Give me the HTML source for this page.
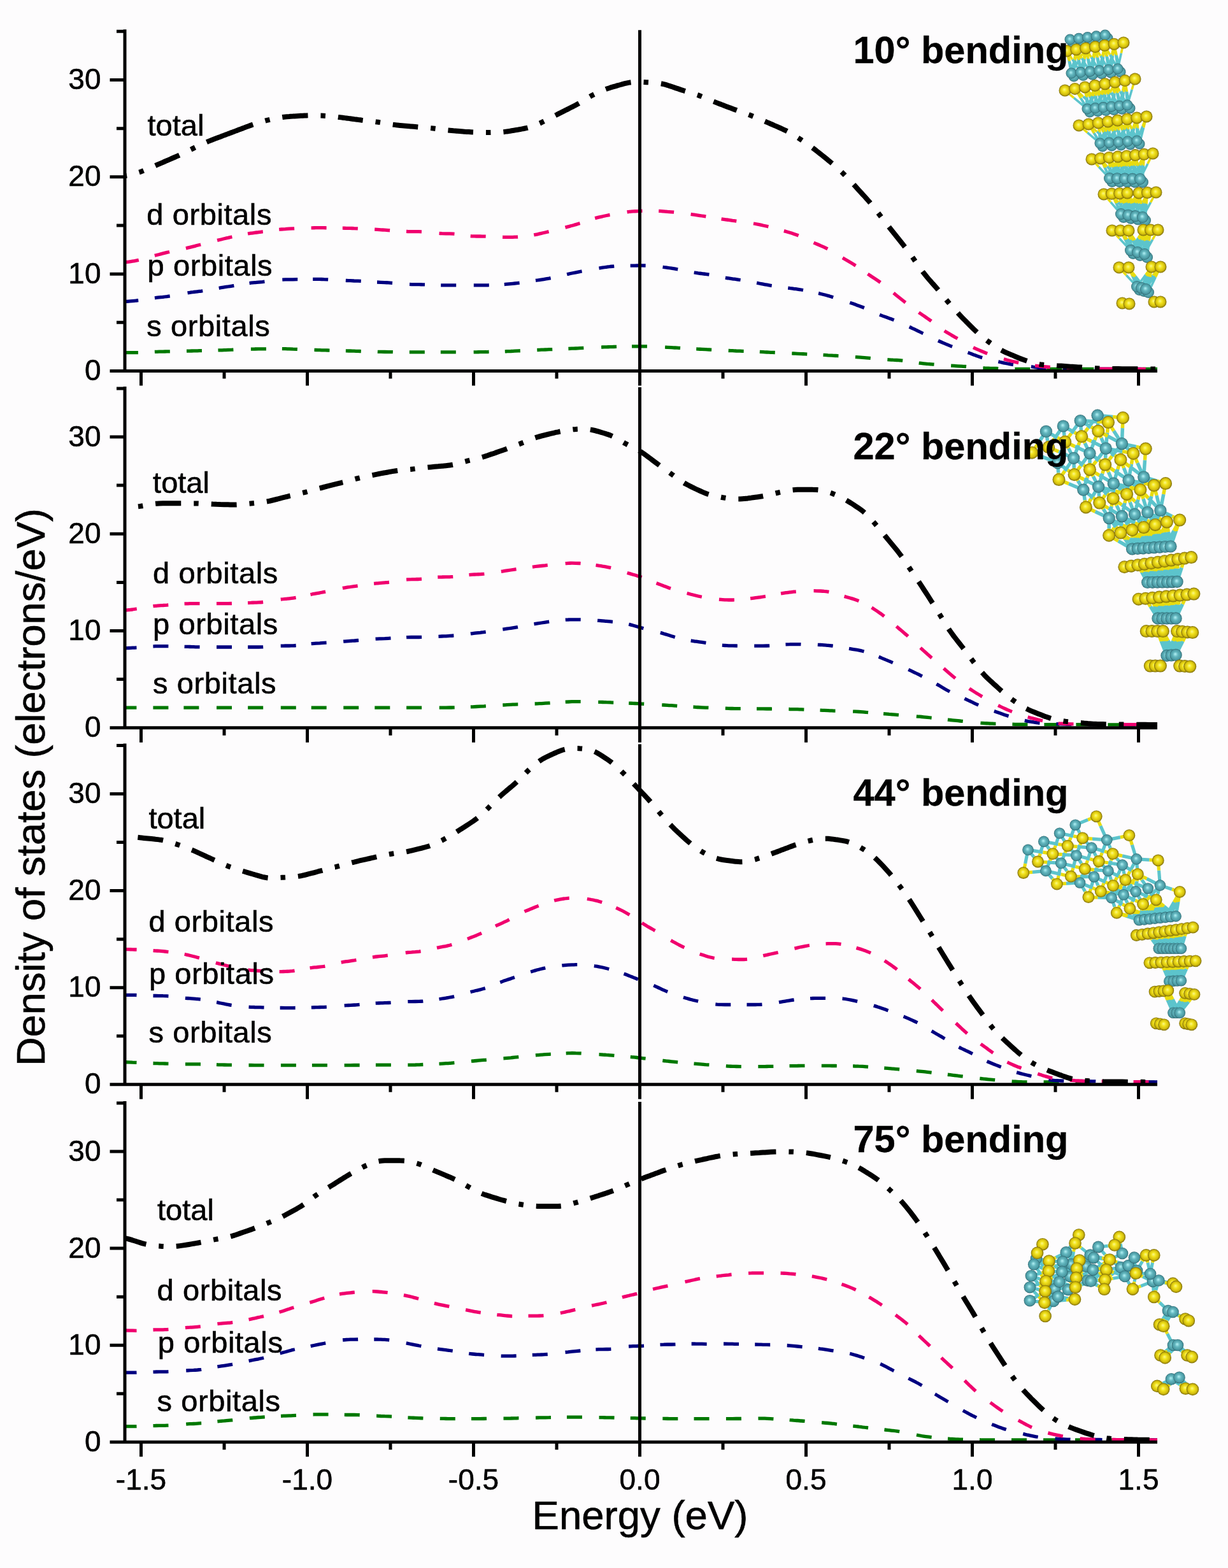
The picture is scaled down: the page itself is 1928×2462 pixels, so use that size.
<!DOCTYPE html><html><head><meta charset="utf-8"><title>DOS bending</title><style>html,body{margin:0;padding:0;background:#fdfcfd}svg{display:block}text{stroke:#000;stroke-width:0.6px}text.t{stroke-width:0.3px}</style></head><body>
<svg width="1928" height="2462" viewBox="0 0 1928 2462" font-family="'Liberation Sans', Arial, sans-serif">
<rect width="1928" height="2462" fill="#fdfcfd"/>
<g><path d="M196,553.7 C197,553.7 200,553.7 202,553.7 C204,553.7 206,553.7 208,553.7 C210,553.7 212,553.7 214,553.6 C216,553.6 218,553.6 220,553.5 C222,553.4 224,553.3 226,553.3 C228,553.2 230,553.1 232,553 C234,552.9 236,552.8 238,552.7 C240,552.6 242,552.5 244,552.4 C246,552.4 248,552.3 250,552.2 C252,552.2 254,552.1 256,552.1 C258,552 260,552 262,551.9 C264,551.9 266,551.8 268,551.8 C270,551.8 272,551.7 274,551.7 C276,551.6 278,551.6 280,551.5 C282,551.5 284,551.4 286,551.4 C288,551.3 290,551.3 292,551.2 C294,551.2 296,551.1 298,551.1 C300,551 302,551 304,550.9 C306,550.9 308,550.8 310,550.8 C312,550.7 314,550.7 316,550.6 C318,550.6 320,550.5 322,550.5 C324,550.4 326,550.4 328,550.4 C330,550.3 332,550.3 334,550.2 C336,550.1 338,550.1 340,550 C342,550 344,549.9 346,549.8 C348,549.8 350,549.7 352,549.6 C354,549.6 356,549.5 358,549.4 C360,549.3 362,549.2 364,549.2 C366,549.1 368,549 370,548.9 C372,548.9 374,548.8 376,548.7 C378,548.6 380,548.5 382,548.5 C384,548.4 386,548.3 388,548.3 C390,548.2 392,548.1 394,548.1 C396,548 398,548 400,548 C402,547.9 404,547.9 406,547.9 C408,547.9 410,547.8 412,547.8 C414,547.8 416,547.8 418,547.8 C420,547.7 422,547.7 424,547.7 C426,547.7 428,547.7 430,547.6 C432,547.6 434,547.6 436,547.6 C438,547.6 440,547.6 442,547.6 C444,547.6 446,547.7 448,547.7 C450,547.8 452,547.9 454,547.9 C456,548 458,548.1 460,548.2 C462,548.2 464,548.3 466,548.4 C468,548.5 470,548.6 472,548.6 C474,548.7 476,548.8 478,548.9 C480,549 482,549 484,549.1 C486,549.2 488,549.3 490,549.3 C492,549.4 494,549.5 496,549.5 C498,549.6 500,549.6 502,549.7 C504,549.8 506,549.8 508,549.9 C510,549.9 512,550 514,550 C516,550.1 518,550.1 520,550.2 C522,550.2 524,550.3 526,550.3 C528,550.4 530,550.5 532,550.5 C534,550.6 536,550.6 538,550.7 C540,550.7 542,550.8 544,550.8 C546,550.9 548,551 550,551 C552,551.1 554,551.2 556,551.2 C558,551.3 560,551.3 562,551.4 C564,551.5 566,551.5 568,551.6 C570,551.7 572,551.7 574,551.8 C576,551.9 578,551.9 580,552 C582,552 584,552.1 586,552.2 C588,552.2 590,552.3 592,552.3 C594,552.4 596,552.4 598,552.4 C600,552.5 602,552.5 604,552.5 C606,552.5 608,552.5 610,552.6 C612,552.6 614,552.6 616,552.6 C618,552.7 620,552.7 622,552.7 C624,552.7 626,552.7 628,552.7 C630,552.8 632,552.8 634,552.8 C636,552.8 638,552.8 640,552.9 C642,552.9 644,552.9 646,552.9 C648,552.9 650,552.9 652,552.9 C654,552.9 656,552.9 658,552.9 C660,552.9 662,552.9 664,552.9 C666,552.9 668,552.9 670,552.9 C672,552.9 674,552.9 676,552.9 C678,552.9 680,552.9 682,552.9 C684,552.9 686,552.9 688,552.9 C690,552.9 692,552.9 694,552.9 C696,552.9 698,552.9 700,552.9 C702,552.9 704,552.9 706,552.9 C708,552.9 710,552.9 712,552.9 C714,552.9 716,552.9 718,552.9 C720,552.9 722,552.9 724,552.9 C726,552.9 728,552.9 730,552.9 C732,552.9 734,552.9 736,552.9 C738,552.9 740,552.9 742,552.9 C744,552.8 746,552.8 748,552.8 C750,552.8 752,552.7 754,552.7 C756,552.7 758,552.6 760,552.6 C762,552.5 764,552.5 766,552.5 C768,552.4 770,552.4 772,552.3 C774,552.3 776,552.2 778,552.2 C780,552.2 782,552.1 784,552.1 C786,552 788,552 790,551.9 C792,551.9 794,551.8 796,551.7 C798,551.6 800,551.5 802,551.5 C804,551.4 806,551.3 808,551.2 C810,551.1 812,551 814,550.9 C816,550.8 818,550.7 820,550.6 C822,550.5 824,550.4 826,550.3 C828,550.2 830,550.1 832,550 C834,549.9 836,549.8 838,549.7 C840,549.7 842,549.6 844,549.5 C846,549.4 848,549.3 850,549.2 C852,549.1 854,549.1 856,549 C858,548.9 860,548.8 862,548.7 C864,548.7 866,548.6 868,548.5 C870,548.4 872,548.3 874,548.3 C876,548.2 878,548.1 880,548 C882,547.9 884,547.9 886,547.8 C888,547.7 890,547.6 892,547.5 C894,547.4 896,547.3 898,547.2 C900,547.2 902,547.1 904,547 C906,546.9 908,546.8 910,546.7 C912,546.6 914,546.5 916,546.4 C918,546.3 920,546.2 922,546.1 C924,546 926,545.9 928,545.8 C930,545.7 932,545.6 934,545.5 C936,545.4 938,545.3 940,545.2 C942,545.1 944,545.1 946,545 C948,544.9 950,544.9 952,544.8 C954,544.8 956,544.7 958,544.7 C960,544.6 962,544.6 964,544.5 C966,544.4 968,544.4 970,544.3 C972,544.3 974,544.2 976,544.2 C978,544.2 980,544.1 982,544.1 C984,544 986,544 988,543.9 C990,543.9 992,543.9 994,543.8 C996,543.8 998,543.8 1000,543.8 C1002,543.8 1004,543.8 1006,543.8 C1008,543.8 1010,543.8 1012,543.8 C1014,543.9 1016,543.9 1018,543.9 C1020,544 1022,544.1 1024,544.1 C1026,544.2 1028,544.3 1030,544.4 C1032,544.5 1034,544.6 1036,544.7 C1038,544.7 1040,544.8 1042,544.9 C1044,545 1046,545.2 1048,545.3 C1050,545.4 1052,545.5 1054,545.6 C1056,545.7 1058,545.9 1060,546 C1062,546.1 1064,546.2 1066,546.3 C1068,546.5 1070,546.6 1072,546.7 C1074,546.8 1076,547 1078,547.1 C1080,547.2 1082,547.3 1084,547.4 C1086,547.6 1088,547.7 1090,547.8 C1092,547.9 1094,548 1096,548.1 C1098,548.2 1100,548.3 1102,548.4 C1104,548.5 1106,548.6 1108,548.7 C1110,548.8 1112,548.9 1114,549 C1116,549.1 1118,549.2 1120,549.3 C1122,549.4 1124,549.5 1126,549.6 C1128,549.7 1130,549.8 1132,549.9 C1134,550 1136,550.1 1138,550.2 C1140,550.3 1142,550.4 1144,550.5 C1146,550.6 1148,550.7 1150,550.7 C1152,550.8 1154,550.9 1156,551 C1158,551 1160,551.1 1162,551.2 C1164,551.3 1166,551.4 1168,551.4 C1170,551.5 1172,551.6 1174,551.7 C1176,551.7 1178,551.8 1180,551.9 C1182,552 1184,552.1 1186,552.1 C1188,552.2 1190,552.3 1192,552.4 C1194,552.5 1196,552.6 1198,552.7 C1200,552.8 1202,552.9 1204,553 C1206,553.1 1208,553.2 1210,553.3 C1212,553.3 1214,553.5 1216,553.5 C1218,553.6 1220,553.8 1222,553.8 C1224,553.9 1226,554.1 1228,554.1 C1230,554.2 1232,554.3 1234,554.4 C1236,554.5 1238,554.6 1240,554.7 C1242,554.8 1244,554.9 1246,555 C1248,555.1 1250,555.2 1252,555.3 C1254,555.4 1256,555.5 1258,555.6 C1260,555.7 1262,555.8 1264,555.9 C1266,556 1268,556.1 1270,556.2 C1272,556.3 1274,556.4 1276,556.5 C1278,556.6 1280,556.7 1282,556.8 C1284,556.9 1286,557 1288,557.1 C1290,557.2 1292,557.3 1294,557.4 C1296,557.5 1298,557.6 1300,557.8 C1302,557.9 1304,558 1306,558.1 C1308,558.3 1310,558.4 1312,558.5 C1314,558.6 1316,558.8 1318,558.9 C1320,559 1322,559.2 1324,559.3 C1326,559.4 1328,559.5 1330,559.7 C1332,559.8 1334,559.9 1336,560.1 C1338,560.2 1340,560.3 1342,560.5 C1344,560.6 1346,560.8 1348,560.9 C1350,561.1 1352,561.3 1354,561.4 C1356,561.6 1358,561.8 1360,561.9 C1362,562.1 1364,562.3 1366,562.4 C1368,562.6 1370,562.8 1372,562.9 C1374,563.1 1376,563.3 1378,563.4 C1380,563.6 1382,563.8 1384,563.9 C1386,564.1 1388,564.3 1390,564.4 C1392,564.5 1394,564.7 1396,564.8 C1398,564.9 1400,565 1402,565.2 C1404,565.3 1406,565.4 1408,565.5 C1410,565.6 1412,565.8 1414,565.9 C1416,566.1 1418,566.3 1420,566.6 C1422,566.8 1424,567.1 1426,567.5 C1428,567.8 1430,568.1 1432,568.5 C1434,568.8 1436,569.1 1438,569.4 C1440,569.7 1442,570 1444,570.2 C1446,570.5 1448,570.7 1450,570.9 C1452,571.1 1454,571.2 1456,571.4 C1458,571.5 1460,571.7 1462,571.8 C1464,572 1466,572.1 1468,572.3 C1470,572.4 1472,572.6 1474,572.7 C1476,572.9 1478,573 1480,573.2 C1482,573.3 1484,573.5 1486,573.6 C1488,573.8 1490,573.9 1492,574.1 C1494,574.2 1496,574.3 1498,574.4 C1500,574.6 1502,574.7 1504,574.8 C1506,574.9 1508,575 1510,575.1 C1512,575.3 1514,575.4 1516,575.5 C1518,575.7 1520,575.8 1522,576 C1524,576.2 1526,576.4 1528,576.5 C1530,576.7 1532,576.9 1534,577.1 C1536,577.3 1538,577.4 1540,577.6 C1542,577.7 1544,577.8 1546,578 C1548,578.1 1550,578.1 1552,578.2 C1554,578.3 1556,578.3 1558,578.4 C1560,578.4 1562,578.5 1564,578.5 C1566,578.6 1568,578.7 1570,578.7 C1572,578.8 1574,578.8 1576,578.9 C1578,578.9 1580,579 1582,579 C1584,579.1 1586,579.1 1588,579.2 C1590,579.2 1592,579.3 1594,579.3 C1596,579.4 1598,579.4 1600,579.4 C1602,579.5 1604,579.5 1606,579.5 C1608,579.5 1610,579.5 1612,579.5 C1614,579.5 1616,579.5 1618,579.5 C1620,579.5 1622,579.5 1624,579.5 C1626,579.5 1628,579.5 1630,579.5 C1632,579.5 1634,579.5 1636,579.5 C1638,579.5 1640,579.5 1642,579.5 C1644,579.5 1646,579.5 1648,579.5 C1650,579.5 1652,579.5 1654,579.5 C1656,579.5 1658,579.5 1660,579.5 C1662,579.5 1664,579.5 1666,579.5 C1668,579.5 1670,579.5 1672,579.5 C1674,579.5 1676,579.5 1678,579.5 C1680,579.5 1682,579.5 1684,579.5 C1686,579.5 1688,579.5 1690,579.5 C1692,579.5 1694,579.5 1696,579.5 C1698,579.5 1700,579.5 1702,579.5 C1704,579.5 1706,579.5 1708,579.5 C1710,579.5 1712,579.5 1714,579.5 C1716,579.5 1718,579.5 1720,579.5 C1722,579.5 1724,579.5 1726,579.5 C1728,579.5 1730,579.5 1732,579.5 C1734,579.5 1736,579.5 1738,579.5 C1740,579.5 1742,579.5 1744,579.5 C1746,579.5 1748,579.5 1750,579.5 C1752,579.5 1754,579.5 1756,579.5 C1758,579.5 1760,579.5 1762,579.5 C1764,579.5 1766,579.5 1768,579.5 C1770,579.5 1772,579.5 1774,579.5 C1776,579.5 1778,579.5 1780,579.5 C1782,579.5 1784,579.5 1786,579.5 C1788,579.5 1790,579.5 1792,579.5 C1794,579.5 1796,579.5 1798,579.5 C1800,579.5 1802,579.5 1804,579.5 C1806,579.5 1808,579.5 1810,579.5 C1812,579.5 1814.8,579.5 1816,579.5 C1817.2,579.5 1816.8,579.5 1817,579.5" fill="none" stroke="#007800" stroke-width="5.3" stroke-dasharray="20.9 26.0 24.0 26.1 24.0 25.5 24.0 27.5 24.0 25.0 24.0 26.6 24.0 25.4 24.0 26.0 24.0 26.0 24.0 25.0 24.0 27.8 24.0 25.2 24.0 26.5 24.0 25.2 24.0 27.7 24.0 24.0 24.0 28.1 24.0 25.2 24.0 26.5 24.0 25.2 24.0 26.5 24.0 25.3 24.0 26.5 24.0 26.6 24.0 25.7 24.0 26.6 24.0 26.4 24.0 26.0 24.0 26.0 24.0 26.0 24.0 26.0 24.0 26.0 24.0 199.5" stroke-linejoin="round"/><path d="M196,473.5 C197,473.4 200,473.3 202,473.1 C204,473 206,472.8 208,472.6 C210,472.5 212,472.3 214,472 C216,471.8 218,471.6 220,471.3 C222,471 224,470.7 226,470.4 C228,470.1 230,469.8 232,469.5 C234,469.1 236,468.8 238,468.5 C240,468.2 242,467.9 244,467.6 C246,467.4 248,467.2 250,466.9 C252,466.7 254,466.5 256,466.3 C258,466 260,465.8 262,465.6 C264,465.3 266,465 268,464.7 C270,464.4 272,464.1 274,463.7 C276,463.3 278,462.9 280,462.5 C282,462.1 284,461.7 286,461.3 C288,460.9 290,460.5 292,460.2 C294,459.9 296,459.5 298,459.3 C300,459 302,458.8 304,458.5 C306,458.3 308,458.1 310,457.8 C312,457.6 314,457.3 316,457.1 C318,456.8 320,456.5 322,456.1 C324,455.8 326,455.5 328,455.1 C330,454.7 332,454.4 334,454 C336,453.6 338,453.3 340,452.9 C342,452.6 344,452.2 346,451.9 C348,451.6 350,451.2 352,450.9 C354,450.6 356,450.3 358,450 C360,449.7 362,449.4 364,449.1 C366,448.8 368,448.4 370,448.1 C372,447.8 374,447.4 376,447.1 C378,446.7 380,446.4 382,446 C384,445.7 386,445.3 388,445 C390,444.7 392,444.5 394,444.2 C396,444 398,443.8 400,443.6 C402,443.4 404,443.3 406,443.1 C408,442.9 410,442.7 412,442.6 C414,442.4 416,442.2 418,441.9 C420,441.7 422,441.5 424,441.2 C426,441 428,440.7 430,440.5 C432,440.2 434,440 436,439.8 C438,439.6 440,439.4 442,439.2 C444,439.1 446,439 448,438.9 C450,438.9 452,438.8 454,438.8 C456,438.8 458,438.8 460,438.8 C462,438.8 464,438.8 466,438.7 C468,438.7 470,438.7 472,438.6 C474,438.6 476,438.5 478,438.5 C480,438.4 482,438.4 484,438.3 C486,438.3 488,438.3 490,438.3 C492,438.3 494,438.3 496,438.3 C498,438.3 500,438.4 502,438.4 C504,438.5 506,438.5 508,438.6 C510,438.6 512,438.7 514,438.8 C516,438.9 518,439 520,439.1 C522,439.2 524,439.3 526,439.4 C528,439.5 530,439.7 532,439.8 C534,439.9 536,440 538,440.1 C540,440.3 542,440.4 544,440.5 C546,440.6 548,440.6 550,440.7 C552,440.8 554,440.9 556,441 C558,441 560,441.1 562,441.2 C564,441.3 566,441.4 568,441.5 C570,441.6 572,441.7 574,441.8 C576,442 578,442.1 580,442.2 C582,442.3 584,442.5 586,442.6 C588,442.7 590,442.8 592,443 C594,443.1 596,443.2 598,443.3 C600,443.4 602,443.5 604,443.6 C606,443.7 608,443.8 610,443.9 C612,444.1 614,444.2 616,444.3 C618,444.5 620,444.6 622,444.8 C624,445 626,445.1 628,445.3 C630,445.5 632,445.7 634,445.8 C636,446 638,446.2 640,446.3 C642,446.4 644,446.5 646,446.6 C648,446.6 650,446.6 652,446.7 C654,446.7 656,446.7 658,446.7 C660,446.7 662,446.8 664,446.8 C666,446.8 668,446.9 670,447 C672,447 674,447.1 676,447.2 C678,447.3 680,447.4 682,447.4 C684,447.5 686,447.6 688,447.7 C690,447.7 692,447.8 694,447.8 C696,447.9 698,447.9 700,447.9 C702,447.9 704,447.9 706,447.9 C708,447.9 710,447.9 712,447.9 C714,447.9 716,447.9 718,447.9 C720,447.9 722,447.9 724,447.9 C726,447.9 728,447.9 730,447.9 C732,447.9 734,447.9 736,447.9 C738,447.9 740,447.9 742,447.9 C744,447.9 746,447.9 748,447.9 C750,447.9 752,447.9 754,447.9 C756,447.9 758,447.9 760,447.9 C762,447.8 764,447.8 766,447.8 C768,447.7 770,447.6 772,447.6 C774,447.5 776,447.4 778,447.3 C780,447.2 782,447.1 784,447 C786,446.9 788,446.8 790,446.7 C792,446.5 794,446.4 796,446.2 C798,446 800,445.8 802,445.6 C804,445.4 806,445.2 808,445 C810,444.8 812,444.6 814,444.3 C816,444.1 818,443.8 820,443.6 C822,443.3 824,443 826,442.7 C828,442.4 830,442.1 832,441.8 C834,441.5 836,441.2 838,440.9 C840,440.6 842,440.3 844,440 C846,439.7 848,439.4 850,439.1 C852,438.8 854,438.5 856,438.1 C858,437.8 860,437.4 862,437.1 C864,436.7 866,436.3 868,435.8 C870,435.4 872,435 874,434.5 C876,434 878,433.6 880,433.1 C882,432.6 884,432.1 886,431.7 C888,431.2 890,430.8 892,430.3 C894,429.9 896,429.5 898,429 C900,428.6 902,428.2 904,427.8 C906,427.4 908,427 910,426.6 C912,426.2 914,425.8 916,425.4 C918,425 920,424.6 922,424.3 C924,423.9 926,423.5 928,423.2 C930,422.8 932,422.5 934,422.1 C936,421.8 938,421.4 940,421.1 C942,420.8 944,420.5 946,420.2 C948,419.9 950,419.6 952,419.3 C954,419 956,418.8 958,418.5 C960,418.3 962,418.1 964,418 C966,417.8 968,417.7 970,417.6 C972,417.6 974,417.5 976,417.5 C978,417.4 980,417.4 982,417.3 C984,417.3 986,417.3 988,417.2 C990,417.2 992,417.2 994,417.1 C996,417.1 998,417 1000,417 C1002,417 1004,416.9 1006,416.9 C1008,416.9 1010,416.9 1012,417 C1014,417 1016,417.1 1018,417.2 C1020,417.3 1022,417.5 1024,417.7 C1026,417.8 1028,418 1030,418.2 C1032,418.4 1034,418.6 1036,418.8 C1038,419 1040,419.2 1042,419.5 C1044,419.8 1046,420 1048,420.3 C1050,420.6 1052,420.9 1054,421.2 C1056,421.5 1058,421.9 1060,422.2 C1062,422.6 1064,422.9 1066,423.3 C1068,423.7 1070,424.1 1072,424.5 C1074,424.9 1076,425.4 1078,425.8 C1080,426.2 1082,426.6 1084,427 C1086,427.3 1088,427.7 1090,428 C1092,428.3 1094,428.6 1096,428.9 C1098,429.1 1100,429.4 1102,429.6 C1104,429.9 1106,430.1 1108,430.4 C1110,430.7 1112,431 1114,431.3 C1116,431.7 1118,432 1120,432.4 C1122,432.8 1124,433.2 1126,433.7 C1128,434.1 1130,434.5 1132,434.9 C1134,435.3 1136,435.6 1138,436 C1140,436.3 1142,436.7 1144,436.9 C1146,437.2 1148,437.5 1150,437.8 C1152,438.1 1154,438.3 1156,438.6 C1158,438.9 1160,439.2 1162,439.5 C1164,439.8 1166,440.1 1168,440.5 C1170,440.8 1172,441.2 1174,441.6 C1176,441.9 1178,442.3 1180,442.7 C1182,443.1 1184,443.4 1186,443.8 C1188,444.2 1190,444.6 1192,445 C1194,445.4 1196,445.7 1198,446.1 C1200,446.5 1202,446.9 1204,447.2 C1206,447.6 1208,448 1210,448.3 C1212,448.6 1214,448.9 1216,449.2 C1218,449.5 1220,449.8 1222,450.1 C1224,450.4 1226,450.6 1228,450.9 C1230,451.2 1232,451.4 1234,451.7 C1236,452 1238,452.2 1240,452.5 C1242,452.8 1244,453 1246,453.3 C1248,453.6 1250,453.8 1252,454.1 C1254,454.4 1256,454.7 1258,455 C1260,455.3 1262,455.7 1264,456 C1266,456.4 1268,456.8 1270,457.2 C1272,457.6 1274,458 1276,458.4 C1278,458.8 1280,459.2 1282,459.7 C1284,460.2 1286,460.6 1288,461.2 C1290,461.7 1292,462.2 1294,462.7 C1296,463.3 1298,463.8 1300,464.4 C1302,465 1304,465.5 1306,466.1 C1308,466.7 1310,467.3 1312,467.9 C1314,468.6 1316,469.2 1318,469.8 C1320,470.5 1322,471.1 1324,471.8 C1326,472.4 1328,473.1 1330,473.7 C1332,474.4 1334,475.1 1336,475.8 C1338,476.4 1340,477.1 1342,477.8 C1344,478.5 1346,479.3 1348,480 C1350,480.7 1352,481.5 1354,482.3 C1356,483.1 1358,484 1360,484.9 C1362,485.7 1364,486.7 1366,487.6 C1368,488.5 1370,489.4 1372,490.3 C1374,491.2 1376,492.1 1378,493 C1380,493.8 1382,494.6 1384,495.4 C1386,496.2 1388,496.9 1390,497.6 C1392,498.3 1394,499 1396,499.7 C1398,500.4 1400,501.2 1402,501.9 C1404,502.7 1406,503.5 1408,504.4 C1410,505.2 1412,506.1 1414,507 C1416,507.9 1418,508.8 1420,509.7 C1422,510.6 1424,511.5 1426,512.5 C1428,513.4 1430,514.3 1432,515.3 C1434,516.2 1436,517.2 1438,518.1 C1440,519.1 1442,520 1444,521 C1446,522 1448,523 1450,523.9 C1452,524.9 1454,525.9 1456,526.9 C1458,527.8 1460,528.8 1462,529.8 C1464,530.8 1466,531.7 1468,532.7 C1470,533.6 1472,534.6 1474,535.5 C1476,536.4 1478,537.2 1480,538.1 C1482,539 1484,539.8 1486,540.6 C1488,541.5 1490,542.3 1492,543.1 C1494,543.9 1496,544.6 1498,545.4 C1500,546.2 1502,546.9 1504,547.7 C1506,548.4 1508,549.2 1510,549.9 C1512,550.7 1514,551.4 1516,552.1 C1518,552.9 1520,553.6 1522,554.4 C1524,555.2 1526,555.9 1528,556.7 C1530,557.4 1532,558.2 1534,558.9 C1536,559.7 1538,560.4 1540,561 C1542,561.7 1544,562.3 1546,562.8 C1548,563.4 1550,563.9 1552,564.4 C1554,564.9 1556,565.3 1558,565.8 C1560,566.3 1562,566.7 1564,567.2 C1566,567.6 1568,568.1 1570,568.5 C1572,568.9 1574,569.4 1576,569.8 C1578,570.2 1580,570.7 1582,571 C1584,571.4 1586,571.8 1588,572.2 C1590,572.5 1592,572.8 1594,573.1 C1596,573.3 1598,573.6 1600,573.8 C1602,574 1604,574.1 1606,574.3 C1608,574.5 1610,574.7 1612,574.9 C1614,575.1 1616,575.4 1618,575.6 C1620,575.9 1622,576.2 1624,576.5 C1626,576.8 1628,577.2 1630,577.5 C1632,577.8 1634,578.1 1636,578.4 C1638,578.6 1640,578.8 1642,578.9 C1644,579.1 1646,579.1 1648,579.2 C1650,579.2 1652,579.2 1654,579.3 C1656,579.3 1658,579.3 1660,579.3 C1662,579.3 1664,579.3 1666,579.3 C1668,579.3 1670,579.4 1672,579.4 C1674,579.4 1676,579.4 1678,579.4 C1680,579.4 1682,579.4 1684,579.4 C1686,579.4 1688,579.4 1690,579.4 C1692,579.5 1694,579.5 1696,579.5 C1698,579.5 1700,579.5 1702,579.5 C1704,579.5 1706,579.5 1708,579.5 C1710,579.5 1712,579.5 1714,579.5 C1716,579.5 1718,579.5 1720,579.5 C1722,579.5 1724,579.5 1726,579.5 C1728,579.5 1730,579.5 1732,579.5 C1734,579.5 1736,579.5 1738,579.5 C1740,579.5 1742,579.5 1744,579.5 C1746,579.5 1748,579.5 1750,579.5 C1752,579.5 1754,579.5 1756,579.5 C1758,579.5 1760,579.5 1762,579.5 C1764,579.5 1766,579.5 1768,579.5 C1770,579.5 1772,579.5 1774,579.5 C1776,579.5 1778,579.5 1780,579.5 C1782,579.5 1784,579.5 1786,579.5 C1788,579.5 1790,579.5 1792,579.5 C1794,579.5 1796,579.5 1798,579.5 C1800,579.5 1802,579.5 1804,579.5 C1806,579.5 1808,579.5 1810,579.5 C1812,579.5 1814.8,579.5 1816,579.5 C1817.2,579.5 1816.8,579.5 1817,579.5" fill="none" stroke="#000080" stroke-width="5.3" stroke-dasharray="21.3 26.0 24.0 28.2 24.0 25.8 24.0 24.5 24.0 28.0 24.0 23.9 24.0 27.7 24.0 25.3 24.0 27.1 24.0 25.2 24.0 27.6 24.0 24.0 24.0 25.6 24.0 26.1 24.0 27.3 24.0 25.4 24.0 27.0 24.0 25.9 24.0 25.9 24.0 25.9 24.0 25.8 24.0 24.6 24.0 27.4 24.0 26.5 24.0 26.4 24.0 26.2 24.0 26.2 24.0 26.0 24.0 28.2 24.0 26.0 24.0 26.0 24.0 26.0 24.0 224.2" stroke-linejoin="round"/><path d="M196,411.8 C197,411.7 200,411.4 202,411.2 C204,410.9 206,410.6 208,410.2 C210,409.9 212,409.5 214,409.1 C216,408.7 218,408.3 220,407.8 C222,407.3 224,406.7 226,406.2 C228,405.6 230,405 232,404.5 C234,403.9 236,403.3 238,402.7 C240,402.2 242,401.6 244,401 C246,400.5 248,400 250,399.5 C252,398.9 254,398.4 256,397.9 C258,397.4 260,396.9 262,396.4 C264,396 266,395.5 268,395 C270,394.6 272,394.1 274,393.7 C276,393.3 278,392.9 280,392.4 C282,392 284,391.6 286,391.2 C288,390.7 290,390.3 292,389.8 C294,389.4 296,388.9 298,388.4 C300,387.9 302,387.4 304,386.9 C306,386.4 308,385.8 310,385.3 C312,384.8 314,384.3 316,383.8 C318,383.2 320,382.7 322,382.2 C324,381.7 326,381.2 328,380.7 C330,380.2 332,379.7 334,379.2 C336,378.7 338,378.2 340,377.7 C342,377.2 344,376.7 346,376.2 C348,375.7 350,375.3 352,374.8 C354,374.3 356,373.8 358,373.4 C360,372.9 362,372.5 364,372 C366,371.6 368,371.1 370,370.7 C372,370.3 374,369.9 376,369.5 C378,369.1 380,368.7 382,368.3 C384,367.9 386,367.5 388,367.2 C390,366.8 392,366.5 394,366.2 C396,365.9 398,365.7 400,365.4 C402,365.1 404,364.9 406,364.6 C408,364.4 410,364.1 412,363.8 C414,363.6 416,363.3 418,363 C420,362.7 422,362.4 424,362.1 C426,361.9 428,361.6 430,361.3 C432,361 434,360.8 436,360.6 C438,360.3 440,360.2 442,360 C444,359.8 446,359.7 448,359.6 C450,359.4 452,359.3 454,359.2 C456,359.1 458,359 460,358.9 C462,358.8 464,358.7 466,358.6 C468,358.5 470,358.4 472,358.4 C474,358.3 476,358.2 478,358.1 C480,358.1 482,358 484,357.9 C486,357.9 488,357.8 490,357.8 C492,357.8 494,357.7 496,357.7 C498,357.7 500,357.7 502,357.7 C504,357.7 506,357.7 508,357.7 C510,357.7 512,357.8 514,357.8 C516,357.8 518,357.8 520,357.9 C522,357.9 524,357.9 526,358 C528,358 530,358 532,358.1 C534,358.1 536,358.2 538,358.2 C540,358.2 542,358.3 544,358.3 C546,358.4 548,358.4 550,358.4 C552,358.5 554,358.5 556,358.6 C558,358.6 560,358.7 562,358.8 C564,358.9 566,358.9 568,359 C570,359.1 572,359.2 574,359.3 C576,359.4 578,359.6 580,359.7 C582,359.8 584,359.9 586,360 C588,360.1 590,360.3 592,360.4 C594,360.5 596,360.6 598,360.8 C600,360.9 602,361.1 604,361.2 C606,361.3 608,361.5 610,361.6 C612,361.7 614,361.9 616,362 C618,362.2 620,362.3 622,362.4 C624,362.6 626,362.7 628,362.9 C630,363 632,363.1 634,363.2 C636,363.3 638,363.4 640,363.5 C642,363.5 644,363.5 646,363.6 C648,363.6 650,363.6 652,363.6 C654,363.6 656,363.7 658,363.7 C660,363.8 662,363.9 664,364 C666,364.1 668,364.3 670,364.5 C672,364.7 674,364.9 676,365.1 C678,365.4 680,365.6 682,365.8 C684,366 686,366.2 688,366.3 C690,366.5 692,366.6 694,366.7 C696,366.7 698,366.7 700,366.8 C702,366.8 704,366.8 706,366.9 C708,367 710,367.1 712,367.2 C714,367.4 716,367.6 718,367.8 C720,368.1 722,368.4 724,368.7 C726,369 728,369.3 730,369.6 C732,369.8 734,370.1 736,370.3 C738,370.5 740,370.7 742,370.8 C744,370.9 746,370.9 748,371 C750,371 752,371 754,371 C756,371 758,371.1 760,371.1 C762,371.1 764,371.2 766,371.3 C768,371.3 770,371.4 772,371.5 C774,371.6 776,371.7 778,371.8 C780,371.9 782,372 784,372.1 C786,372.2 788,372.2 790,372.3 C792,372.3 794,372.4 796,372.4 C798,372.4 800,372.4 802,372.4 C804,372.3 806,372.3 808,372.2 C810,372.2 812,372.1 814,371.9 C816,371.8 818,371.6 820,371.3 C822,371.1 824,370.9 826,370.7 C828,370.4 830,370.2 832,369.9 C834,369.6 836,369.3 838,369 C840,368.6 842,368.2 844,367.8 C846,367.4 848,366.9 850,366.4 C852,366 854,365.5 856,365 C858,364.5 860,364 862,363.5 C864,363 866,362.5 868,362 C870,361.5 872,361 874,360.5 C876,360 878,359.5 880,359 C882,358.5 884,358 886,357.5 C888,356.9 890,356.4 892,355.9 C894,355.4 896,354.8 898,354.3 C900,353.7 902,353.2 904,352.6 C906,352 908,351.4 910,350.7 C912,350.1 914,349.4 916,348.7 C918,348 920,347.3 922,346.6 C924,345.9 926,345.2 928,344.5 C930,343.8 932,343.2 934,342.6 C936,342.1 938,341.6 940,341.1 C942,340.6 944,340.2 946,339.8 C948,339.3 950,338.9 952,338.5 C954,338.1 956,337.7 958,337.4 C960,337 962,336.6 964,336.2 C966,335.9 968,335.5 970,335.1 C972,334.8 974,334.4 976,334.1 C978,333.7 980,333.4 982,333.1 C984,332.9 986,332.6 988,332.4 C990,332.2 992,332.1 994,331.9 C996,331.8 998,331.7 1000,331.6 C1002,331.4 1004,331.4 1006,331.3 C1008,331.2 1010,331.2 1012,331.2 C1014,331.1 1016,331.1 1018,331.1 C1020,331.1 1022,331.1 1024,331.1 C1026,331.1 1028,331.2 1030,331.2 C1032,331.3 1034,331.3 1036,331.4 C1038,331.5 1040,331.7 1042,331.8 C1044,331.9 1046,332.1 1048,332.3 C1050,332.4 1052,332.6 1054,332.8 C1056,333 1058,333.2 1060,333.4 C1062,333.6 1064,333.9 1066,334.1 C1068,334.4 1070,334.6 1072,334.9 C1074,335.1 1076,335.4 1078,335.6 C1080,335.9 1082,336.1 1084,336.4 C1086,336.7 1088,337 1090,337.2 C1092,337.5 1094,337.8 1096,338.1 C1098,338.4 1100,338.7 1102,339 C1104,339.3 1106,339.6 1108,339.9 C1110,340.2 1112,340.5 1114,340.8 C1116,341.2 1118,341.5 1120,341.8 C1122,342.1 1124,342.4 1126,342.8 C1128,343.1 1130,343.4 1132,343.7 C1134,344 1136,344.3 1138,344.6 C1140,344.9 1142,345.1 1144,345.4 C1146,345.7 1148,346 1150,346.3 C1152,346.5 1154,346.8 1156,347.1 C1158,347.4 1160,347.6 1162,347.9 C1164,348.2 1166,348.5 1168,348.7 C1170,349 1172,349.3 1174,349.6 C1176,349.9 1178,350.2 1180,350.5 C1182,350.8 1184,351.2 1186,351.5 C1188,351.9 1190,352.3 1192,352.7 C1194,353.1 1196,353.5 1198,354 C1200,354.4 1202,354.8 1204,355.3 C1206,355.8 1208,356.3 1210,356.8 C1212,357.3 1214,357.8 1216,358.4 C1218,358.9 1220,359.5 1222,360.1 C1224,360.6 1226,361.2 1228,361.8 C1230,362.4 1232,362.9 1234,363.5 C1236,364.1 1238,364.7 1240,365.3 C1242,365.9 1244,366.5 1246,367.2 C1248,367.9 1250,368.6 1252,369.3 C1254,370.1 1256,371 1258,371.8 C1260,372.7 1262,373.7 1264,374.6 C1266,375.6 1268,376.6 1270,377.5 C1272,378.5 1274,379.4 1276,380.4 C1278,381.3 1280,382.2 1282,383 C1284,383.9 1286,384.7 1288,385.6 C1290,386.5 1292,387.3 1294,388.2 C1296,389.2 1298,390.1 1300,391.2 C1302,392.2 1304,393.4 1306,394.5 C1308,395.7 1310,396.9 1312,398.1 C1314,399.3 1316,400.6 1318,401.8 C1320,403 1322,404.2 1324,405.4 C1326,406.6 1328,407.8 1330,409 C1332,410.2 1334,411.4 1336,412.6 C1338,413.8 1340,415 1342,416.3 C1344,417.6 1346,418.9 1348,420.3 C1350,421.6 1352,423 1354,424.4 C1356,425.8 1358,427.2 1360,428.5 C1362,429.9 1364,431.2 1366,432.5 C1368,433.9 1370,435.2 1372,436.5 C1374,437.8 1376,439.1 1378,440.5 C1380,441.9 1382,443.3 1384,444.7 C1386,446.2 1388,447.8 1390,449.4 C1392,450.9 1394,452.6 1396,454.2 C1398,455.9 1400,457.6 1402,459.2 C1404,460.9 1406,462.5 1408,464.2 C1410,465.8 1412,467.4 1414,469 C1416,470.6 1418,472.2 1420,473.8 C1422,475.4 1424,476.9 1426,478.4 C1428,480 1430,481.4 1432,482.9 C1434,484.4 1436,485.9 1438,487.3 C1440,488.8 1442,490.2 1444,491.6 C1446,493 1448,494.3 1450,495.7 C1452,497.1 1454,498.4 1456,499.8 C1458,501.2 1460,502.6 1462,504 C1464,505.5 1466,507 1468,508.5 C1470,510 1472,511.5 1474,513 C1476,514.5 1478,516 1480,517.4 C1482,518.8 1484,520.2 1486,521.5 C1488,522.7 1490,523.9 1492,525.1 C1494,526.3 1496,527.4 1498,528.6 C1500,529.7 1502,530.9 1504,532 C1506,533.2 1508,534.3 1510,535.5 C1512,536.7 1514,537.8 1516,539 C1518,540.1 1520,541.3 1522,542.4 C1524,543.5 1526,544.5 1528,545.6 C1530,546.6 1532,547.5 1534,548.4 C1536,549.3 1538,550.2 1540,551 C1542,551.9 1544,552.7 1546,553.5 C1548,554.3 1550,555.1 1552,555.8 C1554,556.6 1556,557.3 1558,558 C1560,558.7 1562,559.4 1564,560 C1566,560.7 1568,561.4 1570,562 C1572,562.6 1574,563.3 1576,563.8 C1578,564.4 1580,565 1582,565.5 C1584,566 1586,566.5 1588,567 C1590,567.5 1592,568 1594,568.4 C1596,568.9 1598,569.3 1600,569.7 C1602,570.1 1604,570.5 1606,570.9 C1608,571.2 1610,571.6 1612,571.9 C1614,572.3 1616,572.6 1618,573 C1620,573.3 1622,573.6 1624,573.9 C1626,574.2 1628,574.4 1630,574.7 C1632,574.9 1634,575.2 1636,575.4 C1638,575.6 1640,575.8 1642,576 C1644,576.2 1646,576.4 1648,576.5 C1650,576.7 1652,576.8 1654,576.9 C1656,577 1658,577.1 1660,577.2 C1662,577.3 1664,577.4 1666,577.5 C1668,577.6 1670,577.7 1672,577.8 C1674,577.9 1676,577.9 1678,578 C1680,578.1 1682,578.2 1684,578.3 C1686,578.4 1688,578.5 1690,578.5 C1692,578.6 1694,578.7 1696,578.8 C1698,578.8 1700,578.9 1702,578.9 C1704,579 1706,579 1708,579 C1710,579 1712,579 1714,579.1 C1716,579.1 1718,579.1 1720,579.1 C1722,579.1 1724,579.1 1726,579.1 C1728,579.1 1730,579.1 1732,579.1 C1734,579.1 1736,579.2 1738,579.2 C1740,579.2 1742,579.2 1744,579.2 C1746,579.2 1748,579.2 1750,579.2 C1752,579.2 1754,579.2 1756,579.2 C1758,579.2 1760,579.3 1762,579.3 C1764,579.3 1766,579.3 1768,579.3 C1770,579.3 1772,579.3 1774,579.3 C1776,579.3 1778,579.3 1780,579.3 C1782,579.4 1784,579.4 1786,579.4 C1788,579.4 1790,579.4 1792,579.4 C1794,579.4 1796,579.4 1798,579.4 C1800,579.4 1802,579.4 1804,579.4 C1806,579.5 1808,579.5 1810,579.5 C1812,579.5 1814.8,579.5 1816,579.5 C1817.2,579.5 1816.8,579.5 1817,579.5" fill="none" stroke="#f0006e" stroke-width="5.3" stroke-dasharray="22.1 26.0 24.0 26.4 24.0 26.7 24.0 25.1 24.0 25.6 24.0 26.5 24.0 25.2 24.0 26.4 24.0 25.9 24.0 27.7 24.0 25.4 24.0 26.4 24.0 25.4 24.0 26.6 24.0 24.9 24.0 27.4 24.0 25.7 24.0 26.7 24.0 24.5 24.0 26.9 24.0 25.3 24.0 26.3 24.0 27.4 24.0 22.9 24.0 26.4 24.0 26.0 24.0 25.5 24.0 28.4 24.0 27.2 24.0 26.2 24.0 26.0 24.0 26.0 24.0 26.0 24.0 217.9" stroke-linejoin="round"/><path d="M196,276.2 C197,276 200,275.5 202,275.1 C204,274.7 206,274.1 208,273.6 C210,273.1 212,272.5 214,271.9 C216,271.3 218,270.6 220,270 C222,269.3 224,268.5 226,267.7 C228,267 230,266.1 232,265.3 C234,264.4 236,263.5 238,262.6 C240,261.8 242,260.9 244,260 C246,259.2 248,258.3 250,257.4 C252,256.5 254,255.7 256,254.8 C258,253.9 260,253.1 262,252.2 C264,251.4 266,250.5 268,249.6 C270,248.7 272,247.9 274,247 C276,246.1 278,245.2 280,244.3 C282,243.4 284,242.4 286,241.4 C288,240.5 290,239.5 292,238.5 C294,237.5 296,236.5 298,235.5 C300,234.5 302,233.6 304,232.6 C306,231.6 308,230.6 310,229.7 C312,228.7 314,227.8 316,226.9 C318,225.9 320,225 322,224.1 C324,223.3 326,222.4 328,221.6 C330,220.8 332,220 334,219.2 C336,218.5 338,217.7 340,216.9 C342,216.2 344,215.4 346,214.7 C348,213.9 350,213.2 352,212.4 C354,211.6 356,210.9 358,210.1 C360,209.4 362,208.6 364,207.9 C366,207.1 368,206.4 370,205.6 C372,204.8 374,204.1 376,203.3 C378,202.6 380,201.8 382,201.1 C384,200.3 386,199.5 388,198.8 C390,198.1 392,197.3 394,196.6 C396,195.9 398,195.2 400,194.6 C402,193.9 404,193.3 406,192.7 C408,192.1 410,191.5 412,190.9 C414,190.3 416,189.8 418,189.2 C420,188.7 422,188.2 424,187.7 C426,187.3 428,186.8 430,186.4 C432,186 434,185.6 436,185.2 C438,184.8 440,184.5 442,184.2 C444,183.9 446,183.6 448,183.4 C450,183.2 452,183.1 454,183 C456,182.8 458,182.7 460,182.6 C462,182.4 464,182.3 466,182.2 C468,182.1 470,182 472,181.8 C474,181.7 476,181.6 478,181.5 C480,181.4 482,181.4 484,181.3 C486,181.3 488,181.3 490,181.3 C492,181.3 494,181.3 496,181.4 C498,181.4 500,181.5 502,181.6 C504,181.6 506,181.7 508,181.8 C510,182 512,182.1 514,182.2 C516,182.4 518,182.6 520,182.7 C522,182.9 524,183.1 526,183.3 C528,183.5 530,183.7 532,184 C534,184.2 536,184.4 538,184.7 C540,185 542,185.2 544,185.5 C546,185.8 548,186 550,186.3 C552,186.6 554,186.8 556,187.1 C558,187.4 560,187.6 562,187.9 C564,188.2 566,188.4 568,188.7 C570,188.9 572,189.2 574,189.4 C576,189.6 578,189.9 580,190.1 C582,190.3 584,190.5 586,190.8 C588,191 590,191.3 592,191.6 C594,191.8 596,192.2 598,192.5 C600,192.8 602,193.2 604,193.5 C606,193.9 608,194.2 610,194.6 C612,194.9 614,195.2 616,195.5 C618,195.8 620,196 622,196.3 C624,196.5 626,196.7 628,196.9 C630,197.1 632,197.3 634,197.4 C636,197.6 638,197.8 640,198 C642,198.2 644,198.3 646,198.5 C648,198.7 650,198.9 652,199 C654,199.2 656,199.4 658,199.6 C660,199.7 662,199.9 664,200.1 C666,200.2 668,200.4 670,200.5 C672,200.7 674,200.9 676,201.1 C678,201.3 680,201.5 682,201.7 C684,202 686,202.2 688,202.5 C690,202.8 692,203 694,203.3 C696,203.6 698,203.8 700,204.1 C702,204.3 704,204.5 706,204.7 C708,204.9 710,205.1 712,205.3 C714,205.4 716,205.6 718,205.7 C720,205.9 722,206.1 724,206.2 C726,206.4 728,206.5 730,206.7 C732,206.8 734,207 736,207.1 C738,207.3 740,207.4 742,207.5 C744,207.6 746,207.7 748,207.7 C750,207.8 752,207.9 754,207.9 C756,208 758,208 760,208 C762,208.1 764,208.1 766,208.1 C768,208.1 770,208.1 772,208 C774,208 776,208 778,207.9 C780,207.9 782,207.8 784,207.7 C786,207.6 788,207.4 790,207.2 C792,207 794,206.7 796,206.4 C798,206.2 800,205.8 802,205.5 C804,205.2 806,204.8 808,204.5 C810,204.2 812,203.8 814,203.5 C816,203.1 818,202.8 820,202.4 C822,202 824,201.7 826,201.2 C828,200.7 830,200.2 832,199.5 C834,198.9 836,198.2 838,197.4 C840,196.7 842,195.8 844,195 C846,194.1 848,193.3 850,192.3 C852,191.4 854,190.4 856,189.4 C858,188.5 860,187.4 862,186.4 C864,185.3 866,184.3 868,183.3 C870,182.2 872,181.2 874,180.2 C876,179.1 878,178.1 880,177.1 C882,176.1 884,175.1 886,174.1 C888,173.1 890,172.2 892,171.2 C894,170.2 896,169.2 898,168.1 C900,167.1 902,166.1 904,165 C906,164 908,162.8 910,161.7 C912,160.5 914,159.3 916,158 C918,156.8 920,155.5 922,154.2 C924,153 926,151.8 928,150.6 C930,149.5 932,148.5 934,147.5 C936,146.5 938,145.5 940,144.6 C942,143.7 944,142.9 946,142.1 C948,141.2 950,140.5 952,139.7 C954,139 956,138.4 958,137.7 C960,137.1 962,136.5 964,135.9 C966,135.3 968,134.8 970,134.2 C972,133.7 974,133.1 976,132.5 C978,132 980,131.4 982,130.9 C984,130.4 986,130 988,129.6 C990,129.3 992,129 994,128.9 C996,128.7 998,128.7 1000,128.7 C1002,128.7 1004,128.7 1006,128.8 C1008,128.8 1010,128.9 1012,129 C1014,129.1 1016,129.2 1018,129.3 C1020,129.4 1022,129.5 1024,129.7 C1026,129.8 1028,130 1030,130.2 C1032,130.4 1034,130.6 1036,130.9 C1038,131.2 1040,131.6 1042,132.1 C1044,132.6 1046,133.2 1048,133.9 C1050,134.5 1052,135.2 1054,135.8 C1056,136.5 1058,137.2 1060,137.9 C1062,138.6 1064,139.2 1066,139.9 C1068,140.6 1070,141.3 1072,141.9 C1074,142.5 1076,143.2 1078,143.8 C1080,144.4 1082,145 1084,145.6 C1086,146.2 1088,146.8 1090,147.4 C1092,148.1 1094,148.7 1096,149.4 C1098,150.1 1100,150.9 1102,151.7 C1104,152.4 1106,153.3 1108,154.2 C1110,155 1112,155.9 1114,156.7 C1116,157.6 1118,158.4 1120,159.2 C1122,160 1124,160.8 1126,161.6 C1128,162.4 1130,163.2 1132,163.9 C1134,164.7 1136,165.4 1138,166.2 C1140,166.9 1142,167.7 1144,168.5 C1146,169.2 1148,170 1150,170.7 C1152,171.5 1154,172.2 1156,172.9 C1158,173.7 1160,174.4 1162,175.1 C1164,175.8 1166,176.5 1168,177.2 C1170,178 1172,178.7 1174,179.4 C1176,180.2 1178,180.9 1180,181.7 C1182,182.5 1184,183.3 1186,184.2 C1188,185 1190,185.8 1192,186.7 C1194,187.6 1196,188.4 1198,189.3 C1200,190.1 1202,191 1204,191.9 C1206,192.7 1208,193.6 1210,194.5 C1212,195.3 1214,196.2 1216,197.1 C1218,197.9 1220,198.8 1222,199.7 C1224,200.5 1226,201.4 1228,202.3 C1230,203.2 1232,204.2 1234,205.2 C1236,206.2 1238,207.3 1240,208.4 C1242,209.5 1244,210.7 1246,211.9 C1248,213.1 1250,214.4 1252,215.7 C1254,216.9 1256,218.2 1258,219.6 C1260,220.9 1262,222.3 1264,223.7 C1266,225.1 1268,226.5 1270,227.9 C1272,229.4 1274,230.8 1276,232.3 C1278,233.8 1280,235.3 1282,236.9 C1284,238.4 1286,240 1288,241.6 C1290,243.2 1292,244.8 1294,246.4 C1296,248 1298,249.6 1300,251.3 C1302,252.9 1304,254.6 1306,256.2 C1308,257.9 1310,259.7 1312,261.4 C1314,263.2 1316,265 1318,266.8 C1320,268.7 1322,270.6 1324,272.6 C1326,274.5 1328,276.6 1330,278.7 C1332,280.8 1334,283 1336,285.1 C1338,287.3 1340,289.5 1342,291.6 C1344,293.8 1346,296 1348,298.2 C1350,300.3 1352,302.5 1354,304.7 C1356,306.9 1358,309 1360,311.3 C1362,313.6 1364,315.9 1366,318.2 C1368,320.6 1370,323.1 1372,325.7 C1374,328.2 1376,330.8 1378,333.4 C1380,336 1382,338.6 1384,341.2 C1386,343.8 1388,346.5 1390,349.1 C1392,351.7 1394,354.2 1396,356.8 C1398,359.3 1400,361.8 1402,364.3 C1404,366.8 1406,369.3 1408,371.8 C1410,374.3 1412,376.8 1414,379.3 C1416,381.8 1418,384.3 1420,386.9 C1422,389.5 1424,392.1 1426,394.8 C1428,397.5 1430,400.2 1432,403 C1434,405.8 1436,408.7 1438,411.6 C1440,414.5 1442,417.4 1444,420.2 C1446,423 1448,425.8 1450,428.3 C1452,430.9 1454,433.3 1456,435.7 C1458,438.1 1460,440.3 1462,442.6 C1464,444.9 1466,447.1 1468,449.4 C1470,451.7 1472,454 1474,456.4 C1476,458.8 1478,461.3 1480,463.7 C1482,466.2 1484,468.7 1486,471.1 C1488,473.5 1490,475.9 1492,478.2 C1494,480.6 1496,482.8 1498,485 C1500,487.3 1502,489.4 1504,491.6 C1506,493.7 1508,495.8 1510,497.9 C1512,500 1514,502 1516,504 C1518,506.1 1520,508.1 1522,510.1 C1524,512.1 1526,514.1 1528,516.1 C1530,518 1532,519.9 1534,521.7 C1536,523.5 1538,525.3 1540,527 C1542,528.7 1544,530.3 1546,531.9 C1548,533.5 1550,535 1552,536.5 C1554,538 1556,539.4 1558,540.8 C1560,542.2 1562,543.5 1564,544.8 C1566,546.1 1568,547.4 1570,548.6 C1572,549.7 1574,550.8 1576,551.9 C1578,552.9 1580,553.8 1582,554.7 C1584,555.6 1586,556.4 1588,557.2 C1590,558.1 1592,558.9 1594,559.7 C1596,560.5 1598,561.4 1600,562.2 C1602,563 1604,563.8 1606,564.5 C1608,565.2 1610,566 1612,566.6 C1614,567.3 1616,567.9 1618,568.5 C1620,569 1622,569.6 1624,570.1 C1626,570.6 1628,571.1 1630,571.5 C1632,571.9 1634,572.3 1636,572.6 C1638,572.8 1640,573 1642,573.2 C1644,573.4 1646,573.5 1648,573.6 C1650,573.7 1652,573.8 1654,573.9 C1656,574 1658,574.1 1660,574.3 C1662,574.4 1664,574.5 1666,574.6 C1668,574.7 1670,574.9 1672,575 C1674,575.1 1676,575.3 1678,575.4 C1680,575.6 1682,575.7 1684,575.8 C1686,576 1688,576.1 1690,576.2 C1692,576.4 1694,576.5 1696,576.6 C1698,576.8 1700,576.9 1702,577.1 C1704,577.2 1706,577.3 1708,577.5 C1710,577.6 1712,577.7 1714,577.9 C1716,578 1718,578.2 1720,578.3 C1722,578.4 1724,578.5 1726,578.6 C1728,578.7 1730,578.8 1732,578.9 C1734,579 1736,579 1738,579 C1740,579 1742,579.1 1744,579.1 C1746,579.1 1748,579.1 1750,579.1 C1752,579.1 1754,579.1 1756,579.1 C1758,579.2 1760,579.2 1762,579.2 C1764,579.2 1766,579.2 1768,579.2 C1770,579.2 1772,579.2 1774,579.3 C1776,579.3 1778,579.3 1780,579.3 C1782,579.3 1784,579.3 1786,579.3 C1788,579.3 1790,579.3 1792,579.4 C1794,579.4 1796,579.4 1798,579.4 C1800,579.4 1802,579.4 1804,579.4 C1806,579.4 1808,579.4 1810,579.5 C1812,579.5 1814.8,579.5 1816,579.5 C1817.2,579.5 1816.8,579.5 1817,579.5" fill="none" stroke="#000" stroke-width="8" stroke-dasharray="3.2 20.0 7.5 20.0 41.2 20.0 7.5 20.0 77.8 20.0 7.5 20.0 40.3 20.0 7.5 20.0 39.2 20.0 7.5 20.0 39.7 20.0 7.5 20.0 39.6 20.0 7.5 20.0 38.8 20.0 7.5 20.0 41.8 20.0 7.5 20.0 41.0 20.0 7.5 20.0 39.7 20.0 7.5 20.0 38.9 20.0 7.5 20.0 38.3 20.0 7.5 20.0 39.4 20.0 7.5 20.0 39.0 20.0 7.5 20.0 40.2 20.0 7.5 20.0 38.0 20.0 7.5 20.0 42.7 20.0 7.5 20.0 43.7 20.0 7.5 20.0 40.0 20.0 7.5 20.0 40.0 20.0 7.5 20.0 33.1 150.0" stroke-linejoin="round"/><path d="M196,46.3 V585 M172.5,582.5 H1817 M1004.5,47.3 V582.5 M172.5,430.2 H196 M172.5,277.8 H196 M172.5,125.5 H196 M183,506.3 H196 M183,354 H196 M183,201.7 H196 M183,49.3 H196 M221.5,582.5 V605.5 M482.5,582.5 V605.5 M743.5,582.5 V605.5 M1004.5,582.5 V605.5 M1265.5,582.5 V605.5 M1526.5,582.5 V605.5 M1787.5,582.5 V605.5 M352,582.5 V594.5 M613,582.5 V594.5 M874,582.5 V594.5 M1135,582.5 V594.5 M1396,582.5 V594.5 M1657,582.5 V594.5" fill="none" stroke="#000" stroke-width="5"/><text x="158.5" y="597" font-size="46" text-anchor="end">0</text><text x="158.5" y="444.7" font-size="46" text-anchor="end">10</text><text x="158.5" y="292.3" font-size="46" text-anchor="end">20</text><text x="158.5" y="140" font-size="46" text-anchor="end">30</text><text x="231.5" y="213.1" font-size="47">total</text><text x="230.3" y="353.3" font-size="47" letter-spacing="0.6">d orbitals</text><text x="231.5" y="433.2" font-size="47" letter-spacing="0.6">p orbitals</text><text x="230.3" y="527.8" font-size="47" letter-spacing="0.6">s orbitals</text></g>
<g><path d="M196,1111.2 C197,1111.2 200,1111.2 202,1111.2 C204,1111.2 206,1111.2 208,1111.2 C210,1111.2 212,1111.2 214,1111.2 C216,1111.2 218,1111.2 220,1111.2 C222,1111.2 224,1111.2 226,1111.2 C228,1111.2 230,1111.2 232,1111.2 C234,1111.2 236,1111.2 238,1111.2 C240,1111.2 242,1111.2 244,1111.2 C246,1111.2 248,1111.2 250,1111.2 C252,1111.2 254,1111.2 256,1111.2 C258,1111.2 260,1111.2 262,1111.2 C264,1111.2 266,1111.2 268,1111.2 C270,1111.2 272,1111.2 274,1111.2 C276,1111.2 278,1111.2 280,1111.2 C282,1111.2 284,1111.2 286,1111.2 C288,1111.2 290,1111.2 292,1111.2 C294,1111.2 296,1111.2 298,1111.2 C300,1111.2 302,1111.2 304,1111.2 C306,1111.2 308,1111.2 310,1111.2 C312,1111.2 314,1111.2 316,1111.2 C318,1111.2 320,1111.2 322,1111.2 C324,1111.2 326,1111.2 328,1111.2 C330,1111.2 332,1111.2 334,1111.2 C336,1111.2 338,1111.2 340,1111.2 C342,1111.2 344,1111.2 346,1111.2 C348,1111.2 350,1111.2 352,1111.2 C354,1111.2 356,1111.2 358,1111.2 C360,1111.2 362,1111.2 364,1111.2 C366,1111.2 368,1111.2 370,1111.2 C372,1111.2 374,1111.2 376,1111.2 C378,1111.2 380,1111.2 382,1111.2 C384,1111.2 386,1111.2 388,1111.2 C390,1111.2 392,1111.2 394,1111.2 C396,1111.2 398,1111.2 400,1111.2 C402,1111.2 404,1111.2 406,1111.2 C408,1111.2 410,1111.2 412,1111.2 C414,1111.2 416,1111.2 418,1111.2 C420,1111.2 422,1111.2 424,1111.2 C426,1111.2 428,1111.2 430,1111.2 C432,1111.2 434,1111.2 436,1111.2 C438,1111.2 440,1111.2 442,1111.2 C444,1111.2 446,1111.2 448,1111.2 C450,1111.2 452,1111.2 454,1111.2 C456,1111.2 458,1111.2 460,1111.2 C462,1111.2 464,1111.2 466,1111.2 C468,1111.2 470,1111.2 472,1111.2 C474,1111.2 476,1111.2 478,1111.2 C480,1111.2 482,1111.2 484,1111.2 C486,1111.2 488,1111.2 490,1111.2 C492,1111.2 494,1111.2 496,1111.2 C498,1111.2 500,1111.2 502,1111.2 C504,1111.2 506,1111.2 508,1111.2 C510,1111.2 512,1111.2 514,1111.2 C516,1111.2 518,1111.2 520,1111.2 C522,1111.2 524,1111.2 526,1111.2 C528,1111.2 530,1111.2 532,1111.2 C534,1111.2 536,1111.2 538,1111.2 C540,1111.2 542,1111.2 544,1111.2 C546,1111.2 548,1111.2 550,1111.2 C552,1111.2 554,1111.2 556,1111.2 C558,1111.2 560,1111.2 562,1111.2 C564,1111.2 566,1111.2 568,1111.2 C570,1111.2 572,1111.2 574,1111.2 C576,1111.2 578,1111.2 580,1111.2 C582,1111.2 584,1111.2 586,1111.2 C588,1111.2 590,1111.2 592,1111.2 C594,1111.2 596,1111.2 598,1111.2 C600,1111.2 602,1111.2 604,1111.2 C606,1111.2 608,1111.2 610,1111.2 C612,1111.2 614,1111.2 616,1111.2 C618,1111.2 620,1111.2 622,1111.2 C624,1111.2 626,1111.2 628,1111.2 C630,1111.2 632,1111.2 634,1111.2 C636,1111.2 638,1111.2 640,1111.2 C642,1111.2 644,1111.2 646,1111.2 C648,1111.2 650,1111.2 652,1111.2 C654,1111.2 656,1111.2 658,1111.2 C660,1111.2 662,1111.2 664,1111.2 C666,1111.2 668,1111.2 670,1111.2 C672,1111.2 674,1111.2 676,1111.2 C678,1111.2 680,1111.2 682,1111.2 C684,1111.2 686,1111.2 688,1111.2 C690,1111.2 692,1111.2 694,1111.2 C696,1111.2 698,1111.2 700,1111.1 C702,1111.1 704,1111.1 706,1111 C708,1111 710,1110.9 712,1110.8 C714,1110.8 716,1110.7 718,1110.6 C720,1110.6 722,1110.5 724,1110.4 C726,1110.4 728,1110.3 730,1110.2 C732,1110.1 734,1110.1 736,1110 C738,1109.9 740,1109.9 742,1109.8 C744,1109.7 746,1109.6 748,1109.5 C750,1109.4 752,1109.3 754,1109.2 C756,1109.1 758,1109 760,1108.9 C762,1108.7 764,1108.6 766,1108.5 C768,1108.4 770,1108.2 772,1108.1 C774,1108 776,1107.9 778,1107.7 C780,1107.6 782,1107.5 784,1107.4 C786,1107.2 788,1107.1 790,1107 C792,1106.9 794,1106.8 796,1106.6 C798,1106.5 800,1106.4 802,1106.3 C804,1106.2 806,1106.2 808,1106.1 C810,1106 812,1105.9 814,1105.9 C816,1105.8 818,1105.7 820,1105.7 C822,1105.6 824,1105.5 826,1105.4 C828,1105.4 830,1105.3 832,1105.2 C834,1105.2 836,1105.1 838,1105 C840,1105 842,1104.9 844,1104.8 C846,1104.7 848,1104.7 850,1104.6 C852,1104.5 854,1104.4 856,1104.2 C858,1104.1 860,1104 862,1103.9 C864,1103.8 866,1103.6 868,1103.5 C870,1103.4 872,1103.2 874,1103.1 C876,1103 878,1102.8 880,1102.7 C882,1102.6 884,1102.4 886,1102.3 C888,1102.2 890,1102.1 892,1102 C894,1101.9 896,1101.8 898,1101.7 C900,1101.6 902,1101.6 904,1101.6 C906,1101.6 908,1101.6 910,1101.7 C912,1101.7 914,1101.7 916,1101.8 C918,1101.8 920,1101.9 922,1101.9 C924,1102 926,1102 928,1102.1 C930,1102.1 932,1102.2 934,1102.2 C936,1102.2 938,1102.3 940,1102.3 C942,1102.4 944,1102.4 946,1102.5 C948,1102.6 950,1102.6 952,1102.7 C954,1102.7 956,1102.8 958,1102.9 C960,1103 962,1103.1 964,1103.1 C966,1103.2 968,1103.3 970,1103.4 C972,1103.5 974,1103.5 976,1103.6 C978,1103.7 980,1103.8 982,1103.9 C984,1103.9 986,1104 988,1104.1 C990,1104.2 992,1104.3 994,1104.4 C996,1104.5 998,1104.5 1000,1104.6 C1002,1104.7 1004,1104.8 1006,1105 C1008,1105.1 1010,1105.2 1012,1105.3 C1014,1105.4 1016,1105.5 1018,1105.6 C1020,1105.7 1022,1105.9 1024,1106 C1026,1106.1 1028,1106.2 1030,1106.3 C1032,1106.4 1034,1106.5 1036,1106.6 C1038,1106.8 1040,1106.9 1042,1107 C1044,1107.1 1046,1107.2 1048,1107.3 C1050,1107.5 1052,1107.6 1054,1107.7 C1056,1107.8 1058,1108 1060,1108.1 C1062,1108.2 1064,1108.4 1066,1108.5 C1068,1108.6 1070,1108.8 1072,1108.9 C1074,1109 1076,1109.2 1078,1109.3 C1080,1109.5 1082,1109.6 1084,1109.7 C1086,1109.9 1088,1110 1090,1110.1 C1092,1110.2 1094,1110.4 1096,1110.5 C1098,1110.6 1100,1110.7 1102,1110.8 C1104,1110.9 1106,1111 1108,1111.1 C1110,1111.1 1112,1111.2 1114,1111.3 C1116,1111.4 1118,1111.4 1120,1111.5 C1122,1111.6 1124,1111.6 1126,1111.7 C1128,1111.8 1130,1111.9 1132,1111.9 C1134,1112 1136,1112.1 1138,1112.1 C1140,1112.2 1142,1112.3 1144,1112.3 C1146,1112.4 1148,1112.5 1150,1112.5 C1152,1112.5 1154,1112.6 1156,1112.6 C1158,1112.6 1160,1112.6 1162,1112.7 C1164,1112.7 1166,1112.7 1168,1112.7 C1170,1112.7 1172,1112.7 1174,1112.7 C1176,1112.8 1178,1112.8 1180,1112.8 C1182,1112.8 1184,1112.8 1186,1112.8 C1188,1112.8 1190,1112.8 1192,1112.9 C1194,1112.9 1196,1112.9 1198,1112.9 C1200,1112.9 1202,1112.9 1204,1113 C1206,1113 1208,1113 1210,1113 C1212,1113.1 1214,1113.1 1216,1113.1 C1218,1113.2 1220,1113.2 1222,1113.2 C1224,1113.2 1226,1113.3 1228,1113.3 C1230,1113.3 1232,1113.3 1234,1113.4 C1236,1113.4 1238,1113.4 1240,1113.5 C1242,1113.5 1244,1113.5 1246,1113.6 C1248,1113.6 1250,1113.7 1252,1113.7 C1254,1113.8 1256,1113.9 1258,1113.9 C1260,1114 1262,1114.1 1264,1114.2 C1266,1114.3 1268,1114.4 1270,1114.4 C1272,1114.5 1274,1114.6 1276,1114.7 C1278,1114.8 1280,1114.9 1282,1114.9 C1284,1115 1286,1115.1 1288,1115.2 C1290,1115.3 1292,1115.4 1294,1115.4 C1296,1115.5 1298,1115.6 1300,1115.7 C1302,1115.8 1304,1115.8 1306,1115.9 C1308,1116 1310,1116.1 1312,1116.1 C1314,1116.2 1316,1116.3 1318,1116.3 C1320,1116.4 1322,1116.5 1324,1116.5 C1326,1116.6 1328,1116.7 1330,1116.8 C1332,1116.8 1334,1116.9 1336,1117 C1338,1117 1340,1117.1 1342,1117.2 C1344,1117.3 1346,1117.4 1348,1117.5 C1350,1117.6 1352,1117.7 1354,1117.8 C1356,1118 1358,1118.1 1360,1118.3 C1362,1118.4 1364,1118.6 1366,1118.8 C1368,1119 1370,1119.1 1372,1119.3 C1374,1119.5 1376,1119.6 1378,1119.8 C1380,1120 1382,1120.2 1384,1120.3 C1386,1120.5 1388,1120.7 1390,1120.8 C1392,1121 1394,1121.2 1396,1121.4 C1398,1121.5 1400,1121.7 1402,1121.8 C1404,1122 1406,1122.2 1408,1122.3 C1410,1122.5 1412,1122.7 1414,1122.8 C1416,1123 1418,1123.1 1420,1123.3 C1422,1123.5 1424,1123.6 1426,1123.8 C1428,1123.9 1430,1124.1 1432,1124.3 C1434,1124.4 1436,1124.6 1438,1124.7 C1440,1124.9 1442,1125.1 1444,1125.2 C1446,1125.4 1448,1125.6 1450,1125.8 C1452,1126 1454,1126.2 1456,1126.4 C1458,1126.6 1460,1126.8 1462,1127.1 C1464,1127.3 1466,1127.5 1468,1127.8 C1470,1128 1472,1128.2 1474,1128.4 C1476,1128.7 1478,1128.9 1480,1129.1 C1482,1129.3 1484,1129.6 1486,1129.8 C1488,1130 1490,1130.3 1492,1130.5 C1494,1130.7 1496,1130.9 1498,1131.1 C1500,1131.3 1502,1131.5 1504,1131.7 C1506,1131.9 1508,1132.1 1510,1132.3 C1512,1132.5 1514,1132.7 1516,1132.9 C1518,1133.1 1520,1133.2 1522,1133.4 C1524,1133.6 1526,1133.8 1528,1134 C1530,1134.2 1532,1134.3 1534,1134.5 C1536,1134.7 1538,1134.9 1540,1135.1 C1542,1135.2 1544,1135.4 1546,1135.6 C1548,1135.7 1550,1135.8 1552,1135.9 C1554,1136.1 1556,1136.1 1558,1136.2 C1560,1136.3 1562,1136.4 1564,1136.4 C1566,1136.5 1568,1136.5 1570,1136.6 C1572,1136.7 1574,1136.7 1576,1136.8 C1578,1136.8 1580,1136.9 1582,1137 C1584,1137 1586,1137.1 1588,1137.1 C1590,1137.2 1592,1137.3 1594,1137.3 C1596,1137.3 1598,1137.4 1600,1137.4 C1602,1137.5 1604,1137.5 1606,1137.5 C1608,1137.5 1610,1137.5 1612,1137.5 C1614,1137.5 1616,1137.5 1618,1137.5 C1620,1137.5 1622,1137.6 1624,1137.6 C1626,1137.6 1628,1137.6 1630,1137.6 C1632,1137.6 1634,1137.6 1636,1137.6 C1638,1137.6 1640,1137.6 1642,1137.6 C1644,1137.6 1646,1137.6 1648,1137.6 C1650,1137.6 1652,1137.6 1654,1137.6 C1656,1137.6 1658,1137.6 1660,1137.6 C1662,1137.6 1664,1137.6 1666,1137.7 C1668,1137.7 1670,1137.7 1672,1137.7 C1674,1137.7 1676,1137.7 1678,1137.7 C1680,1137.7 1682,1137.7 1684,1137.7 C1686,1137.7 1688,1137.7 1690,1137.7 C1692,1137.7 1694,1137.7 1696,1137.7 C1698,1137.7 1700,1137.7 1702,1137.7 C1704,1137.7 1706,1137.7 1708,1137.7 C1710,1137.8 1712,1137.8 1714,1137.8 C1716,1137.8 1718,1137.8 1720,1137.8 C1722,1137.8 1724,1137.8 1726,1137.8 C1728,1137.8 1730,1137.8 1732,1137.8 C1734,1137.8 1736,1137.8 1738,1137.8 C1740,1137.8 1742,1137.8 1744,1137.8 C1746,1137.8 1748,1137.8 1750,1137.8 C1752,1137.9 1754,1137.9 1756,1137.9 C1758,1137.9 1760,1137.9 1762,1137.9 C1764,1137.9 1766,1137.9 1768,1137.9 C1770,1137.9 1772,1137.9 1774,1137.9 C1776,1137.9 1778,1137.9 1780,1137.9 C1782,1137.9 1784,1137.9 1786,1137.9 C1788,1137.9 1790,1137.9 1792,1137.9 C1794,1137.9 1796,1138 1798,1138 C1800,1138 1802,1138 1804,1138 C1806,1138 1808,1138 1810,1138 C1812,1138 1814.8,1138 1816,1138 C1817.2,1138 1816.8,1138 1817,1138" fill="none" stroke="#007800" stroke-width="5.3" stroke-dasharray="18.4 26.0 24.0 24.0 24.0 27.6 24.0 25.2 24.0 27.6 24.0 23.9 24.0 26.5 24.0 25.1 24.0 25.8 24.0 27.6 24.0 25.2 24.0 26.5 24.0 26.4 24.0 24.1 24.0 27.6 24.0 24.0 24.0 28.1 24.0 25.3 24.0 26.4 24.0 25.2 24.0 26.4 24.0 25.2 24.0 27.6 24.0 24.1 24.0 27.9 24.0 25.4 24.0 27.8 24.0 26.0 24.0 26.0 24.0 26.0 24.0 26.0 24.0 26.0 24.0 203.4" stroke-linejoin="round"/><path d="M196,1017.7 C197,1017.6 200,1017.6 202,1017.5 C204,1017.4 206,1017.3 208,1017.2 C210,1017.1 212,1017 214,1016.8 C216,1016.7 218,1016.5 220,1016.4 C222,1016.2 224,1016 226,1015.8 C228,1015.7 230,1015.5 232,1015.3 C234,1015.2 236,1015.1 238,1014.9 C240,1014.8 242,1014.8 244,1014.7 C246,1014.7 248,1014.6 250,1014.6 C252,1014.6 254,1014.6 256,1014.6 C258,1014.6 260,1014.6 262,1014.7 C264,1014.7 266,1014.7 268,1014.8 C270,1014.8 272,1014.8 274,1014.9 C276,1014.9 278,1015 280,1015 C282,1015.1 284,1015.2 286,1015.2 C288,1015.3 290,1015.3 292,1015.4 C294,1015.4 296,1015.5 298,1015.5 C300,1015.6 302,1015.7 304,1015.7 C306,1015.8 308,1015.8 310,1015.9 C312,1015.9 314,1015.9 316,1016 C318,1016 320,1016 322,1016 C324,1016 326,1016 328,1016 C330,1016 332,1016 334,1016 C336,1016 338,1016 340,1016 C342,1016 344,1016 346,1016 C348,1016 350,1016 352,1016 C354,1016 356,1016 358,1016 C360,1016 362,1016 364,1016 C366,1016 368,1016 370,1016 C372,1016 374,1016 376,1016 C378,1016 380,1016 382,1016 C384,1016 386,1016 388,1016 C390,1016 392,1016 394,1016 C396,1016 398,1016 400,1016 C402,1016 404,1016 406,1016 C408,1015.9 410,1015.9 412,1015.9 C414,1015.8 416,1015.7 418,1015.6 C420,1015.5 422,1015.4 424,1015.2 C426,1015.1 428,1015 430,1014.8 C432,1014.7 434,1014.6 436,1014.4 C438,1014.3 440,1014.2 442,1014.2 C444,1014.1 446,1014.1 448,1014 C450,1014 452,1014 454,1014 C456,1013.9 458,1013.9 460,1013.8 C462,1013.7 464,1013.6 466,1013.4 C468,1013.2 470,1013 472,1012.7 C474,1012.5 476,1012.2 478,1011.9 C480,1011.7 482,1011.4 484,1011.2 C486,1010.9 488,1010.7 490,1010.6 C492,1010.4 494,1010.2 496,1010.1 C498,1010 500,1009.9 502,1009.8 C504,1009.6 506,1009.5 508,1009.4 C510,1009.3 512,1009.2 514,1009.1 C516,1008.9 518,1008.8 520,1008.6 C522,1008.5 524,1008.3 526,1008.2 C528,1008 530,1007.9 532,1007.7 C534,1007.6 536,1007.4 538,1007.3 C540,1007.1 542,1007 544,1006.8 C546,1006.7 548,1006.6 550,1006.4 C552,1006.3 554,1006.1 556,1006 C558,1005.8 560,1005.7 562,1005.5 C564,1005.3 566,1005.2 568,1005 C570,1004.8 572,1004.6 574,1004.5 C576,1004.3 578,1004.1 580,1003.9 C582,1003.8 584,1003.6 586,1003.4 C588,1003.3 590,1003.2 592,1003.1 C594,1002.9 596,1002.9 598,1002.8 C600,1002.7 602,1002.6 604,1002.6 C606,1002.5 608,1002.4 610,1002.3 C612,1002.2 614,1002.1 616,1002 C618,1001.9 620,1001.8 622,1001.6 C624,1001.5 626,1001.4 628,1001.2 C630,1001.1 632,1001 634,1000.9 C636,1000.8 638,1000.7 640,1000.6 C642,1000.6 644,1000.6 646,1000.5 C648,1000.5 650,1000.5 652,1000.5 C654,1000.5 656,1000.5 658,1000.5 C660,1000.4 662,1000.4 664,1000.3 C666,1000.3 668,1000.2 670,1000.1 C672,1000.1 674,1000 676,999.9 C678,999.8 680,999.7 682,999.6 C684,999.5 686,999.4 688,999.3 C690,999.2 692,999.1 694,999 C696,998.9 698,998.9 700,998.8 C702,998.7 704,998.6 706,998.4 C708,998.3 710,998.2 712,998 C714,997.9 716,997.7 718,997.5 C720,997.3 722,997 724,996.8 C726,996.6 728,996.3 730,996.1 C732,995.8 734,995.6 736,995.3 C738,995.1 740,994.8 742,994.6 C744,994.4 746,994.2 748,993.9 C750,993.7 752,993.5 754,993.3 C756,993 758,992.8 760,992.5 C762,992.3 764,992 766,991.7 C768,991.4 770,991.1 772,990.8 C774,990.5 776,990.2 778,989.9 C780,989.6 782,989.3 784,989 C786,988.7 788,988.4 790,988.1 C792,987.8 794,987.5 796,987.2 C798,986.9 800,986.6 802,986.3 C804,986 806,985.7 808,985.4 C810,985.1 812,984.8 814,984.4 C816,984.1 818,983.7 820,983.4 C822,983 824,982.6 826,982.2 C828,981.8 830,981.4 832,981 C834,980.7 836,980.3 838,979.9 C840,979.6 842,979.2 844,978.9 C846,978.6 848,978.3 850,978 C852,977.7 854,977.4 856,977.1 C858,976.8 860,976.5 862,976.2 C864,975.9 866,975.6 868,975.4 C870,975.1 872,974.9 874,974.6 C876,974.4 878,974.1 880,973.9 C882,973.7 884,973.5 886,973.3 C888,973.1 890,973 892,973 C894,972.9 896,972.9 898,972.8 C900,972.8 902,972.8 904,972.8 C906,972.8 908,972.9 910,972.9 C912,972.9 914,973 916,973.1 C918,973.2 920,973.3 922,973.4 C924,973.4 926,973.6 928,973.7 C930,973.8 932,973.9 934,974 C936,974.1 938,974.3 940,974.4 C942,974.5 944,974.7 946,974.8 C948,975 950,975.1 952,975.3 C954,975.5 956,975.7 958,975.9 C960,976.1 962,976.3 964,976.5 C966,976.8 968,977 970,977.3 C972,977.6 974,977.9 976,978.2 C978,978.5 980,978.8 982,979.1 C984,979.5 986,979.9 988,980.4 C990,980.9 992,981.4 994,982 C996,982.5 998,983.1 1000,983.7 C1002,984.3 1004,984.9 1006,985.5 C1008,986.1 1010,986.6 1012,987.2 C1014,987.7 1016,988.2 1018,988.7 C1020,989.2 1022,989.7 1024,990.1 C1026,990.6 1028,991.1 1030,991.6 C1032,992.1 1034,992.6 1036,993.2 C1038,993.7 1040,994.3 1042,995 C1044,995.6 1046,996.2 1048,996.8 C1050,997.5 1052,998.1 1054,998.7 C1056,999.3 1058,999.9 1060,1000.5 C1062,1001 1064,1001.5 1066,1002 C1068,1002.4 1070,1002.9 1072,1003.3 C1074,1003.8 1076,1004.2 1078,1004.6 C1080,1005 1082,1005.4 1084,1005.8 C1086,1006.1 1088,1006.5 1090,1006.8 C1092,1007.1 1094,1007.3 1096,1007.6 C1098,1007.9 1100,1008.2 1102,1008.4 C1104,1008.7 1106,1009 1108,1009.3 C1110,1009.6 1112,1009.9 1114,1010.2 C1116,1010.6 1118,1010.9 1120,1011.2 C1122,1011.6 1124,1011.9 1126,1012.2 C1128,1012.5 1130,1012.8 1132,1013 C1134,1013.2 1136,1013.4 1138,1013.5 C1140,1013.6 1142,1013.7 1144,1013.8 C1146,1013.9 1148,1013.9 1150,1013.9 C1152,1014 1154,1014 1156,1014 C1158,1014.1 1160,1014.1 1162,1014.1 C1164,1014.1 1166,1014.1 1168,1014.1 C1170,1014.1 1172,1014.1 1174,1014.1 C1176,1014.1 1178,1014.1 1180,1014.1 C1182,1014.1 1184,1014.1 1186,1014.1 C1188,1014.1 1190,1014.1 1192,1014.1 C1194,1014.1 1196,1014.1 1198,1014.1 C1200,1014.1 1202,1014.1 1204,1014 C1206,1014 1208,1013.9 1210,1013.8 C1212,1013.7 1214,1013.5 1216,1013.3 C1218,1013.2 1220,1013 1222,1012.8 C1224,1012.6 1226,1012.4 1228,1012.3 C1230,1012.1 1232,1012 1234,1011.9 C1236,1011.8 1238,1011.7 1240,1011.7 C1242,1011.6 1244,1011.6 1246,1011.6 C1248,1011.6 1250,1011.6 1252,1011.6 C1254,1011.6 1256,1011.6 1258,1011.7 C1260,1011.7 1262,1011.7 1264,1011.7 C1266,1011.8 1268,1011.8 1270,1011.8 C1272,1011.9 1274,1011.9 1276,1012 C1278,1012 1280,1012.1 1282,1012.2 C1284,1012.3 1286,1012.4 1288,1012.5 C1290,1012.6 1292,1012.8 1294,1012.9 C1296,1013.1 1298,1013.2 1300,1013.4 C1302,1013.6 1304,1013.8 1306,1014 C1308,1014.2 1310,1014.5 1312,1014.8 C1314,1015.1 1316,1015.4 1318,1015.8 C1320,1016.1 1322,1016.5 1324,1016.8 C1326,1017.2 1328,1017.6 1330,1017.9 C1332,1018.3 1334,1018.6 1336,1018.9 C1338,1019.3 1340,1019.6 1342,1019.9 C1344,1020.2 1346,1020.5 1348,1020.9 C1350,1021.3 1352,1021.7 1354,1022.3 C1356,1022.8 1358,1023.4 1360,1024 C1362,1024.6 1364,1025.4 1366,1026.1 C1368,1026.8 1370,1027.6 1372,1028.3 C1374,1029.1 1376,1029.9 1378,1030.6 C1380,1031.4 1382,1032.2 1384,1033.1 C1386,1033.9 1388,1034.7 1390,1035.6 C1392,1036.4 1394,1037.3 1396,1038.1 C1398,1039 1400,1039.8 1402,1040.7 C1404,1041.6 1406,1042.4 1408,1043.3 C1410,1044.2 1412,1045.1 1414,1045.9 C1416,1046.8 1418,1047.7 1420,1048.6 C1422,1049.5 1424,1050.4 1426,1051.3 C1428,1052.2 1430,1053.2 1432,1054.1 C1434,1055.1 1436,1056 1438,1057 C1440,1058 1442,1058.9 1444,1059.9 C1446,1060.9 1448,1062 1450,1063 C1452,1064 1454,1065.1 1456,1066.1 C1458,1067.2 1460,1068.3 1462,1069.4 C1464,1070.5 1466,1071.6 1468,1072.7 C1470,1073.8 1472,1075 1474,1076.1 C1476,1077.3 1478,1078.5 1480,1079.7 C1482,1080.9 1484,1082.1 1486,1083.2 C1488,1084.3 1490,1085.4 1492,1086.5 C1494,1087.5 1496,1088.5 1498,1089.4 C1500,1090.3 1502,1091.2 1504,1092.1 C1506,1093 1508,1093.9 1510,1094.8 C1512,1095.7 1514,1096.7 1516,1097.6 C1518,1098.5 1520,1099.5 1522,1100.5 C1524,1101.4 1526,1102.4 1528,1103.3 C1530,1104.3 1532,1105.2 1534,1106.1 C1536,1107 1538,1107.9 1540,1108.7 C1542,1109.6 1544,1110.3 1546,1111.1 C1548,1111.9 1550,1112.6 1552,1113.4 C1554,1114.1 1556,1114.8 1558,1115.6 C1560,1116.3 1562,1117 1564,1117.7 C1566,1118.4 1568,1119.1 1570,1119.8 C1572,1120.5 1574,1121.2 1576,1121.9 C1578,1122.6 1580,1123.2 1582,1123.9 C1584,1124.5 1586,1125.2 1588,1125.8 C1590,1126.4 1592,1126.9 1594,1127.5 C1596,1128.1 1598,1128.7 1600,1129.2 C1602,1129.7 1604,1130.3 1606,1130.8 C1608,1131.2 1610,1131.7 1612,1132.1 C1614,1132.5 1616,1132.9 1618,1133.2 C1620,1133.5 1622,1133.9 1624,1134.2 C1626,1134.5 1628,1134.7 1630,1135 C1632,1135.2 1634,1135.4 1636,1135.5 C1638,1135.7 1640,1135.8 1642,1135.9 C1644,1136 1646,1136.1 1648,1136.2 C1650,1136.3 1652,1136.3 1654,1136.4 C1656,1136.5 1658,1136.6 1660,1136.7 C1662,1136.7 1664,1136.8 1666,1136.9 C1668,1137 1670,1137.1 1672,1137.2 C1674,1137.2 1676,1137.3 1678,1137.3 C1680,1137.4 1682,1137.4 1684,1137.5 C1686,1137.5 1688,1137.5 1690,1137.5 C1692,1137.5 1694,1137.5 1696,1137.6 C1698,1137.6 1700,1137.6 1702,1137.6 C1704,1137.6 1706,1137.6 1708,1137.6 C1710,1137.6 1712,1137.6 1714,1137.6 C1716,1137.6 1718,1137.6 1720,1137.6 C1722,1137.7 1724,1137.7 1726,1137.7 C1728,1137.7 1730,1137.7 1732,1137.7 C1734,1137.7 1736,1137.7 1738,1137.7 C1740,1137.7 1742,1137.7 1744,1137.7 C1746,1137.7 1748,1137.7 1750,1137.8 C1752,1137.8 1754,1137.8 1756,1137.8 C1758,1137.8 1760,1137.8 1762,1137.8 C1764,1137.8 1766,1137.8 1768,1137.8 C1770,1137.8 1772,1137.8 1774,1137.8 C1776,1137.9 1778,1137.9 1780,1137.9 C1782,1137.9 1784,1137.9 1786,1137.9 C1788,1137.9 1790,1137.9 1792,1137.9 C1794,1137.9 1796,1137.9 1798,1137.9 C1800,1137.9 1802,1137.9 1804,1138 C1806,1138 1808,1138 1810,1138 C1812,1138 1814.8,1138 1816,1138 C1817.2,1138 1816.8,1138 1817,1138" fill="none" stroke="#000080" stroke-width="5.3" stroke-dasharray="18.5 26.0 24.0 25.2 24.0 26.4 24.0 25.2 24.0 27.6 24.0 24.1 24.0 26.6 24.0 26.6 24.0 24.6 24.0 26.4 24.0 26.6 24.0 26.9 24.0 25.9 24.0 25.7 24.0 26.4 24.0 25.6 24.0 27.3 24.0 25.5 24.0 25.7 24.0 26.4 24.0 25.3 24.0 26.4 24.0 25.6 24.0 24.6 24.0 26.7 24.0 25.6 24.0 25.7 24.0 26.5 24.0 26.2 24.0 26.0 24.0 26.0 24.0 26.0 24.0 26.0 24.0 184.4" stroke-linejoin="round"/><path d="M196,958.3 C197,958.2 200,958 202,957.7 C204,957.5 206,957.2 208,957 C210,956.7 212,956.3 214,956 C216,955.7 218,955.4 220,955 C222,954.7 224,954.3 226,953.9 C228,953.6 230,953.2 232,952.9 C234,952.6 236,952.3 238,952 C240,951.7 242,951.5 244,951.3 C246,951.1 248,951 250,950.8 C252,950.7 254,950.6 256,950.5 C258,950.3 260,950.2 262,950.1 C264,949.9 266,949.8 268,949.6 C270,949.4 272,949.3 274,949.1 C276,948.9 278,948.7 280,948.6 C282,948.4 284,948.3 286,948.2 C288,948 290,947.9 292,947.9 C294,947.8 296,947.8 298,947.7 C300,947.7 302,947.7 304,947.7 C306,947.7 308,947.7 310,947.7 C312,947.7 314,947.7 316,947.7 C318,947.7 320,947.7 322,947.7 C324,947.7 326,947.7 328,947.7 C330,947.7 332,947.7 334,947.7 C336,947.7 338,947.7 340,947.7 C342,947.7 344,947.7 346,947.7 C348,947.7 350,947.7 352,947.7 C354,947.7 356,947.7 358,947.6 C360,947.6 362,947.6 364,947.5 C366,947.5 368,947.4 370,947.3 C372,947.3 374,947.2 376,947.1 C378,947 380,946.9 382,946.8 C384,946.7 386,946.7 388,946.6 C390,946.5 392,946.4 394,946.4 C396,946.3 398,946.2 400,946.1 C402,946.1 404,946 406,945.9 C408,945.8 410,945.7 412,945.5 C414,945.3 416,945.1 418,944.8 C420,944.5 422,944.2 424,943.9 C426,943.5 428,943.2 430,942.8 C432,942.5 434,942.1 436,941.8 C438,941.5 440,941.2 442,941 C444,940.7 446,940.5 448,940.3 C450,940.1 452,940 454,939.8 C456,939.6 458,939.4 460,939.1 C462,938.8 464,938.5 466,938.2 C468,937.8 470,937.4 472,937 C474,936.5 476,936.1 478,935.6 C480,935.2 482,934.7 484,934.3 C486,933.9 488,933.4 490,933 C492,932.6 494,932.3 496,931.9 C498,931.5 500,931.2 502,930.8 C504,930.4 506,930.1 508,929.7 C510,929.3 512,928.9 514,928.5 C516,928 518,927.6 520,927.2 C522,926.7 524,926.3 526,925.8 C528,925.4 530,924.9 532,924.5 C534,924.1 536,923.7 538,923.3 C540,923 542,922.7 544,922.3 C546,922 548,921.8 550,921.5 C552,921.2 554,920.9 556,920.6 C558,920.4 560,920.1 562,919.8 C564,919.5 566,919.2 568,918.9 C570,918.7 572,918.4 574,918.1 C576,917.8 578,917.5 580,917.3 C582,917 584,916.7 586,916.5 C588,916.3 590,916.1 592,915.9 C594,915.7 596,915.6 598,915.4 C600,915.3 602,915.1 604,914.9 C606,914.7 608,914.6 610,914.3 C612,914.1 614,913.8 616,913.5 C618,913.2 620,912.8 622,912.5 C624,912.2 626,911.8 628,911.5 C630,911.1 632,910.8 634,910.5 C636,910.3 638,910.1 640,909.9 C642,909.8 644,909.7 646,909.7 C648,909.6 650,909.6 652,909.6 C654,909.5 656,909.5 658,909.3 C660,909.2 662,909.1 664,908.9 C666,908.7 668,908.4 670,908.2 C672,908 674,907.7 676,907.4 C678,907.2 680,906.9 682,906.7 C684,906.5 686,906.3 688,906.2 C690,906.1 692,906 694,906 C696,905.9 698,905.9 700,905.9 C702,905.9 704,905.9 706,905.8 C708,905.7 710,905.6 712,905.5 C714,905.3 716,905.1 718,904.9 C720,904.6 722,904.4 724,904.1 C726,903.8 728,903.5 730,903.3 C732,903 734,902.8 736,902.6 C738,902.4 740,902.3 742,902.1 C744,902 746,902 748,901.9 C750,901.8 752,901.7 754,901.6 C756,901.5 758,901.3 760,901.2 C762,901 764,900.7 766,900.5 C768,900.2 770,899.9 772,899.6 C774,899.3 776,899 778,898.7 C780,898.4 782,898.1 784,897.8 C786,897.5 788,897.2 790,896.9 C792,896.5 794,896.2 796,895.9 C798,895.6 800,895.3 802,895 C804,894.7 806,894.4 808,894.1 C810,893.8 812,893.5 814,893.2 C816,892.9 818,892.6 820,892.3 C822,892 824,891.7 826,891.4 C828,891.1 830,890.8 832,890.6 C834,890.3 836,890 838,889.8 C840,889.5 842,889.3 844,889.1 C846,888.9 848,888.7 850,888.5 C852,888.3 854,888.1 856,887.9 C858,887.6 860,887.4 862,887.2 C864,887 866,886.8 868,886.5 C870,886.3 872,886.1 874,885.8 C876,885.6 878,885.4 880,885.2 C882,885 884,884.8 886,884.7 C888,884.5 890,884.4 892,884.3 C894,884.3 896,884.2 898,884.2 C900,884.2 902,884.2 904,884.3 C906,884.3 908,884.4 910,884.5 C912,884.6 914,884.8 916,885 C918,885.2 920,885.4 922,885.7 C924,885.9 926,886.2 928,886.4 C930,886.7 932,887 934,887.2 C936,887.5 938,887.8 940,888.1 C942,888.4 944,888.7 946,889.1 C948,889.4 950,889.7 952,890.1 C954,890.5 956,890.9 958,891.3 C960,891.8 962,892.3 964,892.9 C966,893.5 968,894.1 970,894.8 C972,895.4 974,896.1 976,896.7 C978,897.4 980,898 982,898.6 C984,899.2 986,899.9 988,900.4 C990,901 992,901.6 994,902.2 C996,902.8 998,903.3 1000,903.9 C1002,904.6 1004,905.2 1006,905.9 C1008,906.5 1010,907.3 1012,908 C1014,908.8 1016,909.6 1018,910.4 C1020,911.2 1022,912 1024,912.8 C1026,913.6 1028,914.5 1030,915.3 C1032,916.1 1034,916.8 1036,917.6 C1038,918.4 1040,919.2 1042,920 C1044,920.7 1046,921.5 1048,922.2 C1050,923 1052,923.7 1054,924.3 C1056,925 1058,925.6 1060,926.2 C1062,926.8 1064,927.4 1066,928 C1068,928.6 1070,929.1 1072,929.7 C1074,930.3 1076,930.8 1078,931.4 C1080,931.9 1082,932.4 1084,933 C1086,933.5 1088,934 1090,934.5 C1092,935 1094,935.5 1096,936 C1098,936.5 1100,936.9 1102,937.3 C1104,937.7 1106,938 1108,938.4 C1110,938.7 1112,939 1114,939.3 C1116,939.6 1118,939.9 1120,940.1 C1122,940.4 1124,940.7 1126,940.9 C1128,941.1 1130,941.3 1132,941.4 C1134,941.6 1136,941.7 1138,941.8 C1140,941.9 1142,941.9 1144,942 C1146,942 1148,942 1150,942 C1152,941.9 1154,941.9 1156,941.8 C1158,941.6 1160,941.5 1162,941.3 C1164,941.1 1166,940.9 1168,940.8 C1170,940.6 1172,940.4 1174,940.1 C1176,939.9 1178,939.7 1180,939.5 C1182,939.2 1184,939 1186,938.7 C1188,938.5 1190,938.2 1192,937.9 C1194,937.6 1196,937.4 1198,937 C1200,936.7 1202,936.4 1204,936.1 C1206,935.7 1208,935.3 1210,934.9 C1212,934.6 1214,934.1 1216,933.8 C1218,933.4 1220,933 1222,932.6 C1224,932.2 1226,931.9 1228,931.6 C1230,931.3 1232,931 1234,930.7 C1236,930.4 1238,930.2 1240,929.9 C1242,929.7 1244,929.4 1246,929.2 C1248,929 1250,928.8 1252,928.7 C1254,928.5 1256,928.4 1258,928.3 C1260,928.2 1262,928.1 1264,928 C1266,928 1268,927.9 1270,927.8 C1272,927.8 1274,927.7 1276,927.7 C1278,927.7 1280,927.7 1282,927.8 C1284,927.8 1286,927.9 1288,928 C1290,928.1 1292,928.2 1294,928.4 C1296,928.5 1298,928.8 1300,929.1 C1302,929.4 1304,929.9 1306,930.4 C1308,930.9 1310,931.5 1312,932.1 C1314,932.7 1316,933.4 1318,934 C1320,934.6 1322,935.3 1324,935.9 C1326,936.5 1328,937.1 1330,937.7 C1332,938.3 1334,938.8 1336,939.4 C1338,940 1340,940.6 1342,941.3 C1344,942 1346,942.7 1348,943.5 C1350,944.3 1352,945.2 1354,946.1 C1356,947.1 1358,948.1 1360,949.2 C1362,950.2 1364,951.3 1366,952.5 C1368,953.7 1370,954.9 1372,956.2 C1374,957.4 1376,958.8 1378,960.2 C1380,961.5 1382,963 1384,964.4 C1386,965.9 1388,967.4 1390,969 C1392,970.6 1394,972.3 1396,973.9 C1398,975.6 1400,977.3 1402,979 C1404,980.7 1406,982.4 1408,984.1 C1410,985.8 1412,987.4 1414,989.1 C1416,990.8 1418,992.5 1420,994.2 C1422,996 1424,997.7 1426,999.5 C1428,1001.3 1430,1003.1 1432,1005 C1434,1006.8 1436,1008.7 1438,1010.6 C1440,1012.4 1442,1014.3 1444,1016.1 C1446,1018 1448,1019.8 1450,1021.6 C1452,1023.4 1454,1025.2 1456,1027 C1458,1028.7 1460,1030.5 1462,1032.3 C1464,1034 1466,1035.8 1468,1037.6 C1470,1039.3 1472,1041.1 1474,1042.9 C1476,1044.6 1478,1046.4 1480,1048.1 C1482,1049.9 1484,1051.6 1486,1053.3 C1488,1055.1 1490,1056.8 1492,1058.5 C1494,1060.2 1496,1061.9 1498,1063.5 C1500,1065.1 1502,1066.7 1504,1068.2 C1506,1069.8 1508,1071.3 1510,1072.7 C1512,1074.2 1514,1075.6 1516,1077 C1518,1078.4 1520,1079.8 1522,1081.2 C1524,1082.5 1526,1083.8 1528,1085.1 C1530,1086.4 1532,1087.7 1534,1088.9 C1536,1090.2 1538,1091.4 1540,1092.6 C1542,1093.8 1544,1095 1546,1096.1 C1548,1097.3 1550,1098.4 1552,1099.5 C1554,1100.6 1556,1101.7 1558,1102.8 C1560,1103.9 1562,1105 1564,1106 C1566,1107 1568,1108.1 1570,1109 C1572,1110 1574,1111 1576,1111.9 C1578,1112.8 1580,1113.7 1582,1114.6 C1584,1115.5 1586,1116.3 1588,1117.1 C1590,1118 1592,1118.7 1594,1119.4 C1596,1120.2 1598,1120.8 1600,1121.5 C1602,1122.2 1604,1122.9 1606,1123.5 C1608,1124.1 1610,1124.8 1612,1125.4 C1614,1126 1616,1126.5 1618,1127.1 C1620,1127.6 1622,1128.1 1624,1128.6 C1626,1129.1 1628,1129.6 1630,1130.1 C1632,1130.5 1634,1131 1636,1131.4 C1638,1131.8 1640,1132.2 1642,1132.6 C1644,1133 1646,1133.4 1648,1133.8 C1650,1134.1 1652,1134.5 1654,1134.8 C1656,1135.1 1658,1135.4 1660,1135.6 C1662,1135.9 1664,1136.1 1666,1136.2 C1668,1136.3 1670,1136.4 1672,1136.5 C1674,1136.6 1676,1136.6 1678,1136.7 C1680,1136.7 1682,1136.7 1684,1136.8 C1686,1136.8 1688,1136.8 1690,1136.9 C1692,1136.9 1694,1136.9 1696,1136.9 C1698,1136.9 1700,1137 1702,1137 C1704,1137 1706,1137 1708,1137 C1710,1137 1712,1137.1 1714,1137.1 C1716,1137.1 1718,1137.1 1720,1137.1 C1722,1137.1 1724,1137.2 1726,1137.2 C1728,1137.2 1730,1137.2 1732,1137.2 C1734,1137.3 1736,1137.3 1738,1137.3 C1740,1137.3 1742,1137.3 1744,1137.3 C1746,1137.4 1748,1137.4 1750,1137.4 C1752,1137.4 1754,1137.4 1756,1137.5 C1758,1137.5 1760,1137.5 1762,1137.5 C1764,1137.5 1766,1137.5 1768,1137.6 C1770,1137.6 1772,1137.6 1774,1137.6 C1776,1137.6 1778,1137.7 1780,1137.7 C1782,1137.7 1784,1137.7 1786,1137.7 C1788,1137.7 1790,1137.8 1792,1137.8 C1794,1137.8 1796,1137.8 1798,1137.8 C1800,1137.8 1802,1137.9 1804,1137.9 C1806,1137.9 1808,1137.9 1810,1137.9 C1812,1137.9 1814.8,1138 1816,1138 C1817.2,1138 1816.8,1138 1817,1138" fill="none" stroke="#f0006e" stroke-width="5.3" stroke-dasharray="18.9 26.0 24.0 25.3 24.0 26.4 24.0 25.2 24.0 28.0 24.0 23.4 24.0 27.4 24.0 25.7 24.0 27.4 24.0 25.4 24.0 25.4 24.0 26.7 24.0 25.6 24.0 28.0 24.0 24.1 24.0 26.7 24.0 24.7 24.0 26.6 24.0 27.4 24.0 25.3 24.0 24.5 24.0 27.8 24.0 25.1 24.0 22.7 24.0 24.8 24.0 26.5 24.0 24.8 24.0 27.2 24.0 28.5 24.0 26.1 24.0 24.9 24.0 26.0 24.0 26.0 24.0 26.0 24.0 181.2" stroke-linejoin="round"/><path d="M196,796.8 C197,796.7 200,796.6 202,796.5 C204,796.4 206,796.3 208,796.1 C210,796 212,795.8 214,795.6 C216,795.4 218,795.2 220,794.9 C222,794.6 224,794.3 226,793.9 C228,793.5 230,793.1 232,792.7 C234,792.3 236,791.9 238,791.6 C240,791.3 242,791 244,790.8 C246,790.6 248,790.5 250,790.4 C252,790.3 254,790.3 256,790.3 C258,790.3 260,790.3 262,790.3 C264,790.3 266,790.3 268,790.3 C270,790.3 272,790.3 274,790.3 C276,790.3 278,790.3 280,790.3 C282,790.3 284,790.3 286,790.3 C288,790.3 290,790.3 292,790.3 C294,790.3 296,790.3 298,790.3 C300,790.3 302,790.3 304,790.4 C306,790.4 308,790.4 310,790.5 C312,790.6 314,790.7 316,790.7 C318,790.8 320,790.9 322,791 C324,791.1 326,791.2 328,791.3 C330,791.4 332,791.5 334,791.6 C336,791.6 338,791.7 340,791.8 C342,791.8 344,791.9 346,792 C348,792 350,792.1 352,792.2 C354,792.2 356,792.3 358,792.3 C360,792.4 362,792.5 364,792.5 C366,792.5 368,792.5 370,792.5 C372,792.4 374,792.3 376,792.2 C378,792.1 380,791.9 382,791.7 C384,791.5 386,791.3 388,791.1 C390,790.9 392,790.7 394,790.5 C396,790.3 398,790.1 400,789.9 C402,789.7 404,789.5 406,789.3 C408,789.1 410,788.9 412,788.7 C414,788.4 416,788.1 418,787.7 C420,787.4 422,786.9 424,786.5 C426,786 428,785.5 430,785 C432,784.5 434,784 436,783.5 C438,782.9 440,782.4 442,781.9 C444,781.4 446,780.9 448,780.4 C450,779.8 452,779.3 454,778.8 C456,778.3 458,777.9 460,777.4 C462,776.9 464,776.5 466,776 C468,775.5 470,775.1 472,774.6 C474,774.1 476,773.7 478,773.2 C480,772.7 482,772.1 484,771.6 C486,771 488,770.5 490,769.9 C492,769.3 494,768.8 496,768.2 C498,767.6 500,767.1 502,766.6 C504,766 506,765.5 508,765 C510,764.5 512,764 514,763.4 C516,762.9 518,762.4 520,761.9 C522,761.4 524,760.9 526,760.4 C528,759.9 530,759.4 532,758.9 C534,758.3 536,757.8 538,757.3 C540,756.8 542,756.2 544,755.7 C546,755.2 548,754.6 550,754.1 C552,753.5 554,753 556,752.5 C558,751.9 560,751.4 562,751 C564,750.5 566,750 568,749.6 C570,749.1 572,748.7 574,748.3 C576,747.9 578,747.5 580,747 C582,746.6 584,746.2 586,745.8 C588,745.4 590,745 592,744.6 C594,744.2 596,743.8 598,743.4 C600,743 602,742.6 604,742.3 C606,741.9 608,741.5 610,741.2 C612,740.8 614,740.4 616,740.1 C618,739.8 620,739.5 622,739.2 C624,738.9 626,738.6 628,738.4 C630,738.2 632,738 634,737.8 C636,737.6 638,737.5 640,737.3 C642,737.1 644,737 646,736.8 C648,736.6 650,736.4 652,736.1 C654,735.9 656,735.7 658,735.4 C660,735.2 662,734.9 664,734.7 C666,734.5 668,734.2 670,734 C672,733.8 674,733.6 676,733.4 C678,733.2 680,733 682,732.8 C684,732.6 686,732.4 688,732.3 C690,732.1 692,731.9 694,731.7 C696,731.5 698,731.4 700,731.2 C702,731 704,730.8 706,730.5 C708,730.2 710,729.9 712,729.5 C714,729.1 716,728.6 718,728.1 C720,727.6 722,727 724,726.4 C726,725.9 728,725.3 730,724.7 C732,724.2 734,723.6 736,723.1 C738,722.6 740,722.1 742,721.6 C744,721.2 746,720.7 748,720.2 C750,719.7 752,719.3 754,718.7 C756,718.2 758,717.6 760,717 C762,716.3 764,715.7 766,715 C768,714.3 770,713.6 772,712.9 C774,712.3 776,711.6 778,710.9 C780,710.2 782,709.5 784,708.8 C786,708.1 788,707.4 790,706.7 C792,706 794,705.3 796,704.5 C798,703.8 800,703.1 802,702.4 C804,701.6 806,700.9 808,700.1 C810,699.4 812,698.6 814,697.8 C816,697.1 818,696.3 820,695.4 C822,694.6 824,693.8 826,693 C828,692.1 830,691.3 832,690.5 C834,689.7 836,688.9 838,688.2 C840,687.4 842,686.8 844,686.2 C846,685.5 848,685 850,684.5 C852,684 854,683.5 856,683 C858,682.5 860,682 862,681.5 C864,681.1 866,680.6 868,680.1 C870,679.6 872,679.2 874,678.7 C876,678.3 878,677.8 880,677.4 C882,677 884,676.6 886,676.3 C888,675.9 890,675.6 892,675.3 C894,675 896,674.7 898,674.5 C900,674.2 902,674 904,673.9 C906,673.7 908,673.6 910,673.6 C912,673.5 914,673.5 916,673.6 C918,673.6 920,673.7 922,673.9 C924,674 926,674.3 928,674.7 C930,675 932,675.5 934,676 C936,676.5 938,677.1 940,677.7 C942,678.3 944,678.9 946,679.5 C948,680.1 950,680.7 952,681.4 C954,682 956,682.7 958,683.4 C960,684.2 962,685.1 964,686 C966,687 968,688.2 970,689.3 C972,690.5 974,691.7 976,692.9 C978,694.1 980,695.3 982,696.4 C984,697.6 986,698.6 988,699.7 C990,700.7 992,701.7 994,702.7 C996,703.7 998,704.7 1000,705.8 C1002,706.9 1004,708 1006,709.3 C1008,710.5 1010,711.9 1012,713.3 C1014,714.7 1016,716.2 1018,717.7 C1020,719.1 1022,720.7 1024,722.2 C1026,723.7 1028,725.2 1030,726.7 C1032,728.2 1034,729.7 1036,731.2 C1038,732.6 1040,734.1 1042,735.5 C1044,737 1046,738.4 1048,739.8 C1050,741.3 1052,742.7 1054,744.2 C1056,745.6 1058,747.1 1060,748.5 C1062,750 1064,751.5 1066,752.9 C1068,754.3 1070,755.7 1072,757 C1074,758.2 1076,759.5 1078,760.6 C1080,761.7 1082,762.7 1084,763.7 C1086,764.7 1088,765.6 1090,766.6 C1092,767.5 1094,768.4 1096,769.4 C1098,770.3 1100,771.2 1102,772.1 C1104,773 1106,773.9 1108,774.6 C1110,775.4 1112,776.1 1114,776.7 C1116,777.3 1118,777.8 1120,778.3 C1122,778.8 1124,779.2 1126,779.6 C1128,780 1130,780.4 1132,780.8 C1134,781.1 1136,781.4 1138,781.7 C1140,782 1142,782.3 1144,782.5 C1146,782.7 1148,782.9 1150,783.1 C1152,783.3 1154,783.4 1156,783.5 C1158,783.6 1160,783.6 1162,783.5 C1164,783.4 1166,783.3 1168,783.1 C1170,782.9 1172,782.6 1174,782.4 C1176,782.1 1178,781.9 1180,781.6 C1182,781.4 1184,781.1 1186,780.8 C1188,780.6 1190,780.3 1192,780 C1194,779.7 1196,779.3 1198,779 C1200,778.6 1202,778.2 1204,777.7 C1206,777.3 1208,776.8 1210,776.3 C1212,775.8 1214,775.4 1216,774.9 C1218,774.4 1220,773.9 1222,773.5 C1224,773 1226,772.6 1228,772.2 C1230,771.8 1232,771.4 1234,771 C1236,770.6 1238,770.2 1240,769.9 C1242,769.6 1244,769.4 1246,769.2 C1248,769 1250,768.9 1252,768.8 C1254,768.7 1256,768.7 1258,768.7 C1260,768.7 1262,768.7 1264,768.7 C1266,768.7 1268,768.7 1270,768.7 C1272,768.7 1274,768.7 1276,768.8 C1278,768.8 1280,768.8 1282,769 C1284,769.2 1286,769.4 1288,769.7 C1290,770 1292,770.4 1294,770.9 C1296,771.4 1298,771.9 1300,772.5 C1302,773.1 1304,773.8 1306,774.5 C1308,775.3 1310,776.1 1312,777 C1314,777.9 1316,778.8 1318,779.8 C1320,780.8 1322,781.8 1324,782.8 C1326,783.9 1328,785 1330,786.2 C1332,787.3 1334,788.6 1336,789.9 C1338,791.1 1340,792.4 1342,793.8 C1344,795.1 1346,796.4 1348,797.8 C1350,799.2 1352,800.6 1354,802.2 C1356,803.8 1358,805.5 1360,807.4 C1362,809.2 1364,811.3 1366,813.4 C1368,815.6 1370,817.9 1372,820.2 C1374,822.5 1376,824.9 1378,827.3 C1380,829.7 1382,832.2 1384,834.6 C1386,837 1388,839.5 1390,841.9 C1392,844.4 1394,846.8 1396,849.2 C1398,851.6 1400,854 1402,856.5 C1404,858.9 1406,861.3 1408,863.8 C1410,866.4 1412,868.9 1414,871.6 C1416,874.3 1418,877.2 1420,880.1 C1422,883 1424,886 1426,889 C1428,892 1430,895 1432,898 C1434,900.9 1436,903.9 1438,906.9 C1440,909.8 1442,912.8 1444,915.8 C1446,918.8 1448,921.9 1450,925 C1452,928 1454,931.1 1456,934.2 C1458,937.4 1460,940.5 1462,943.6 C1464,946.7 1466,949.8 1468,953 C1470,956.1 1472,959.3 1474,962.6 C1476,965.8 1478,969.2 1480,972.4 C1482,975.7 1484,979.1 1486,982.2 C1488,985.4 1490,988.4 1492,991.3 C1494,994.2 1496,996.8 1498,999.5 C1500,1002.1 1502,1004.6 1504,1007.2 C1506,1009.8 1508,1012.3 1510,1014.9 C1512,1017.4 1514,1020.1 1516,1022.7 C1518,1025.3 1520,1028 1522,1030.7 C1524,1033.3 1526,1036 1528,1038.7 C1530,1041.3 1532,1044 1534,1046.6 C1536,1049.1 1538,1051.6 1540,1053.9 C1542,1056.2 1544,1058.3 1546,1060.4 C1548,1062.5 1550,1064.4 1552,1066.3 C1554,1068.2 1556,1070 1558,1071.8 C1560,1073.7 1562,1075.5 1564,1077.3 C1566,1079.1 1568,1081 1570,1082.7 C1572,1084.5 1574,1086.2 1576,1087.9 C1578,1089.6 1580,1091.3 1582,1092.9 C1584,1094.5 1586,1096.1 1588,1097.6 C1590,1099.1 1592,1100.5 1594,1101.9 C1596,1103.3 1598,1104.6 1600,1105.9 C1602,1107.1 1604,1108.4 1606,1109.6 C1608,1110.7 1610,1111.9 1612,1112.9 C1614,1114 1616,1114.9 1618,1115.8 C1620,1116.7 1622,1117.5 1624,1118.3 C1626,1119.1 1628,1119.9 1630,1120.7 C1632,1121.5 1634,1122.2 1636,1123 C1638,1123.8 1640,1124.5 1642,1125.3 C1644,1126 1646,1126.8 1648,1127.4 C1650,1128 1652,1128.6 1654,1129.2 C1656,1129.7 1658,1130.1 1660,1130.6 C1662,1131 1664,1131.3 1666,1131.7 C1668,1132 1670,1132.3 1672,1132.6 C1674,1132.9 1676,1133.1 1678,1133.3 C1680,1133.6 1682,1133.7 1684,1133.9 C1686,1134.1 1688,1134.3 1690,1134.4 C1692,1134.6 1694,1134.8 1696,1135 C1698,1135.1 1700,1135.3 1702,1135.5 C1704,1135.6 1706,1135.8 1708,1136 C1710,1136.1 1712,1136.3 1714,1136.4 C1716,1136.6 1718,1136.7 1720,1136.8 C1722,1136.9 1724,1137 1726,1137 C1728,1137.1 1730,1137.1 1732,1137.1 C1734,1137.1 1736,1137.2 1738,1137.2 C1740,1137.2 1742,1137.2 1744,1137.2 C1746,1137.3 1748,1137.3 1750,1137.3 C1752,1137.3 1754,1137.4 1756,1137.4 C1758,1137.4 1760,1137.4 1762,1137.4 C1764,1137.5 1766,1137.5 1768,1137.5 C1770,1137.5 1772,1137.5 1774,1137.6 C1776,1137.6 1778,1137.6 1780,1137.6 C1782,1137.6 1784,1137.7 1786,1137.7 C1788,1137.7 1790,1137.7 1792,1137.7 C1794,1137.8 1796,1137.8 1798,1137.8 C1800,1137.8 1802,1137.8 1804,1137.9 C1806,1137.9 1808,1137.9 1810,1137.9 C1812,1137.9 1814.8,1138 1816,1138 C1817.2,1138 1816.8,1138 1817,1138" fill="none" stroke="#000" stroke-width="8" stroke-dasharray="1.0 20.0 7.5 20.0 40.2 20.0 7.5 20.0 39.9 20.0 7.5 20.0 38.0 20.0 7.5 20.0 37.7 20.0 7.5 20.0 40.5 20.0 7.5 20.0 39.7 20.0 7.5 20.0 41.3 20.0 7.5 20.0 40.6 20.0 7.5 20.0 36.3 20.0 7.5 20.0 39.5 20.0 7.5 20.0 42.6 20.0 7.5 20.0 39.1 20.0 7.5 20.0 39.9 20.0 7.5 20.0 34.7 20.0 7.5 20.0 42.8 20.0 7.5 20.0 40.3 20.0 7.5 20.0 39.0 20.0 7.5 20.0 42.4 20.0 7.5 20.0 41.6 20.0 7.5 20.0 40.0 20.0 7.5 20.0 40.0 20.0 7.5 165.2" stroke-linejoin="round"/><path d="M196,606.9 V1145.2 M172.5,1142.7 H1817 M1004.5,607.9 V1142.7 M172.5,990.5 H196 M172.5,838.2 H196 M172.5,686 H196 M183,1066.6 H196 M183,914.4 H196 M183,762.1 H196 M183,609.9 H196 M221.5,1142.7 V1165.7 M482.5,1142.7 V1165.7 M743.5,1142.7 V1165.7 M1004.5,1142.7 V1165.7 M1265.5,1142.7 V1165.7 M1526.5,1142.7 V1165.7 M1787.5,1142.7 V1165.7 M352,1142.7 V1154.7 M613,1142.7 V1154.7 M874,1142.7 V1154.7 M1135,1142.7 V1154.7 M1396,1142.7 V1154.7 M1657,1142.7 V1154.7" fill="none" stroke="#000" stroke-width="5"/><text x="158.5" y="1157.2" font-size="46" text-anchor="end">0</text><text x="158.5" y="1005" font-size="46" text-anchor="end">10</text><text x="158.5" y="852.7" font-size="46" text-anchor="end">20</text><text x="158.5" y="700.5" font-size="46" text-anchor="end">30</text><text x="240.1" y="774.3" font-size="47">total</text><text x="240.1" y="915.7" font-size="47" letter-spacing="0.6">d orbitals</text><text x="240.1" y="995.6" font-size="47" letter-spacing="0.6">p orbitals</text><text x="240.1" y="1089" font-size="47" letter-spacing="0.6">s orbitals</text></g>
<g><path d="M196,1667.7 C197,1667.7 200,1667.8 202,1667.8 C204,1667.9 206,1668 208,1668.1 C210,1668.1 212,1668.2 214,1668.3 C216,1668.4 218,1668.5 220,1668.6 C222,1668.7 224,1668.8 226,1668.9 C228,1669 230,1669.1 232,1669.2 C234,1669.2 236,1669.3 238,1669.4 C240,1669.5 242,1669.6 244,1669.6 C246,1669.7 248,1669.7 250,1669.8 C252,1669.8 254,1669.9 256,1669.9 C258,1670 260,1670 262,1670.1 C264,1670.1 266,1670.2 268,1670.2 C270,1670.3 272,1670.3 274,1670.4 C276,1670.5 278,1670.5 280,1670.6 C282,1670.6 284,1670.7 286,1670.7 C288,1670.8 290,1670.8 292,1670.8 C294,1670.9 296,1670.9 298,1670.9 C300,1670.9 302,1670.9 304,1670.9 C306,1670.9 308,1670.9 310,1670.9 C312,1670.9 314,1671 316,1671 C318,1671 320,1671.1 322,1671.1 C324,1671.2 326,1671.3 328,1671.3 C330,1671.4 332,1671.5 334,1671.5 C336,1671.6 338,1671.6 340,1671.7 C342,1671.8 344,1671.8 346,1671.9 C348,1671.9 350,1672 352,1672 C354,1672.1 356,1672.1 358,1672.1 C360,1672.2 362,1672.2 364,1672.2 C366,1672.2 368,1672.3 370,1672.3 C372,1672.3 374,1672.3 376,1672.3 C378,1672.4 380,1672.4 382,1672.4 C384,1672.4 386,1672.4 388,1672.5 C390,1672.5 392,1672.5 394,1672.5 C396,1672.5 398,1672.5 400,1672.6 C402,1672.6 404,1672.6 406,1672.6 C408,1672.6 410,1672.6 412,1672.6 C414,1672.6 416,1672.6 418,1672.6 C420,1672.6 422,1672.6 424,1672.6 C426,1672.6 428,1672.6 430,1672.6 C432,1672.6 434,1672.6 436,1672.6 C438,1672.6 440,1672.6 442,1672.6 C444,1672.6 446,1672.6 448,1672.6 C450,1672.6 452,1672.6 454,1672.6 C456,1672.6 458,1672.6 460,1672.6 C462,1672.6 464,1672.6 466,1672.6 C468,1672.6 470,1672.6 472,1672.6 C474,1672.6 476,1672.6 478,1672.6 C480,1672.6 482,1672.6 484,1672.6 C486,1672.6 488,1672.6 490,1672.6 C492,1672.6 494,1672.6 496,1672.6 C498,1672.6 500,1672.6 502,1672.6 C504,1672.6 506,1672.6 508,1672.6 C510,1672.6 512,1672.6 514,1672.6 C516,1672.6 518,1672.6 520,1672.6 C522,1672.6 524,1672.6 526,1672.6 C528,1672.6 530,1672.6 532,1672.6 C534,1672.6 536,1672.6 538,1672.6 C540,1672.6 542,1672.6 544,1672.6 C546,1672.6 548,1672.6 550,1672.6 C552,1672.6 554,1672.6 556,1672.5 C558,1672.5 560,1672.5 562,1672.5 C564,1672.5 566,1672.5 568,1672.4 C570,1672.4 572,1672.4 574,1672.4 C576,1672.4 578,1672.3 580,1672.3 C582,1672.3 584,1672.3 586,1672.3 C588,1672.2 590,1672.2 592,1672.2 C594,1672.2 596,1672.2 598,1672.2 C600,1672.1 602,1672.1 604,1672.1 C606,1672.1 608,1672.1 610,1672.1 C612,1672.1 614,1672.1 616,1672.1 C618,1672.1 620,1672.1 622,1672.1 C624,1672.1 626,1672.1 628,1672.1 C630,1672.1 632,1672.1 634,1672.1 C636,1672.1 638,1672.1 640,1672.1 C642,1672.1 644,1672.1 646,1672.1 C648,1672 650,1672 652,1672 C654,1671.9 656,1671.9 658,1671.8 C660,1671.7 662,1671.6 664,1671.5 C666,1671.4 668,1671.3 670,1671.3 C672,1671.2 674,1671.1 676,1671 C678,1670.9 680,1670.8 682,1670.7 C684,1670.6 686,1670.5 688,1670.4 C690,1670.3 692,1670.2 694,1670.1 C696,1670 698,1669.9 700,1669.7 C702,1669.6 704,1669.5 706,1669.3 C708,1669.1 710,1669 712,1668.8 C714,1668.6 716,1668.4 718,1668.2 C720,1668.1 722,1667.9 724,1667.7 C726,1667.5 728,1667.3 730,1667.1 C732,1666.9 734,1666.8 736,1666.6 C738,1666.4 740,1666.2 742,1666 C744,1665.8 746,1665.7 748,1665.5 C750,1665.3 752,1665.1 754,1664.9 C756,1664.8 758,1664.6 760,1664.4 C762,1664.3 764,1664.1 766,1663.9 C768,1663.7 770,1663.6 772,1663.4 C774,1663.2 776,1663 778,1662.9 C780,1662.7 782,1662.5 784,1662.4 C786,1662.2 788,1662 790,1661.8 C792,1661.7 794,1661.5 796,1661.3 C798,1661.1 800,1660.9 802,1660.8 C804,1660.6 806,1660.4 808,1660.2 C810,1660 812,1659.8 814,1659.6 C816,1659.4 818,1659.2 820,1659 C822,1658.8 824,1658.6 826,1658.4 C828,1658.2 830,1658 832,1657.8 C834,1657.6 836,1657.4 838,1657.2 C840,1657 842,1656.8 844,1656.6 C846,1656.4 848,1656.3 850,1656.1 C852,1655.9 854,1655.8 856,1655.6 C858,1655.5 860,1655.4 862,1655.3 C864,1655.2 866,1655.1 868,1655 C870,1654.8 872,1654.7 874,1654.6 C876,1654.5 878,1654.4 880,1654.3 C882,1654.2 884,1654.1 886,1654 C888,1653.9 890,1653.8 892,1653.7 C894,1653.6 896,1653.6 898,1653.5 C900,1653.5 902,1653.5 904,1653.6 C906,1653.6 908,1653.7 910,1653.8 C912,1653.9 914,1654 916,1654.1 C918,1654.2 920,1654.4 922,1654.5 C924,1654.6 926,1654.7 928,1654.8 C930,1655 932,1655.1 934,1655.2 C936,1655.3 938,1655.4 940,1655.6 C942,1655.7 944,1655.8 946,1656 C948,1656.1 950,1656.2 952,1656.4 C954,1656.5 956,1656.7 958,1656.8 C960,1657 962,1657.2 964,1657.3 C966,1657.5 968,1657.7 970,1657.8 C972,1658 974,1658.2 976,1658.4 C978,1658.5 980,1658.7 982,1658.9 C984,1659 986,1659.2 988,1659.4 C990,1659.6 992,1659.7 994,1659.9 C996,1660.1 998,1660.3 1000,1660.5 C1002,1660.7 1004,1661 1006,1661.2 C1008,1661.4 1010,1661.7 1012,1661.9 C1014,1662.1 1016,1662.4 1018,1662.6 C1020,1662.9 1022,1663.1 1024,1663.4 C1026,1663.6 1028,1663.8 1030,1664.1 C1032,1664.3 1034,1664.6 1036,1664.8 C1038,1665 1040,1665.3 1042,1665.5 C1044,1665.7 1046,1666 1048,1666.2 C1050,1666.4 1052,1666.6 1054,1666.8 C1056,1667 1058,1667.2 1060,1667.4 C1062,1667.6 1064,1667.8 1066,1668 C1068,1668.1 1070,1668.3 1072,1668.5 C1074,1668.7 1076,1668.9 1078,1669 C1080,1669.2 1082,1669.4 1084,1669.6 C1086,1669.8 1088,1669.9 1090,1670.1 C1092,1670.3 1094,1670.5 1096,1670.6 C1098,1670.8 1100,1671 1102,1671.1 C1104,1671.3 1106,1671.4 1108,1671.6 C1110,1671.7 1112,1671.9 1114,1672 C1116,1672.2 1118,1672.3 1120,1672.4 C1122,1672.6 1124,1672.7 1126,1672.8 C1128,1673 1130,1673.1 1132,1673.3 C1134,1673.4 1136,1673.6 1138,1673.7 C1140,1673.8 1142,1674 1144,1674.1 C1146,1674.2 1148,1674.3 1150,1674.4 C1152,1674.4 1154,1674.5 1156,1674.5 C1158,1674.6 1160,1674.6 1162,1674.6 C1164,1674.6 1166,1674.6 1168,1674.6 C1170,1674.6 1172,1674.6 1174,1674.6 C1176,1674.6 1178,1674.6 1180,1674.6 C1182,1674.6 1184,1674.6 1186,1674.6 C1188,1674.6 1190,1674.6 1192,1674.6 C1194,1674.6 1196,1674.6 1198,1674.6 C1200,1674.6 1202,1674.5 1204,1674.5 C1206,1674.5 1208,1674.4 1210,1674.4 C1212,1674.4 1214,1674.3 1216,1674.3 C1218,1674.2 1220,1674.2 1222,1674.1 C1224,1674.1 1226,1674 1228,1674 C1230,1673.9 1232,1673.9 1234,1673.8 C1236,1673.8 1238,1673.7 1240,1673.7 C1242,1673.6 1244,1673.6 1246,1673.6 C1248,1673.5 1250,1673.5 1252,1673.5 C1254,1673.4 1256,1673.4 1258,1673.4 C1260,1673.4 1262,1673.4 1264,1673.4 C1266,1673.4 1268,1673.4 1270,1673.4 C1272,1673.4 1274,1673.4 1276,1673.4 C1278,1673.4 1280,1673.4 1282,1673.4 C1284,1673.4 1286,1673.4 1288,1673.4 C1290,1673.4 1292,1673.4 1294,1673.4 C1296,1673.4 1298,1673.4 1300,1673.4 C1302,1673.4 1304,1673.5 1306,1673.5 C1308,1673.5 1310,1673.5 1312,1673.5 C1314,1673.6 1316,1673.6 1318,1673.6 C1320,1673.7 1322,1673.7 1324,1673.7 C1326,1673.7 1328,1673.8 1330,1673.8 C1332,1673.8 1334,1673.9 1336,1673.9 C1338,1673.9 1340,1673.9 1342,1674 C1344,1674 1346,1674.1 1348,1674.2 C1350,1674.2 1352,1674.3 1354,1674.4 C1356,1674.5 1358,1674.7 1360,1674.8 C1362,1675 1364,1675.1 1366,1675.3 C1368,1675.4 1370,1675.6 1372,1675.7 C1374,1675.9 1376,1676 1378,1676.2 C1380,1676.4 1382,1676.5 1384,1676.7 C1386,1676.8 1388,1677 1390,1677.1 C1392,1677.3 1394,1677.5 1396,1677.6 C1398,1677.8 1400,1677.9 1402,1678.1 C1404,1678.3 1406,1678.4 1408,1678.6 C1410,1678.8 1412,1679 1414,1679.1 C1416,1679.3 1418,1679.5 1420,1679.7 C1422,1679.9 1424,1680.1 1426,1680.3 C1428,1680.5 1430,1680.7 1432,1680.9 C1434,1681.1 1436,1681.3 1438,1681.5 C1440,1681.7 1442,1681.9 1444,1682.1 C1446,1682.3 1448,1682.5 1450,1682.7 C1452,1683 1454,1683.2 1456,1683.4 C1458,1683.7 1460,1683.9 1462,1684.1 C1464,1684.4 1466,1684.6 1468,1684.8 C1470,1685.1 1472,1685.3 1474,1685.6 C1476,1685.8 1478,1686.1 1480,1686.3 C1482,1686.5 1484,1686.8 1486,1687 C1488,1687.3 1490,1687.5 1492,1687.7 C1494,1688 1496,1688.2 1498,1688.5 C1500,1688.7 1502,1688.9 1504,1689.2 C1506,1689.4 1508,1689.7 1510,1689.9 C1512,1690.1 1514,1690.4 1516,1690.6 C1518,1690.9 1520,1691.1 1522,1691.3 C1524,1691.6 1526,1691.8 1528,1692.1 C1530,1692.3 1532,1692.5 1534,1692.8 C1536,1693 1538,1693.3 1540,1693.5 C1542,1693.7 1544,1694 1546,1694.2 C1548,1694.4 1550,1694.6 1552,1694.8 C1554,1695 1556,1695.2 1558,1695.3 C1560,1695.5 1562,1695.7 1564,1695.8 C1566,1696 1568,1696.2 1570,1696.3 C1572,1696.5 1574,1696.7 1576,1696.8 C1578,1697 1580,1697.2 1582,1697.3 C1584,1697.5 1586,1697.7 1588,1697.8 C1590,1698 1592,1698.1 1594,1698.2 C1596,1698.4 1598,1698.5 1600,1698.6 C1602,1698.7 1604,1698.7 1606,1698.8 C1608,1698.8 1610,1698.8 1612,1698.8 C1614,1698.8 1616,1698.8 1618,1698.8 C1620,1698.8 1622,1698.8 1624,1698.8 C1626,1698.8 1628,1698.9 1630,1698.9 C1632,1698.9 1634,1698.9 1636,1698.9 C1638,1698.9 1640,1698.9 1642,1698.9 C1644,1698.9 1646,1698.9 1648,1698.9 C1650,1698.9 1652,1698.9 1654,1698.9 C1656,1698.9 1658,1698.9 1660,1698.9 C1662,1698.9 1664,1698.9 1666,1698.9 C1668,1698.9 1670,1698.9 1672,1698.9 C1674,1698.9 1676,1698.9 1678,1698.9 C1680,1698.9 1682,1699 1684,1699 C1686,1699 1688,1699 1690,1699 C1692,1699 1694,1699 1696,1699 C1698,1699 1700,1699 1702,1699 C1704,1699 1706,1699 1708,1699 C1710,1699 1712,1699 1714,1699 C1716,1699 1718,1699 1720,1699 C1722,1699 1724,1699 1726,1699 C1728,1699 1730,1699 1732,1699 C1734,1699 1736,1699.1 1738,1699.1 C1740,1699.1 1742,1699.1 1744,1699.1 C1746,1699.1 1748,1699.1 1750,1699.1 C1752,1699.1 1754,1699.1 1756,1699.1 C1758,1699.1 1760,1699.1 1762,1699.1 C1764,1699.1 1766,1699.1 1768,1699.1 C1770,1699.1 1772,1699.1 1774,1699.1 C1776,1699.1 1778,1699.1 1780,1699.1 C1782,1699.1 1784,1699.1 1786,1699.1 C1788,1699.1 1790,1699.2 1792,1699.2 C1794,1699.2 1796,1699.2 1798,1699.2 C1800,1699.2 1802,1699.2 1804,1699.2 C1806,1699.2 1808,1699.2 1810,1699.2 C1812,1699.2 1814.8,1699.2 1816,1699.2 C1817.2,1699.2 1816.8,1699.2 1817,1699.2" fill="none" stroke="#007800" stroke-width="5.3" stroke-dasharray="18.5 26.0 24.0 26.5 24.0 25.0 24.0 26.6 24.0 26.4 24.0 25.0 24.0 26.7 24.0 25.3 24.0 26.4 24.0 25.2 24.0 26.6 24.0 26.7 24.0 26.7 24.0 23.9 24.0 27.9 24.0 25.4 24.0 26.9 24.0 25.4 24.0 26.5 24.0 26.5 24.0 25.2 24.0 26.3 24.0 25.3 24.0 25.3 24.0 26.7 24.0 25.4 24.0 26.8 24.0 26.5 24.0 26.0 24.0 26.0 24.0 26.0 24.0 26.0 24.0 204.2" stroke-linejoin="round"/><path d="M196,1562.4 C197,1562.4 200,1562.4 202,1562.4 C204,1562.4 206,1562.4 208,1562.4 C210,1562.4 212,1562.5 214,1562.5 C216,1562.6 218,1562.6 220,1562.7 C222,1562.7 224,1562.8 226,1562.9 C228,1563 230,1563.1 232,1563.2 C234,1563.3 236,1563.3 238,1563.4 C240,1563.5 242,1563.5 244,1563.5 C246,1563.6 248,1563.6 250,1563.6 C252,1563.6 254,1563.6 256,1563.7 C258,1563.7 260,1563.8 262,1563.9 C264,1564 266,1564.1 268,1564.3 C270,1564.5 272,1564.8 274,1565 C276,1565.3 278,1565.6 280,1565.8 C282,1566.1 284,1566.4 286,1566.6 C288,1566.8 290,1567.1 292,1567.3 C294,1567.4 296,1567.6 298,1567.7 C300,1567.9 302,1568 304,1568.1 C306,1568.3 308,1568.4 310,1568.6 C312,1568.8 314,1569 316,1569.2 C318,1569.5 320,1569.8 322,1570.2 C324,1570.5 326,1570.9 328,1571.3 C330,1571.7 332,1572.1 334,1572.5 C336,1572.9 338,1573.3 340,1573.7 C342,1574.1 344,1574.6 346,1575 C348,1575.4 350,1575.8 352,1576.2 C354,1576.6 356,1577.1 358,1577.4 C360,1577.8 362,1578.2 364,1578.5 C366,1578.8 368,1579 370,1579.3 C372,1579.5 374,1579.7 376,1579.9 C378,1580.1 380,1580.3 382,1580.5 C384,1580.6 386,1580.8 388,1580.9 C390,1581.1 392,1581.2 394,1581.3 C396,1581.4 398,1581.4 400,1581.5 C402,1581.5 404,1581.6 406,1581.6 C408,1581.7 410,1581.7 412,1581.8 C414,1581.8 416,1581.9 418,1581.9 C420,1582 422,1582 424,1582.1 C426,1582.2 428,1582.2 430,1582.3 C432,1582.3 434,1582.4 436,1582.4 C438,1582.5 440,1582.5 442,1582.5 C444,1582.6 446,1582.6 448,1582.6 C450,1582.6 452,1582.6 454,1582.6 C456,1582.6 458,1582.6 460,1582.6 C462,1582.5 464,1582.5 466,1582.5 C468,1582.4 470,1582.4 472,1582.3 C474,1582.3 476,1582.2 478,1582.2 C480,1582.1 482,1582 484,1582 C486,1581.9 488,1581.9 490,1581.8 C492,1581.8 494,1581.7 496,1581.7 C498,1581.6 500,1581.6 502,1581.5 C504,1581.5 506,1581.4 508,1581.4 C510,1581.3 512,1581.2 514,1581.1 C516,1581 518,1580.8 520,1580.7 C522,1580.5 524,1580.4 526,1580.2 C528,1580 530,1579.8 532,1579.6 C534,1579.5 536,1579.3 538,1579.1 C540,1579 542,1578.8 544,1578.7 C546,1578.6 548,1578.4 550,1578.3 C552,1578.2 554,1578.1 556,1578 C558,1577.9 560,1577.7 562,1577.6 C564,1577.5 566,1577.3 568,1577.1 C570,1577 572,1576.8 574,1576.6 C576,1576.4 578,1576.2 580,1576 C582,1575.8 584,1575.6 586,1575.5 C588,1575.3 590,1575.2 592,1575.1 C594,1575 596,1575 598,1574.9 C600,1574.8 602,1574.8 604,1574.7 C606,1574.7 608,1574.6 610,1574.5 C612,1574.4 614,1574.3 616,1574.2 C618,1574.1 620,1574 622,1573.8 C624,1573.7 626,1573.5 628,1573.4 C630,1573.3 632,1573.1 634,1573 C636,1572.9 638,1572.8 640,1572.7 C642,1572.6 644,1572.6 646,1572.6 C648,1572.5 650,1572.5 652,1572.5 C654,1572.5 656,1572.5 658,1572.4 C660,1572.3 662,1572.2 664,1572.1 C666,1571.9 668,1571.7 670,1571.5 C672,1571.3 674,1571 676,1570.7 C678,1570.5 680,1570.2 682,1569.9 C684,1569.6 686,1569.3 688,1569 C690,1568.7 692,1568.3 694,1568 C696,1567.7 698,1567.4 700,1567.1 C702,1566.7 704,1566.4 706,1566 C708,1565.7 710,1565.3 712,1564.9 C714,1564.4 716,1563.9 718,1563.4 C720,1562.9 722,1562.3 724,1561.7 C726,1561.2 728,1560.6 730,1560 C732,1559.4 734,1558.9 736,1558.3 C738,1557.8 740,1557.2 742,1556.7 C744,1556.2 746,1555.8 748,1555.3 C750,1554.8 752,1554.4 754,1553.9 C756,1553.3 758,1552.8 760,1552.2 C762,1551.6 764,1550.9 766,1550.1 C768,1549.4 770,1548.6 772,1547.8 C774,1546.9 776,1546.1 778,1545.3 C780,1544.4 782,1543.6 784,1542.9 C786,1542.1 788,1541.4 790,1540.6 C792,1539.9 794,1539.3 796,1538.6 C798,1537.9 800,1537.2 802,1536.6 C804,1535.9 806,1535.2 808,1534.5 C810,1533.9 812,1533.2 814,1532.5 C816,1531.8 818,1531.1 820,1530.4 C822,1529.7 824,1529 826,1528.3 C828,1527.6 830,1527 832,1526.3 C834,1525.7 836,1525.1 838,1524.5 C840,1523.9 842,1523.4 844,1522.8 C846,1522.3 848,1521.7 850,1521.2 C852,1520.7 854,1520.3 856,1519.9 C858,1519.4 860,1519.1 862,1518.7 C864,1518.4 866,1518.1 868,1517.8 C870,1517.5 872,1517.2 874,1517 C876,1516.7 878,1516.4 880,1516.2 C882,1516 884,1515.8 886,1515.6 C888,1515.5 890,1515.3 892,1515.2 C894,1515.1 896,1515 898,1514.9 C900,1514.8 902,1514.8 904,1514.7 C906,1514.7 908,1514.7 910,1514.8 C912,1514.9 914,1515 916,1515.1 C918,1515.2 920,1515.3 922,1515.5 C924,1515.6 926,1515.8 928,1516 C930,1516.2 932,1516.5 934,1516.8 C936,1517 938,1517.4 940,1517.8 C942,1518.2 944,1518.6 946,1519 C948,1519.5 950,1520 952,1520.5 C954,1521 956,1521.5 958,1522.1 C960,1522.6 962,1523.2 964,1523.8 C966,1524.4 968,1525.1 970,1525.7 C972,1526.3 974,1527 976,1527.7 C978,1528.4 980,1529.1 982,1529.8 C984,1530.6 986,1531.4 988,1532.2 C990,1532.9 992,1533.8 994,1534.6 C996,1535.4 998,1536.2 1000,1537 C1002,1537.8 1004,1538.6 1006,1539.4 C1008,1540.1 1010,1540.9 1012,1541.7 C1014,1542.5 1016,1543.2 1018,1544 C1020,1544.8 1022,1545.6 1024,1546.4 C1026,1547.3 1028,1548.2 1030,1549.1 C1032,1550 1034,1551 1036,1551.9 C1038,1552.8 1040,1553.8 1042,1554.7 C1044,1555.6 1046,1556.5 1048,1557.3 C1050,1558.1 1052,1558.9 1054,1559.6 C1056,1560.4 1058,1561 1060,1561.7 C1062,1562.4 1064,1563.1 1066,1563.8 C1068,1564.4 1070,1565.1 1072,1565.7 C1074,1566.3 1076,1566.9 1078,1567.5 C1080,1568.1 1082,1568.6 1084,1569.2 C1086,1569.7 1088,1570.3 1090,1570.8 C1092,1571.3 1094,1571.8 1096,1572.2 C1098,1572.7 1100,1573.1 1102,1573.5 C1104,1573.9 1106,1574.3 1108,1574.6 C1110,1575 1112,1575.4 1114,1575.7 C1116,1576 1118,1576.3 1120,1576.6 C1122,1576.8 1124,1577 1126,1577.2 C1128,1577.3 1130,1577.4 1132,1577.4 C1134,1577.5 1136,1577.5 1138,1577.5 C1140,1577.5 1142,1577.5 1144,1577.5 C1146,1577.5 1148,1577.5 1150,1577.5 C1152,1577.5 1154,1577.5 1156,1577.5 C1158,1577.5 1160,1577.5 1162,1577.5 C1164,1577.5 1166,1577.5 1168,1577.5 C1170,1577.5 1172,1577.5 1174,1577.5 C1176,1577.5 1178,1577.5 1180,1577.5 C1182,1577.5 1184,1577.5 1186,1577.5 C1188,1577.4 1190,1577.4 1192,1577.3 C1194,1577.2 1196,1577.1 1198,1576.9 C1200,1576.7 1202,1576.5 1204,1576.3 C1206,1576 1208,1575.8 1210,1575.5 C1212,1575.2 1214,1574.9 1216,1574.6 C1218,1574.4 1220,1574.1 1222,1573.8 C1224,1573.5 1226,1573.1 1228,1572.8 C1230,1572.5 1232,1572.1 1234,1571.8 C1236,1571.5 1238,1571.1 1240,1570.8 C1242,1570.5 1244,1570.2 1246,1570 C1248,1569.7 1250,1569.5 1252,1569.3 C1254,1569.1 1256,1568.9 1258,1568.7 C1260,1568.5 1262,1568.3 1264,1568.2 C1266,1568 1268,1567.9 1270,1567.8 C1272,1567.6 1274,1567.6 1276,1567.5 C1278,1567.5 1280,1567.4 1282,1567.4 C1284,1567.4 1286,1567.4 1288,1567.4 C1290,1567.4 1292,1567.4 1294,1567.4 C1296,1567.4 1298,1567.4 1300,1567.4 C1302,1567.4 1304,1567.4 1306,1567.4 C1308,1567.4 1310,1567.4 1312,1567.4 C1314,1567.5 1316,1567.5 1318,1567.6 C1320,1567.7 1322,1567.8 1324,1568.1 C1326,1568.3 1328,1568.6 1330,1569 C1332,1569.3 1334,1569.7 1336,1570.1 C1338,1570.5 1340,1570.9 1342,1571.4 C1344,1571.8 1346,1572.3 1348,1572.8 C1350,1573.3 1352,1573.7 1354,1574.2 C1356,1574.7 1358,1575.3 1360,1575.8 C1362,1576.3 1364,1576.8 1366,1577.3 C1368,1577.9 1370,1578.5 1372,1579.1 C1374,1579.7 1376,1580.3 1378,1581 C1380,1581.6 1382,1582.3 1384,1583 C1386,1583.7 1388,1584.4 1390,1585.1 C1392,1585.8 1394,1586.6 1396,1587.3 C1398,1588 1400,1588.8 1402,1589.5 C1404,1590.3 1406,1591.1 1408,1591.8 C1410,1592.6 1412,1593.4 1414,1594.2 C1416,1595 1418,1595.8 1420,1596.6 C1422,1597.4 1424,1598.3 1426,1599.1 C1428,1600 1430,1600.9 1432,1601.8 C1434,1602.8 1436,1603.7 1438,1604.7 C1440,1605.7 1442,1606.8 1444,1607.9 C1446,1609 1448,1610.2 1450,1611.4 C1452,1612.5 1454,1613.8 1456,1615 C1458,1616.1 1460,1617.3 1462,1618.5 C1464,1619.7 1466,1620.8 1468,1622 C1470,1623.1 1472,1624.3 1474,1625.4 C1476,1626.6 1478,1627.7 1480,1628.9 C1482,1630.1 1484,1631.3 1486,1632.5 C1488,1633.7 1490,1634.9 1492,1636.1 C1494,1637.4 1496,1638.6 1498,1639.8 C1500,1641 1502,1642.2 1504,1643.3 C1506,1644.4 1508,1645.5 1510,1646.5 C1512,1647.5 1514,1648.4 1516,1649.4 C1518,1650.3 1520,1651.2 1522,1652.2 C1524,1653.2 1526,1654.2 1528,1655.2 C1530,1656.2 1532,1657.2 1534,1658.3 C1536,1659.4 1538,1660.5 1540,1661.5 C1542,1662.6 1544,1663.6 1546,1664.6 C1548,1665.6 1550,1666.6 1552,1667.5 C1554,1668.4 1556,1669.2 1558,1670 C1560,1670.8 1562,1671.6 1564,1672.4 C1566,1673.2 1568,1673.9 1570,1674.7 C1572,1675.4 1574,1676.1 1576,1676.9 C1578,1677.6 1580,1678.3 1582,1679.1 C1584,1679.8 1586,1680.5 1588,1681.2 C1590,1681.9 1592,1682.5 1594,1683.2 C1596,1683.8 1598,1684.4 1600,1684.9 C1602,1685.5 1604,1686 1606,1686.5 C1608,1687 1610,1687.5 1612,1688 C1614,1688.5 1616,1688.9 1618,1689.4 C1620,1689.9 1622,1690.3 1624,1690.8 C1626,1691.3 1628,1691.7 1630,1692.2 C1632,1692.6 1634,1693.1 1636,1693.5 C1638,1693.9 1640,1694.4 1642,1694.7 C1644,1695.1 1646,1695.4 1648,1695.7 C1650,1695.9 1652,1696.1 1654,1696.3 C1656,1696.5 1658,1696.6 1660,1696.7 C1662,1696.9 1664,1697 1666,1697 C1668,1697.1 1670,1697.2 1672,1697.2 C1674,1697.3 1676,1697.3 1678,1697.3 C1680,1697.4 1682,1697.4 1684,1697.4 C1686,1697.4 1688,1697.5 1690,1697.5 C1692,1697.5 1694,1697.5 1696,1697.5 C1698,1697.6 1700,1697.6 1702,1697.6 C1704,1697.6 1706,1697.7 1708,1697.7 C1710,1697.7 1712,1697.7 1714,1697.8 C1716,1697.8 1718,1697.8 1720,1697.8 C1722,1697.9 1724,1697.9 1726,1697.9 C1728,1697.9 1730,1698 1732,1698 C1734,1698 1736,1698 1738,1698.1 C1740,1698.1 1742,1698.1 1744,1698.1 C1746,1698.1 1748,1698.2 1750,1698.2 C1752,1698.2 1754,1698.2 1756,1698.3 C1758,1698.3 1760,1698.3 1762,1698.3 C1764,1698.4 1766,1698.4 1768,1698.4 C1770,1698.4 1772,1698.5 1774,1698.5 C1776,1698.5 1778,1698.5 1780,1698.6 C1782,1698.6 1784,1698.6 1786,1698.6 C1788,1698.7 1790,1698.7 1792,1698.7 C1794,1698.7 1796,1698.7 1798,1698.8 C1800,1698.8 1802,1698.8 1804,1698.8 C1806,1698.9 1808,1698.9 1810,1698.9 C1812,1698.9 1814.8,1699 1816,1699 C1817.2,1699 1816.8,1699 1817,1699" fill="none" stroke="#000080" stroke-width="5.3" stroke-dasharray="18.5 26.0 24.0 26.6 24.0 25.7 24.0 27.1 24.0 25.1 24.0 25.2 24.0 27.9 24.0 25.2 24.0 26.7 24.0 25.4 24.0 26.4 24.0 25.2 24.0 26.6 24.0 26.3 24.0 26.6 24.0 24.4 24.0 26.3 24.0 26.3 24.0 27.6 24.0 25.2 24.0 26.7 24.0 25.5 24.0 26.5 24.0 26.5 24.0 25.8 24.0 25.7 24.0 25.7 24.0 25.4 24.0 25.8 24.0 27.6 24.0 26.0 24.0 26.0 24.0 26.0 24.0 196.4" stroke-linejoin="round"/><path d="M196,1490.6 C197,1490.6 200,1490.6 202,1490.7 C204,1490.7 206,1490.8 208,1490.8 C210,1490.9 212,1491 214,1491 C216,1491.1 218,1491.2 220,1491.3 C222,1491.4 224,1491.5 226,1491.7 C228,1491.8 230,1491.9 232,1492 C234,1492.1 236,1492.3 238,1492.4 C240,1492.5 242,1492.7 244,1492.8 C246,1492.9 248,1493.1 250,1493.2 C252,1493.4 254,1493.5 256,1493.7 C258,1493.9 260,1494.1 262,1494.3 C264,1494.5 266,1494.7 268,1494.9 C270,1495.2 272,1495.5 274,1495.7 C276,1496 278,1496.3 280,1496.6 C282,1496.9 284,1497.2 286,1497.6 C288,1497.9 290,1498.3 292,1498.8 C294,1499.2 296,1499.7 298,1500.2 C300,1500.7 302,1501.2 304,1501.7 C306,1502.3 308,1502.8 310,1503.4 C312,1503.9 314,1504.5 316,1505.1 C318,1505.6 320,1506.2 322,1506.8 C324,1507.4 326,1508 328,1508.6 C330,1509.2 332,1509.8 334,1510.4 C336,1510.9 338,1511.5 340,1512.1 C342,1512.6 344,1513.2 346,1513.7 C348,1514.2 350,1514.7 352,1515.2 C354,1515.7 356,1516.2 358,1516.7 C360,1517.2 362,1517.7 364,1518.1 C366,1518.6 368,1519 370,1519.4 C372,1519.8 374,1520.2 376,1520.6 C378,1521 380,1521.4 382,1521.8 C384,1522.1 386,1522.5 388,1522.8 C390,1523 392,1523.3 394,1523.5 C396,1523.6 398,1523.8 400,1523.9 C402,1524.1 404,1524.2 406,1524.3 C408,1524.4 410,1524.5 412,1524.6 C414,1524.7 416,1524.8 418,1524.9 C420,1525 422,1525.1 424,1525.1 C426,1525.2 428,1525.3 430,1525.4 C432,1525.5 434,1525.5 436,1525.5 C438,1525.6 440,1525.6 442,1525.6 C444,1525.5 446,1525.5 448,1525.4 C450,1525.3 452,1525.2 454,1525.1 C456,1524.9 458,1524.8 460,1524.5 C462,1524.3 464,1523.9 466,1523.6 C468,1523.3 470,1522.8 472,1522.4 C474,1522.1 476,1521.6 478,1521.2 C480,1520.9 482,1520.5 484,1520.2 C486,1519.9 488,1519.6 490,1519.4 C492,1519.1 494,1519 496,1518.8 C498,1518.6 500,1518.4 502,1518.2 C504,1518 506,1517.8 508,1517.5 C510,1517.2 512,1516.8 514,1516.4 C516,1516 518,1515.5 520,1515 C522,1514.5 524,1513.9 526,1513.4 C528,1512.9 530,1512.4 532,1511.9 C534,1511.5 536,1511.1 538,1510.7 C540,1510.3 542,1510 544,1509.7 C546,1509.4 548,1509.2 550,1508.9 C552,1508.6 554,1508.3 556,1508 C558,1507.7 560,1507.4 562,1507.1 C564,1506.7 566,1506.3 568,1506 C570,1505.6 572,1505.2 574,1504.8 C576,1504.4 578,1504 580,1503.7 C582,1503.4 584,1503 586,1502.8 C588,1502.5 590,1502.2 592,1502 C594,1501.8 596,1501.6 598,1501.4 C600,1501.2 602,1501 604,1500.8 C606,1500.6 608,1500.3 610,1500.1 C612,1499.8 614,1499.5 616,1499.2 C618,1498.9 620,1498.5 622,1498.2 C624,1497.8 626,1497.5 628,1497.1 C630,1496.8 632,1496.5 634,1496.2 C636,1496 638,1495.7 640,1495.5 C642,1495.3 644,1495.2 646,1495.1 C648,1494.9 650,1494.8 652,1494.7 C654,1494.5 656,1494.3 658,1494.1 C660,1493.8 662,1493.5 664,1493.2 C666,1492.8 668,1492.3 670,1491.9 C672,1491.5 674,1491 676,1490.5 C678,1490 680,1489.5 682,1489.1 C684,1488.6 686,1488.2 688,1487.8 C690,1487.4 692,1487 694,1486.7 C696,1486.3 698,1486 700,1485.6 C702,1485.1 704,1484.7 706,1484.2 C708,1483.7 710,1483.1 712,1482.5 C714,1481.9 716,1481.1 718,1480.4 C720,1479.6 722,1478.8 724,1478.1 C726,1477.3 728,1476.5 730,1475.7 C732,1474.9 734,1474.1 736,1473.4 C738,1472.6 740,1471.8 742,1471.1 C744,1470.3 746,1469.5 748,1468.7 C750,1467.8 752,1467 754,1466.1 C756,1465.2 758,1464.2 760,1463.2 C762,1462.3 764,1461.2 766,1460.2 C768,1459.2 770,1458.1 772,1457.1 C774,1456.1 776,1455.1 778,1454.1 C780,1453.2 782,1452.2 784,1451.3 C786,1450.4 788,1449.5 790,1448.6 C792,1447.7 794,1446.7 796,1445.8 C798,1444.8 800,1443.8 802,1442.7 C804,1441.7 806,1440.6 808,1439.5 C810,1438.4 812,1437.3 814,1436.3 C816,1435.2 818,1434.1 820,1433.1 C822,1432.1 824,1431.1 826,1430.2 C828,1429.3 830,1428.5 832,1427.7 C834,1426.8 836,1426 838,1425.2 C840,1424.4 842,1423.7 844,1422.9 C846,1422.1 848,1421.4 850,1420.7 C852,1419.9 854,1419.2 856,1418.5 C858,1417.8 860,1417.1 862,1416.4 C864,1415.8 866,1415.1 868,1414.6 C870,1414 872,1413.5 874,1413.1 C876,1412.6 878,1412.3 880,1411.9 C882,1411.6 884,1411.2 886,1411 C888,1410.7 890,1410.5 892,1410.3 C894,1410.2 896,1410.1 898,1410.1 C900,1410.1 902,1410.2 904,1410.2 C906,1410.3 908,1410.4 910,1410.5 C912,1410.6 914,1410.7 916,1410.9 C918,1411.1 920,1411.2 922,1411.5 C924,1411.8 926,1412.1 928,1412.5 C930,1412.8 932,1413.2 934,1413.7 C936,1414.2 938,1414.6 940,1415.2 C942,1415.8 944,1416.4 946,1417 C948,1417.7 950,1418.4 952,1419.2 C954,1419.9 956,1420.7 958,1421.5 C960,1422.3 962,1423.1 964,1423.9 C966,1424.8 968,1425.7 970,1426.6 C972,1427.5 974,1428.5 976,1429.5 C978,1430.5 980,1431.6 982,1432.7 C984,1433.8 986,1434.9 988,1436.2 C990,1437.4 992,1438.7 994,1440 C996,1441.3 998,1442.7 1000,1444.1 C1002,1445.4 1004,1446.8 1006,1448.1 C1008,1449.4 1010,1450.6 1012,1451.8 C1014,1453.1 1016,1454.2 1018,1455.4 C1020,1456.5 1022,1457.6 1024,1458.8 C1026,1459.9 1028,1461.1 1030,1462.3 C1032,1463.5 1034,1464.7 1036,1465.9 C1038,1467.2 1040,1468.4 1042,1469.7 C1044,1470.9 1046,1472.2 1048,1473.4 C1050,1474.6 1052,1475.8 1054,1476.9 C1056,1478.1 1058,1479.2 1060,1480.3 C1062,1481.5 1064,1482.5 1066,1483.6 C1068,1484.7 1070,1485.7 1072,1486.7 C1074,1487.7 1076,1488.6 1078,1489.5 C1080,1490.4 1082,1491.3 1084,1492.1 C1086,1493 1088,1493.8 1090,1494.6 C1092,1495.4 1094,1496.2 1096,1497 C1098,1497.7 1100,1498.4 1102,1499.1 C1104,1499.8 1106,1500.4 1108,1501 C1110,1501.7 1112,1502.3 1114,1502.8 C1116,1503.3 1118,1503.8 1120,1504.2 C1122,1504.5 1124,1504.8 1126,1505 C1128,1505.2 1130,1505.3 1132,1505.4 C1134,1505.6 1136,1505.6 1138,1505.7 C1140,1505.8 1142,1505.8 1144,1505.9 C1146,1506 1148,1506.1 1150,1506.1 C1152,1506.2 1154,1506.3 1156,1506.3 C1158,1506.4 1160,1506.5 1162,1506.5 C1164,1506.5 1166,1506.5 1168,1506.5 C1170,1506.4 1172,1506.2 1174,1506 C1176,1505.7 1178,1505.4 1180,1505 C1182,1504.6 1184,1504.1 1186,1503.6 C1188,1503.1 1190,1502.6 1192,1502.1 C1194,1501.7 1196,1501.2 1198,1500.7 C1200,1500.2 1202,1499.8 1204,1499.4 C1206,1498.9 1208,1498.5 1210,1498 C1212,1497.6 1214,1497.2 1216,1496.7 C1218,1496.3 1220,1495.9 1222,1495.4 C1224,1494.9 1226,1494.4 1228,1494 C1230,1493.5 1232,1493 1234,1492.5 C1236,1492 1238,1491.5 1240,1491 C1242,1490.5 1244,1490 1246,1489.5 C1248,1489.1 1250,1488.6 1252,1488.1 C1254,1487.7 1256,1487.3 1258,1486.8 C1260,1486.4 1262,1486 1264,1485.6 C1266,1485.2 1268,1484.8 1270,1484.5 C1272,1484.2 1274,1483.9 1276,1483.7 C1278,1483.4 1280,1483.2 1282,1483 C1284,1482.8 1286,1482.6 1288,1482.4 C1290,1482.3 1292,1482.1 1294,1482 C1296,1481.9 1298,1481.8 1300,1481.7 C1302,1481.7 1304,1481.6 1306,1481.6 C1308,1481.6 1310,1481.6 1312,1481.7 C1314,1481.8 1316,1481.9 1318,1482.1 C1320,1482.3 1322,1482.6 1324,1483 C1326,1483.4 1328,1483.8 1330,1484.3 C1332,1484.8 1334,1485.4 1336,1485.9 C1338,1486.4 1340,1487 1342,1487.6 C1344,1488.2 1346,1488.8 1348,1489.4 C1350,1490 1352,1490.6 1354,1491.3 C1356,1492 1358,1492.6 1360,1493.4 C1362,1494.1 1364,1494.9 1366,1495.8 C1368,1496.7 1370,1497.6 1372,1498.7 C1374,1499.7 1376,1500.9 1378,1502 C1380,1503.2 1382,1504.3 1384,1505.6 C1386,1506.8 1388,1508 1390,1509.3 C1392,1510.6 1394,1511.9 1396,1513.3 C1398,1514.6 1400,1516 1402,1517.5 C1404,1518.9 1406,1520.5 1408,1522 C1410,1523.6 1412,1525.3 1414,1527 C1416,1528.6 1418,1530.4 1420,1532.1 C1422,1533.8 1424,1535.5 1426,1537.2 C1428,1538.8 1430,1540.5 1432,1542.1 C1434,1543.8 1436,1545.4 1438,1547 C1440,1548.7 1442,1550.4 1444,1552.1 C1446,1553.9 1448,1555.7 1450,1557.6 C1452,1559.4 1454,1561.4 1456,1563.3 C1458,1565.2 1460,1567.2 1462,1569.1 C1464,1571.1 1466,1573 1468,1575 C1470,1576.9 1472,1578.9 1474,1580.8 C1476,1582.8 1478,1584.7 1480,1586.6 C1482,1588.6 1484,1590.5 1486,1592.4 C1488,1594.3 1490,1596.2 1492,1598.1 C1494,1600 1496,1601.9 1498,1603.8 C1500,1605.7 1502,1607.6 1504,1609.5 C1506,1611.4 1508,1613.3 1510,1615.2 C1512,1617 1514,1618.9 1516,1620.6 C1518,1622.4 1520,1624.1 1522,1625.7 C1524,1627.3 1526,1628.8 1528,1630.4 C1530,1631.9 1532,1633.4 1534,1634.8 C1536,1636.3 1538,1637.8 1540,1639.3 C1542,1640.7 1544,1642.2 1546,1643.7 C1548,1645.1 1550,1646.6 1552,1648.1 C1554,1649.5 1556,1650.9 1558,1652.4 C1560,1653.8 1562,1655.2 1564,1656.6 C1566,1658 1568,1659.4 1570,1660.7 C1572,1662 1574,1663.4 1576,1664.6 C1578,1665.8 1580,1667 1582,1668 C1584,1669.1 1586,1670 1588,1670.9 C1590,1671.8 1592,1672.6 1594,1673.5 C1596,1674.3 1598,1675 1600,1675.8 C1602,1676.6 1604,1677.3 1606,1678 C1608,1678.7 1610,1679.4 1612,1680.1 C1614,1680.8 1616,1681.5 1618,1682.2 C1620,1682.9 1622,1683.5 1624,1684.2 C1626,1684.9 1628,1685.5 1630,1686.2 C1632,1686.9 1634,1687.5 1636,1688.2 C1638,1688.8 1640,1689.5 1642,1690.1 C1644,1690.7 1646,1691.3 1648,1691.8 C1650,1692.3 1652,1692.8 1654,1693.1 C1656,1693.5 1658,1693.8 1660,1694 C1662,1694.3 1664,1694.5 1666,1694.7 C1668,1694.9 1670,1695.1 1672,1695.3 C1674,1695.4 1676,1695.6 1678,1695.8 C1680,1696 1682,1696.1 1684,1696.3 C1686,1696.5 1688,1696.6 1690,1696.8 C1692,1696.9 1694,1697.1 1696,1697.2 C1698,1697.3 1700,1697.4 1702,1697.5 C1704,1697.6 1706,1697.7 1708,1697.7 C1710,1697.8 1712,1697.8 1714,1697.8 C1716,1697.9 1718,1697.9 1720,1697.9 C1722,1697.9 1724,1697.9 1726,1698 C1728,1698 1730,1698 1732,1698 C1734,1698.1 1736,1698.1 1738,1698.1 C1740,1698.1 1742,1698.2 1744,1698.2 C1746,1698.2 1748,1698.2 1750,1698.2 C1752,1698.3 1754,1698.3 1756,1698.3 C1758,1698.3 1760,1698.4 1762,1698.4 C1764,1698.4 1766,1698.4 1768,1698.4 C1770,1698.5 1772,1698.5 1774,1698.5 C1776,1698.5 1778,1698.6 1780,1698.6 C1782,1698.6 1784,1698.6 1786,1698.6 C1788,1698.7 1790,1698.7 1792,1698.7 C1794,1698.7 1796,1698.8 1798,1698.8 C1800,1698.8 1802,1698.8 1804,1698.9 C1806,1698.9 1808,1698.9 1810,1698.9 C1812,1698.9 1814.8,1699 1816,1699 C1817.2,1699 1816.8,1699 1817,1699" fill="none" stroke="#f0006e" stroke-width="5.3" stroke-dasharray="18.6 26.0 24.0 25.5 24.0 27.0 24.0 27.8 24.0 25.3 24.0 24.4 24.0 26.0 24.0 25.9 24.0 28.3 24.0 25.9 24.0 26.1 24.0 24.5 24.0 26.9 24.0 25.8 24.0 28.1 24.0 23.6 24.0 23.2 24.0 29.0 24.0 26.3 24.0 27.4 24.0 25.8 24.0 26.5 24.0 25.8 24.0 24.7 24.0 24.8 24.0 23.8 24.0 24.9 24.0 28.5 24.0 26.9 24.0 26.5 24.0 27.2 24.0 27.6 24.0 26.0 24.0 26.0 24.0 213.6" stroke-linejoin="round"/><path d="M196,1312.4 C197,1312.5 200,1312.7 202,1313 C204,1313.2 206,1313.5 208,1313.7 C210,1314 212,1314.3 214,1314.5 C216,1314.8 218,1315 220,1315.2 C222,1315.5 224,1315.7 226,1315.9 C228,1316.1 230,1316.3 232,1316.5 C234,1316.7 236,1316.9 238,1317.1 C240,1317.3 242,1317.4 244,1317.7 C246,1317.9 248,1318.1 250,1318.4 C252,1318.6 254,1318.9 256,1319.3 C258,1319.7 260,1320.2 262,1320.7 C264,1321.3 266,1321.9 268,1322.5 C270,1323.1 272,1323.8 274,1324.5 C276,1325.1 278,1325.8 280,1326.5 C282,1327.2 284,1327.9 286,1328.7 C288,1329.4 290,1330.1 292,1330.8 C294,1331.6 296,1332.4 298,1333.2 C300,1334 302,1334.8 304,1335.6 C306,1336.5 308,1337.4 310,1338.3 C312,1339.2 314,1340.1 316,1341.1 C318,1342 320,1342.9 322,1343.8 C324,1344.8 326,1345.7 328,1346.6 C330,1347.5 332,1348.5 334,1349.4 C336,1350.3 338,1351.2 340,1352.1 C342,1353.1 344,1354 346,1354.9 C348,1355.8 350,1356.7 352,1357.5 C354,1358.4 356,1359.2 358,1360 C360,1360.8 362,1361.5 364,1362.2 C366,1362.9 368,1363.6 370,1364.2 C372,1364.9 374,1365.5 376,1366.2 C378,1366.8 380,1367.4 382,1368 C384,1368.6 386,1369.2 388,1369.8 C390,1370.4 392,1371 394,1371.6 C396,1372.2 398,1372.8 400,1373.4 C402,1373.9 404,1374.5 406,1375.1 C408,1375.7 410,1376.3 412,1376.8 C414,1377.2 416,1377.7 418,1378 C420,1378.4 422,1378.6 424,1378.7 C426,1378.8 428,1378.7 430,1378.6 C432,1378.5 434,1378.3 436,1378.2 C438,1378.1 440,1377.9 442,1377.8 C444,1377.6 446,1377.5 448,1377.4 C450,1377.3 452,1377.2 454,1377.1 C456,1377 458,1376.9 460,1376.7 C462,1376.6 464,1376.4 466,1376.2 C468,1376 470,1375.6 472,1375.3 C474,1374.9 476,1374.4 478,1374 C480,1373.5 482,1373 484,1372.4 C486,1371.9 488,1371.4 490,1370.9 C492,1370.3 494,1369.8 496,1369.3 C498,1368.8 500,1368.2 502,1367.7 C504,1367.2 506,1366.7 508,1366.1 C510,1365.6 512,1365.1 514,1364.6 C516,1364 518,1363.5 520,1363 C522,1362.4 524,1361.9 526,1361.4 C528,1360.9 530,1360.3 532,1359.8 C534,1359.3 536,1358.7 538,1358.2 C540,1357.7 542,1357.1 544,1356.6 C546,1356.1 548,1355.6 550,1355.1 C552,1354.5 554,1354 556,1353.6 C558,1353.1 560,1352.6 562,1352.1 C564,1351.7 566,1351.2 568,1350.7 C570,1350.3 572,1349.8 574,1349.3 C576,1348.9 578,1348.4 580,1348 C582,1347.5 584,1347 586,1346.6 C588,1346.1 590,1345.7 592,1345.2 C594,1344.8 596,1344.4 598,1343.9 C600,1343.5 602,1343.1 604,1342.7 C606,1342.3 608,1341.8 610,1341.5 C612,1341.1 614,1340.8 616,1340.5 C618,1340.2 620,1339.9 622,1339.6 C624,1339.4 626,1339.1 628,1338.9 C630,1338.6 632,1338.4 634,1338.1 C636,1337.8 638,1337.4 640,1337 C642,1336.6 644,1336.2 646,1335.7 C648,1335.2 650,1334.7 652,1334.2 C654,1333.7 656,1333.2 658,1332.7 C660,1332.2 662,1331.7 664,1331.1 C666,1330.6 668,1330.1 670,1329.5 C672,1328.9 674,1328.3 676,1327.5 C678,1326.8 680,1326 682,1325.2 C684,1324.3 686,1323.4 688,1322.4 C690,1321.5 692,1320.5 694,1319.5 C696,1318.4 698,1317.3 700,1316.2 C702,1315.1 704,1314 706,1312.8 C708,1311.6 710,1310.4 712,1309.2 C714,1308 716,1306.8 718,1305.5 C720,1304.3 722,1303 724,1301.7 C726,1300.5 728,1299.2 730,1297.9 C732,1296.6 734,1295.3 736,1294 C738,1292.6 740,1291.3 742,1290 C744,1288.6 746,1287.2 748,1285.6 C750,1284.1 752,1282.4 754,1280.7 C756,1278.9 758,1277 760,1275.1 C762,1273.2 764,1271.3 766,1269.3 C768,1267.3 770,1265.3 772,1263.2 C774,1261.2 776,1259.2 778,1257.2 C780,1255.2 782,1253.3 784,1251.4 C786,1249.5 788,1247.8 790,1246 C792,1244.3 794,1242.6 796,1240.9 C798,1239.2 800,1237.6 802,1235.9 C804,1234.2 806,1232.6 808,1230.8 C810,1229 812,1227.1 814,1225.2 C816,1223.3 818,1221.2 820,1219.2 C822,1217.2 824,1215.1 826,1213.1 C828,1211.1 830,1209.2 832,1207.3 C834,1205.5 836,1203.7 838,1202 C840,1200.3 842,1198.6 844,1197.1 C846,1195.6 848,1194.2 850,1193 C852,1191.7 854,1190.6 856,1189.6 C858,1188.5 860,1187.6 862,1186.6 C864,1185.7 866,1184.8 868,1183.9 C870,1182.9 872,1182 874,1181.2 C876,1180.3 878,1179.4 880,1178.7 C882,1177.9 884,1177.3 886,1176.8 C888,1176.3 890,1175.9 892,1175.7 C894,1175.4 896,1175.3 898,1175.2 C900,1175.1 902,1175 904,1175 C906,1175 908,1175 910,1175.2 C912,1175.3 914,1175.5 916,1175.7 C918,1176 920,1176.3 922,1176.7 C924,1177.1 926,1177.5 928,1178.1 C930,1178.8 932,1179.5 934,1180.4 C936,1181.3 938,1182.5 940,1183.6 C942,1184.8 944,1186.1 946,1187.4 C948,1188.7 950,1190 952,1191.3 C954,1192.7 956,1194.1 958,1195.5 C960,1197 962,1198.6 964,1200.3 C966,1201.9 968,1203.7 970,1205.6 C972,1207.4 974,1209.3 976,1211.3 C978,1213.3 980,1215.3 982,1217.3 C984,1219.4 986,1221.4 988,1223.5 C990,1225.6 992,1227.7 994,1229.8 C996,1231.9 998,1234 1000,1236.1 C1002,1238.2 1004,1240.3 1006,1242.4 C1008,1244.5 1010,1246.6 1012,1248.8 C1014,1250.9 1016,1253.1 1018,1255.3 C1020,1257.5 1022,1259.8 1024,1262.2 C1026,1264.5 1028,1266.9 1030,1269.3 C1032,1271.6 1034,1274 1036,1276.4 C1038,1278.8 1040,1281.1 1042,1283.4 C1044,1285.7 1046,1288 1048,1290.2 C1050,1292.4 1052,1294.5 1054,1296.6 C1056,1298.7 1058,1300.6 1060,1302.6 C1062,1304.5 1064,1306.4 1066,1308.2 C1068,1310.1 1070,1311.9 1072,1313.8 C1074,1315.6 1076,1317.4 1078,1319.2 C1080,1320.9 1082,1322.6 1084,1324.3 C1086,1325.9 1088,1327.5 1090,1329 C1092,1330.5 1094,1331.9 1096,1333.3 C1098,1334.7 1100,1336 1102,1337.2 C1104,1338.4 1106,1339.5 1108,1340.5 C1110,1341.6 1112,1342.5 1114,1343.4 C1116,1344.3 1118,1345.2 1120,1345.9 C1122,1346.7 1124,1347.4 1126,1348 C1128,1348.6 1130,1349.1 1132,1349.5 C1134,1349.9 1136,1350.2 1138,1350.5 C1140,1350.8 1142,1351.1 1144,1351.3 C1146,1351.6 1148,1351.9 1150,1352.1 C1152,1352.3 1154,1352.6 1156,1352.8 C1158,1353 1160,1353.2 1162,1353.2 C1164,1353.3 1166,1353.2 1168,1353.1 C1170,1352.9 1172,1352.5 1174,1352.2 C1176,1351.8 1178,1351.3 1180,1350.8 C1182,1350.4 1184,1349.8 1186,1349.3 C1188,1348.7 1190,1348.1 1192,1347.4 C1194,1346.8 1196,1346.1 1198,1345.4 C1200,1344.7 1202,1344 1204,1343.3 C1206,1342.6 1208,1341.8 1210,1341.1 C1212,1340.3 1214,1339.6 1216,1338.9 C1218,1338.1 1220,1337.3 1222,1336.6 C1224,1335.8 1226,1335.1 1228,1334.3 C1230,1333.5 1232,1332.8 1234,1332 C1236,1331.3 1238,1330.5 1240,1329.8 C1242,1329 1244,1328.3 1246,1327.6 C1248,1326.9 1250,1326.2 1252,1325.6 C1254,1324.9 1256,1324.3 1258,1323.7 C1260,1323 1262,1322.4 1264,1321.9 C1266,1321.3 1268,1320.8 1270,1320.3 C1272,1319.8 1274,1319.4 1276,1319 C1278,1318.6 1280,1318.3 1282,1318 C1284,1317.7 1286,1317.4 1288,1317.2 C1290,1317 1292,1316.8 1294,1316.7 C1296,1316.7 1298,1316.7 1300,1316.8 C1302,1317 1304,1317.2 1306,1317.4 C1308,1317.7 1310,1318 1312,1318.3 C1314,1318.5 1316,1318.8 1318,1319.1 C1320,1319.5 1322,1319.7 1324,1320.1 C1326,1320.5 1328,1320.8 1330,1321.4 C1332,1321.9 1334,1322.5 1336,1323.3 C1338,1324 1340,1324.9 1342,1325.9 C1344,1326.8 1346,1327.9 1348,1329 C1350,1330.1 1352,1331.3 1354,1332.5 C1356,1333.7 1358,1335 1360,1336.4 C1362,1337.8 1364,1339.2 1366,1340.7 C1368,1342.2 1370,1343.8 1372,1345.5 C1374,1347.3 1376,1349.2 1378,1351.1 C1380,1353.1 1382,1355.2 1384,1357.3 C1386,1359.4 1388,1361.5 1390,1363.7 C1392,1365.9 1394,1368.1 1396,1370.4 C1398,1372.7 1400,1375.1 1402,1377.5 C1404,1380 1406,1382.6 1408,1385.2 C1410,1387.8 1412,1390.5 1414,1393.2 C1416,1395.9 1418,1398.7 1420,1401.5 C1422,1404.4 1424,1407.2 1426,1410.2 C1428,1413.1 1430,1416.2 1432,1419.3 C1434,1422.4 1436,1425.6 1438,1428.8 C1440,1432 1442,1435.2 1444,1438.5 C1446,1441.7 1448,1444.9 1450,1448.1 C1452,1451.3 1454,1454.5 1456,1457.7 C1458,1460.9 1460,1464.2 1462,1467.5 C1464,1470.8 1466,1474.2 1468,1477.6 C1470,1481 1472,1484.5 1474,1487.8 C1476,1491.2 1478,1494.5 1480,1497.8 C1482,1501 1484,1504.3 1486,1507.5 C1488,1510.7 1490,1513.9 1492,1517.1 C1494,1520.4 1496,1523.6 1498,1526.8 C1500,1530.1 1502,1533.3 1504,1536.5 C1506,1539.8 1508,1543 1510,1546.2 C1512,1549.3 1514,1552.5 1516,1555.6 C1518,1558.6 1520,1561.7 1522,1564.6 C1524,1567.5 1526,1570.3 1528,1573.1 C1530,1575.8 1532,1578.5 1534,1581.3 C1536,1584 1538,1586.7 1540,1589.4 C1542,1592.2 1544,1595 1546,1597.7 C1548,1600.5 1550,1603.3 1552,1605.9 C1554,1608.6 1556,1611.2 1558,1613.5 C1560,1615.9 1562,1618.1 1564,1620.3 C1566,1622.4 1568,1624.4 1570,1626.4 C1572,1628.4 1574,1630.3 1576,1632.2 C1578,1634.1 1580,1635.9 1582,1637.7 C1584,1639.6 1586,1641.4 1588,1643.2 C1590,1645 1592,1646.9 1594,1648.6 C1596,1650.4 1598,1652.2 1600,1653.8 C1602,1655.5 1604,1657.1 1606,1658.7 C1608,1660.2 1610,1661.6 1612,1663 C1614,1664.5 1616,1665.8 1618,1667.1 C1620,1668.4 1622,1669.6 1624,1670.7 C1626,1671.8 1628,1672.8 1630,1673.8 C1632,1674.8 1634,1675.7 1636,1676.6 C1638,1677.5 1640,1678.4 1642,1679.2 C1644,1680.1 1646,1680.9 1648,1681.7 C1650,1682.5 1652,1683.2 1654,1684 C1656,1684.8 1658,1685.5 1660,1686.2 C1662,1687 1664,1687.7 1666,1688.4 C1668,1689.2 1670,1689.9 1672,1690.6 C1674,1691.3 1676,1692 1678,1692.6 C1680,1693.2 1682,1693.8 1684,1694.2 C1686,1694.6 1688,1695 1690,1695.3 C1692,1695.6 1694,1695.8 1696,1696 C1698,1696.2 1700,1696.4 1702,1696.6 C1704,1696.8 1706,1697 1708,1697.1 C1710,1697.2 1712,1697.3 1714,1697.4 C1716,1697.5 1718,1697.6 1720,1697.7 C1722,1697.8 1724,1697.9 1726,1697.9 C1728,1698 1730,1698.1 1732,1698.2 C1734,1698.2 1736,1698.3 1738,1698.4 C1740,1698.4 1742,1698.5 1744,1698.5 C1746,1698.5 1748,1698.5 1750,1698.6 C1752,1698.6 1754,1698.6 1756,1698.6 C1758,1698.6 1760,1698.6 1762,1698.6 C1764,1698.7 1766,1698.7 1768,1698.7 C1770,1698.7 1772,1698.7 1774,1698.7 C1776,1698.7 1778,1698.7 1780,1698.8 C1782,1698.8 1784,1698.8 1786,1698.8 C1788,1698.8 1790,1698.8 1792,1698.8 C1794,1698.9 1796,1698.9 1798,1698.9 C1800,1698.9 1802,1698.9 1804,1698.9 C1806,1698.9 1808,1698.9 1810,1699 C1812,1699 1814.8,1699 1816,1699 C1817.2,1699 1816.8,1699 1817,1699" fill="none" stroke="#000" stroke-width="8" stroke-dasharray="0.5 20.0 40.0 20.0 7.5 20.0 39.2 20.0 7.5 20.0 41.0 20.0 7.5 20.0 39.5 20.0 7.5 20.0 40.1 20.0 7.5 20.0 38.1 20.0 7.5 20.0 39.1 20.0 7.5 20.0 36.5 20.0 7.5 20.0 44.7 20.0 7.5 20.0 32.6 20.0 7.5 20.0 38.6 20.0 7.5 20.0 43.2 20.0 7.5 20.0 40.9 20.0 7.5 20.0 41.0 20.0 7.5 20.0 37.7 20.0 7.5 20.0 37.6 20.0 7.5 20.0 40.7 20.0 7.5 20.0 42.0 20.0 7.5 20.0 37.5 20.0 7.5 20.0 39.7 20.0 7.5 20.0 41.8 20.0 7.5 20.0 40.0 20.0 7.5 20.0 40.0 158.6" stroke-linejoin="round"/><path d="M196,1167.6 V1705.2 M172.5,1702.7 H1817 M1004.5,1168.6 V1702.7 M172.5,1550.7 H196 M172.5,1398.6 H196 M172.5,1246.6 H196 M183,1626.7 H196 M183,1474.7 H196 M183,1322.6 H196 M183,1170.6 H196 M221.5,1702.7 V1725.7 M482.5,1702.7 V1725.7 M743.5,1702.7 V1725.7 M1004.5,1702.7 V1725.7 M1265.5,1702.7 V1725.7 M1526.5,1702.7 V1725.7 M1787.5,1702.7 V1725.7 M352,1702.7 V1714.7 M613,1702.7 V1714.7 M874,1702.7 V1714.7 M1135,1702.7 V1714.7 M1396,1702.7 V1714.7 M1657,1702.7 V1714.7" fill="none" stroke="#000" stroke-width="5"/><text x="158.5" y="1717.2" font-size="46" text-anchor="end">0</text><text x="158.5" y="1565.2" font-size="46" text-anchor="end">10</text><text x="158.5" y="1413.1" font-size="46" text-anchor="end">20</text><text x="158.5" y="1261.1" font-size="46" text-anchor="end">30</text><text x="233.4" y="1301.3" font-size="47">total</text><text x="233.4" y="1462.7" font-size="47" letter-spacing="0.6">d orbitals</text><text x="233.9" y="1544.7" font-size="47" letter-spacing="0.6">p orbitals</text><text x="233.4" y="1636.8" font-size="47" letter-spacing="0.6">s orbitals</text></g>
<g><path d="M196,2239.7 C197,2239.7 200,2239.7 202,2239.7 C204,2239.7 206,2239.7 208,2239.7 C210,2239.7 212,2239.6 214,2239.6 C216,2239.5 218,2239.5 220,2239.4 C222,2239.3 224,2239.2 226,2239.1 C228,2239 230,2238.9 232,2238.9 C234,2238.8 236,2238.7 238,2238.6 C240,2238.6 242,2238.5 244,2238.5 C246,2238.4 248,2238.4 250,2238.4 C252,2238.4 254,2238.4 256,2238.4 C258,2238.3 260,2238.3 262,2238.2 C264,2238.2 266,2238.1 268,2237.9 C270,2237.8 272,2237.6 274,2237.5 C276,2237.3 278,2237.1 280,2237 C282,2236.8 284,2236.6 286,2236.5 C288,2236.3 290,2236.2 292,2236.1 C294,2235.9 296,2235.8 298,2235.7 C300,2235.6 302,2235.6 304,2235.5 C306,2235.4 308,2235.3 310,2235.2 C312,2235.1 314,2234.9 316,2234.7 C318,2234.6 320,2234.3 322,2234.1 C324,2233.9 326,2233.6 328,2233.3 C330,2233.1 332,2232.8 334,2232.6 C336,2232.3 338,2232.1 340,2231.9 C342,2231.7 344,2231.5 346,2231.3 C348,2231.2 350,2231 352,2230.9 C354,2230.7 356,2230.6 358,2230.4 C360,2230.3 362,2230.1 364,2229.9 C366,2229.7 368,2229.5 370,2229.3 C372,2229.1 374,2228.8 376,2228.6 C378,2228.4 380,2228.1 382,2227.9 C384,2227.6 386,2227.4 388,2227.2 C390,2226.9 392,2226.7 394,2226.5 C396,2226.3 398,2226.2 400,2226 C402,2225.8 404,2225.7 406,2225.5 C408,2225.4 410,2225.3 412,2225.1 C414,2225 416,2224.8 418,2224.7 C420,2224.6 422,2224.5 424,2224.3 C426,2224.2 428,2224.1 430,2224 C432,2223.9 434,2223.7 436,2223.6 C438,2223.5 440,2223.4 442,2223.3 C444,2223.2 446,2223.2 448,2223.1 C450,2223 452,2222.9 454,2222.8 C456,2222.8 458,2222.7 460,2222.6 C462,2222.5 464,2222.4 466,2222.3 C468,2222.2 470,2222.1 472,2222 C474,2221.9 476,2221.8 478,2221.6 C480,2221.5 482,2221.4 484,2221.3 C486,2221.2 488,2221.1 490,2221 C492,2221 494,2220.9 496,2220.9 C498,2220.8 500,2220.8 502,2220.8 C504,2220.8 506,2220.8 508,2220.8 C510,2220.8 512,2220.8 514,2220.9 C516,2220.9 518,2220.9 520,2221 C522,2221 524,2221.1 526,2221.1 C528,2221.2 530,2221.2 532,2221.3 C534,2221.3 536,2221.3 538,2221.4 C540,2221.4 542,2221.4 544,2221.5 C546,2221.5 548,2221.5 550,2221.5 C552,2221.5 554,2221.5 556,2221.5 C558,2221.6 560,2221.6 562,2221.6 C564,2221.7 566,2221.8 568,2221.9 C570,2222 572,2222.1 574,2222.2 C576,2222.3 578,2222.5 580,2222.6 C582,2222.7 584,2222.8 586,2222.9 C588,2223.1 590,2223.2 592,2223.2 C594,2223.3 596,2223.4 598,2223.5 C600,2223.5 602,2223.6 604,2223.7 C606,2223.7 608,2223.8 610,2223.9 C612,2224 614,2224.1 616,2224.2 C618,2224.3 620,2224.5 622,2224.6 C624,2224.7 626,2224.8 628,2225 C630,2225.1 632,2225.2 634,2225.4 C636,2225.5 638,2225.6 640,2225.8 C642,2225.9 644,2226 646,2226.1 C648,2226.2 650,2226.3 652,2226.4 C654,2226.5 656,2226.6 658,2226.7 C660,2226.7 662,2226.8 664,2226.8 C666,2226.9 668,2226.9 670,2226.9 C672,2227 674,2227 676,2227.1 C678,2227.1 680,2227.1 682,2227.2 C684,2227.2 686,2227.3 688,2227.3 C690,2227.3 692,2227.4 694,2227.4 C696,2227.4 698,2227.5 700,2227.5 C702,2227.5 704,2227.6 706,2227.6 C708,2227.6 710,2227.6 712,2227.6 C714,2227.6 716,2227.6 718,2227.6 C720,2227.6 722,2227.6 724,2227.6 C726,2227.6 728,2227.6 730,2227.6 C732,2227.6 734,2227.6 736,2227.6 C738,2227.6 740,2227.6 742,2227.6 C744,2227.6 746,2227.6 748,2227.6 C750,2227.6 752,2227.6 754,2227.6 C756,2227.5 758,2227.5 760,2227.5 C762,2227.5 764,2227.5 766,2227.4 C768,2227.4 770,2227.4 772,2227.4 C774,2227.3 776,2227.3 778,2227.3 C780,2227.3 782,2227.2 784,2227.2 C786,2227.2 788,2227.2 790,2227.1 C792,2227.1 794,2227.1 796,2227.1 C798,2227 800,2227 802,2227 C804,2226.9 806,2226.9 808,2226.9 C810,2226.8 812,2226.8 814,2226.7 C816,2226.7 818,2226.6 820,2226.6 C822,2226.5 824,2226.5 826,2226.4 C828,2226.4 830,2226.3 832,2226.3 C834,2226.2 836,2226.2 838,2226.2 C840,2226.1 842,2226.1 844,2226 C846,2226 848,2225.9 850,2225.9 C852,2225.8 854,2225.8 856,2225.8 C858,2225.7 860,2225.7 862,2225.7 C864,2225.6 866,2225.6 868,2225.6 C870,2225.5 872,2225.5 874,2225.5 C876,2225.4 878,2225.4 880,2225.4 C882,2225.3 884,2225.3 886,2225.3 C888,2225.2 890,2225.2 892,2225.2 C894,2225.1 896,2225.1 898,2225.1 C900,2225.1 902,2225.1 904,2225.1 C906,2225.1 908,2225.1 910,2225.1 C912,2225.2 914,2225.2 916,2225.2 C918,2225.3 920,2225.3 922,2225.3 C924,2225.4 926,2225.4 928,2225.4 C930,2225.4 932,2225.5 934,2225.5 C936,2225.5 938,2225.6 940,2225.6 C942,2225.6 944,2225.7 946,2225.7 C948,2225.7 950,2225.8 952,2225.8 C954,2225.8 956,2225.9 958,2225.9 C960,2226 962,2226 964,2226 C966,2226.1 968,2226.1 970,2226.2 C972,2226.2 974,2226.2 976,2226.3 C978,2226.3 980,2226.4 982,2226.4 C984,2226.4 986,2226.5 988,2226.5 C990,2226.6 992,2226.6 994,2226.6 C996,2226.7 998,2226.7 1000,2226.8 C1002,2226.8 1004,2226.8 1006,2226.9 C1008,2226.9 1010,2226.9 1012,2227 C1014,2227 1016,2227 1018,2227.1 C1020,2227.1 1022,2227.1 1024,2227.2 C1026,2227.2 1028,2227.2 1030,2227.2 C1032,2227.3 1034,2227.3 1036,2227.3 C1038,2227.4 1040,2227.4 1042,2227.4 C1044,2227.5 1046,2227.5 1048,2227.5 C1050,2227.5 1052,2227.6 1054,2227.6 C1056,2227.6 1058,2227.6 1060,2227.6 C1062,2227.6 1064,2227.6 1066,2227.6 C1068,2227.6 1070,2227.6 1072,2227.6 C1074,2227.6 1076,2227.6 1078,2227.6 C1080,2227.6 1082,2227.6 1084,2227.6 C1086,2227.6 1088,2227.6 1090,2227.6 C1092,2227.6 1094,2227.6 1096,2227.6 C1098,2227.6 1100,2227.6 1102,2227.6 C1104,2227.6 1106,2227.6 1108,2227.6 C1110,2227.6 1112,2227.6 1114,2227.6 C1116,2227.6 1118,2227.6 1120,2227.6 C1122,2227.6 1124,2227.6 1126,2227.6 C1128,2227.6 1130,2227.6 1132,2227.6 C1134,2227.6 1136,2227.6 1138,2227.6 C1140,2227.6 1142,2227.6 1144,2227.6 C1146,2227.6 1148,2227.6 1150,2227.6 C1152,2227.6 1154,2227.6 1156,2227.5 C1158,2227.5 1160,2227.5 1162,2227.5 C1164,2227.5 1166,2227.4 1168,2227.4 C1170,2227.4 1172,2227.4 1174,2227.3 C1176,2227.3 1178,2227.3 1180,2227.3 C1182,2227.2 1184,2227.2 1186,2227.2 C1188,2227.2 1190,2227.1 1192,2227.1 C1194,2227.1 1196,2227.1 1198,2227.1 C1200,2227.2 1202,2227.2 1204,2227.3 C1206,2227.4 1208,2227.5 1210,2227.6 C1212,2227.7 1214,2227.8 1216,2228 C1218,2228.1 1220,2228.3 1222,2228.4 C1224,2228.5 1226,2228.7 1228,2228.8 C1230,2229 1232,2229.1 1234,2229.2 C1236,2229.4 1238,2229.5 1240,2229.7 C1242,2229.8 1244,2229.9 1246,2230.1 C1248,2230.2 1250,2230.4 1252,2230.5 C1254,2230.7 1256,2230.8 1258,2231 C1260,2231.2 1262,2231.3 1264,2231.5 C1266,2231.6 1268,2231.8 1270,2232 C1272,2232.1 1274,2232.3 1276,2232.5 C1278,2232.6 1280,2232.8 1282,2233 C1284,2233.1 1286,2233.3 1288,2233.5 C1290,2233.6 1292,2233.8 1294,2234 C1296,2234.1 1298,2234.3 1300,2234.5 C1302,2234.7 1304,2234.9 1306,2235.1 C1308,2235.3 1310,2235.6 1312,2235.8 C1314,2236 1316,2236.3 1318,2236.5 C1320,2236.7 1322,2237 1324,2237.2 C1326,2237.4 1328,2237.7 1330,2237.9 C1332,2238.2 1334,2238.4 1336,2238.6 C1338,2238.9 1340,2239.1 1342,2239.3 C1344,2239.6 1346,2239.8 1348,2240 C1350,2240.3 1352,2240.5 1354,2240.8 C1356,2241 1358,2241.2 1360,2241.5 C1362,2241.7 1364,2241.9 1366,2242.2 C1368,2242.4 1370,2242.6 1372,2242.9 C1374,2243.1 1376,2243.4 1378,2243.6 C1380,2243.8 1382,2244.1 1384,2244.3 C1386,2244.5 1388,2244.8 1390,2245 C1392,2245.2 1394,2245.5 1396,2245.7 C1398,2245.9 1400,2246.2 1402,2246.4 C1404,2246.6 1406,2246.8 1408,2247.1 C1410,2247.4 1412,2247.6 1414,2248 C1416,2248.3 1418,2248.7 1420,2249.1 C1422,2249.4 1424,2249.9 1426,2250.3 C1428,2250.7 1430,2251.1 1432,2251.5 C1434,2252 1436,2252.4 1438,2252.8 C1440,2253.2 1442,2253.7 1444,2254 C1446,2254.4 1448,2254.8 1450,2255.1 C1452,2255.4 1454,2255.7 1456,2255.9 C1458,2256.2 1460,2256.4 1462,2256.6 C1464,2256.8 1466,2256.9 1468,2257.1 C1470,2257.3 1472,2257.5 1474,2257.7 C1476,2257.8 1478,2258 1480,2258.2 C1482,2258.4 1484,2258.6 1486,2258.7 C1488,2258.9 1490,2259.1 1492,2259.3 C1494,2259.4 1496,2259.6 1498,2259.7 C1500,2259.8 1502,2259.9 1504,2260 C1506,2260.1 1508,2260.1 1510,2260.2 C1512,2260.2 1514,2260.3 1516,2260.3 C1518,2260.4 1520,2260.4 1522,2260.4 C1524,2260.5 1526,2260.5 1528,2260.6 C1530,2260.6 1532,2260.6 1534,2260.7 C1536,2260.7 1538,2260.8 1540,2260.8 C1542,2260.8 1544,2260.9 1546,2260.9 C1548,2260.9 1550,2260.9 1552,2261 C1554,2261 1556,2261 1558,2261 C1560,2261 1562,2261 1564,2261 C1566,2261 1568,2261 1570,2261 C1572,2261 1574,2261 1576,2261 C1578,2261 1580,2261 1582,2261 C1584,2261 1586,2261 1588,2261 C1590,2261 1592,2261 1594,2261 C1596,2261 1598,2261 1600,2261 C1602,2261 1604,2261 1606,2261 C1608,2261 1610,2261 1612,2261 C1614,2261 1616,2261 1618,2261 C1620,2261 1622,2261 1624,2261 C1626,2261 1628,2261 1630,2261 C1632,2261 1634,2261 1636,2261 C1638,2261 1640,2261 1642,2261 C1644,2261 1646,2261 1648,2261 C1650,2261 1652,2261 1654,2261 C1656,2261 1658,2261 1660,2261 C1662,2261 1664,2261 1666,2261 C1668,2261 1670,2261 1672,2261 C1674,2261 1676,2261 1678,2261 C1680,2261 1682,2261 1684,2261 C1686,2261 1688,2261 1690,2261 C1692,2261 1694,2261 1696,2261 C1698,2261 1700,2261 1702,2261 C1704,2261 1706,2261 1708,2261 C1710,2261 1712,2261 1714,2261 C1716,2261 1718,2261 1720,2261 C1722,2261 1724,2261 1726,2261 C1728,2261 1730,2261 1732,2261 C1734,2261 1736,2261 1738,2261 C1740,2261 1742,2261 1744,2261 C1746,2261 1748,2261 1750,2261 C1752,2261 1754,2261 1756,2261 C1758,2261 1760,2261 1762,2261 C1764,2261 1766,2261 1768,2261 C1770,2261 1772,2261 1774,2261 C1776,2261 1778,2261 1780,2261 C1782,2261 1784,2261 1786,2261 C1788,2261 1790,2261 1792,2261 C1794,2261 1796,2261 1798,2261 C1800,2261 1802,2261 1804,2261 C1806,2261 1808,2261 1810,2261 C1812,2261 1814.8,2261 1816,2261 C1817.2,2261 1816.8,2261 1817,2261" fill="none" stroke="#007800" stroke-width="5.3" stroke-dasharray="18.5 26.0 24.0 27.8 24.0 25.4 24.0 26.7 24.0 25.3 24.0 26.6 24.0 25.2 24.0 26.4 24.0 25.4 24.0 26.4 24.0 25.2 24.0 26.5 24.0 26.5 24.0 25.0 24.0 26.6 24.0 25.2 24.0 26.6 24.0 25.2 24.0 26.4 24.0 26.5 24.0 25.3 24.0 26.6 24.0 25.5 24.0 25.5 24.0 27.2 24.0 25.5 24.0 26.0 24.0 26.0 24.0 26.0 24.0 26.0 24.0 26.0 24.0 26.0 24.0 204.9" stroke-linejoin="round"/><path d="M196,2155.2 C197,2155.2 200,2155.2 202,2155.2 C204,2155.2 206,2155.2 208,2155.2 C210,2155.2 212,2155.1 214,2155.1 C216,2155 218,2155 220,2154.9 C222,2154.8 224,2154.7 226,2154.6 C228,2154.5 230,2154.4 232,2154.4 C234,2154.3 236,2154.2 238,2154.1 C240,2154.1 242,2154 244,2154 C246,2153.9 248,2153.9 250,2153.9 C252,2153.9 254,2153.9 256,2153.9 C258,2153.8 260,2153.8 262,2153.8 C264,2153.7 266,2153.6 268,2153.5 C270,2153.4 272,2153.3 274,2153.2 C276,2153 278,2152.9 280,2152.8 C282,2152.6 284,2152.5 286,2152.3 C288,2152.2 290,2152.1 292,2152 C294,2151.9 296,2151.8 298,2151.7 C300,2151.6 302,2151.5 304,2151.4 C306,2151.2 308,2151.1 310,2151 C312,2150.8 314,2150.6 316,2150.4 C318,2150.1 320,2149.8 322,2149.4 C324,2149.1 326,2148.7 328,2148.3 C330,2148 332,2147.6 334,2147.2 C336,2146.8 338,2146.5 340,2146.1 C342,2145.8 344,2145.5 346,2145.2 C348,2144.8 350,2144.6 352,2144.3 C354,2144 356,2143.7 358,2143.4 C360,2143.1 362,2142.7 364,2142.4 C366,2142 368,2141.6 370,2141.2 C372,2140.8 374,2140.4 376,2139.9 C378,2139.5 380,2139.1 382,2138.6 C384,2138.2 386,2137.8 388,2137.3 C390,2136.9 392,2136.5 394,2136.1 C396,2135.7 398,2135.3 400,2134.9 C402,2134.5 404,2134.2 406,2133.8 C408,2133.3 410,2132.9 412,2132.5 C414,2132 416,2131.5 418,2131 C420,2130.5 422,2129.9 424,2129.4 C426,2128.8 428,2128.3 430,2127.7 C432,2127.2 434,2126.6 436,2126 C438,2125.5 440,2124.9 442,2124.3 C444,2123.8 446,2123.2 448,2122.7 C450,2122.1 452,2121.5 454,2121 C456,2120.5 458,2119.9 460,2119.4 C462,2118.9 464,2118.5 466,2118 C468,2117.6 470,2117.1 472,2116.7 C474,2116.3 476,2115.9 478,2115.5 C480,2115.1 482,2114.7 484,2114.3 C486,2113.9 488,2113.5 490,2113.1 C492,2112.7 494,2112.3 496,2111.9 C498,2111.5 500,2111.1 502,2110.7 C504,2110.3 506,2109.9 508,2109.5 C510,2109.1 512,2108.7 514,2108.3 C516,2107.9 518,2107.5 520,2107.1 C522,2106.7 524,2106.3 526,2105.9 C528,2105.5 530,2105.2 532,2104.8 C534,2104.5 536,2104.2 538,2104 C540,2103.8 542,2103.6 544,2103.5 C546,2103.4 548,2103.3 550,2103.2 C552,2103.2 554,2103.1 556,2103.1 C558,2103 560,2103 562,2103 C564,2102.9 566,2102.9 568,2102.9 C570,2102.9 572,2102.9 574,2102.9 C576,2102.9 578,2102.9 580,2102.9 C582,2102.9 584,2102.9 586,2103 C588,2103 590,2103 592,2103 C594,2103.1 596,2103.1 598,2103.2 C600,2103.3 602,2103.3 604,2103.4 C606,2103.5 608,2103.7 610,2103.9 C612,2104.1 614,2104.4 616,2104.7 C618,2105 620,2105.4 622,2105.8 C624,2106.1 626,2106.6 628,2107 C630,2107.4 632,2107.8 634,2108.2 C636,2108.6 638,2109 640,2109.4 C642,2109.8 644,2110.2 646,2110.6 C648,2111 650,2111.4 652,2111.8 C654,2112.2 656,2112.6 658,2113 C660,2113.3 662,2113.7 664,2114.1 C666,2114.4 668,2114.8 670,2115.1 C672,2115.5 674,2115.8 676,2116.2 C678,2116.5 680,2116.9 682,2117.2 C684,2117.5 686,2117.8 688,2118.1 C690,2118.4 692,2118.7 694,2118.9 C696,2119.2 698,2119.5 700,2119.7 C702,2120 704,2120.2 706,2120.5 C708,2120.8 710,2121.1 712,2121.4 C714,2121.7 716,2122.1 718,2122.4 C720,2122.7 722,2123.1 724,2123.4 C726,2123.8 728,2124.1 730,2124.4 C732,2124.8 734,2125.1 736,2125.3 C738,2125.6 740,2125.8 742,2126 C744,2126.2 746,2126.3 748,2126.5 C750,2126.6 752,2126.8 754,2126.9 C756,2127.1 758,2127.2 760,2127.4 C762,2127.5 764,2127.7 766,2127.8 C768,2127.9 770,2128.1 772,2128.2 C774,2128.3 776,2128.5 778,2128.6 C780,2128.7 782,2128.8 784,2128.9 C786,2129 788,2129.1 790,2129.1 C792,2129.1 794,2129.2 796,2129.2 C798,2129.2 800,2129.2 802,2129.2 C804,2129.1 806,2129.1 808,2129 C810,2129 812,2128.9 814,2128.8 C816,2128.7 818,2128.6 820,2128.5 C822,2128.3 824,2128.2 826,2128.1 C828,2128 830,2127.8 832,2127.7 C834,2127.6 836,2127.5 838,2127.4 C840,2127.3 842,2127.3 844,2127.2 C846,2127.1 848,2127.1 850,2127 C852,2126.9 854,2126.8 856,2126.7 C858,2126.6 860,2126.4 862,2126.3 C864,2126.1 866,2125.9 868,2125.6 C870,2125.4 872,2125.1 874,2124.9 C876,2124.6 878,2124.4 880,2124.1 C882,2123.9 884,2123.7 886,2123.4 C888,2123.2 890,2123 892,2122.8 C894,2122.5 896,2122.4 898,2122.2 C900,2122 902,2121.8 904,2121.6 C906,2121.4 908,2121.2 910,2121 C912,2120.8 914,2120.6 916,2120.4 C918,2120.3 920,2120.1 922,2119.9 C924,2119.7 926,2119.5 928,2119.4 C930,2119.2 932,2119 934,2118.9 C936,2118.8 938,2118.8 940,2118.7 C942,2118.6 944,2118.6 946,2118.6 C948,2118.6 950,2118.6 952,2118.5 C954,2118.5 956,2118.4 958,2118.3 C960,2118.2 962,2118 964,2117.7 C966,2117.5 968,2117.1 970,2116.8 C972,2116.4 974,2116 976,2115.7 C978,2115.3 980,2115 982,2114.7 C984,2114.4 986,2114.1 988,2114 C990,2113.8 992,2113.7 994,2113.6 C996,2113.5 998,2113.5 1000,2113.5 C1002,2113.4 1004,2113.4 1006,2113.4 C1008,2113.3 1010,2113.2 1012,2113.1 C1014,2113 1016,2112.8 1018,2112.7 C1020,2112.5 1022,2112.3 1024,2112.2 C1026,2112 1028,2111.8 1030,2111.7 C1032,2111.5 1034,2111.4 1036,2111.3 C1038,2111.2 1040,2111.1 1042,2111.1 C1044,2111 1046,2111 1048,2111 C1050,2111 1052,2111 1054,2111 C1056,2110.9 1058,2110.9 1060,2110.9 C1062,2110.8 1064,2110.8 1066,2110.7 C1068,2110.6 1070,2110.5 1072,2110.5 C1074,2110.4 1076,2110.3 1078,2110.2 C1080,2110.1 1082,2110.1 1084,2110 C1086,2110 1088,2110 1090,2110 C1092,2110 1094,2110.1 1096,2110.1 C1098,2110.1 1100,2110.2 1102,2110.2 C1104,2110.3 1106,2110.3 1108,2110.3 C1110,2110.3 1112,2110.3 1114,2110.3 C1116,2110.3 1118,2110.3 1120,2110.2 C1122,2110.2 1124,2110.1 1126,2110.1 C1128,2110 1130,2110 1132,2110 C1134,2110 1136,2110 1138,2110 C1140,2110 1142,2110 1144,2110.1 C1146,2110.1 1148,2110.2 1150,2110.2 C1152,2110.3 1154,2110.3 1156,2110.4 C1158,2110.4 1160,2110.5 1162,2110.5 C1164,2110.6 1166,2110.6 1168,2110.7 C1170,2110.7 1172,2110.7 1174,2110.8 C1176,2110.8 1178,2110.9 1180,2110.9 C1182,2110.9 1184,2111 1186,2111 C1188,2111.1 1190,2111.1 1192,2111.1 C1194,2111.2 1196,2111.2 1198,2111.3 C1200,2111.3 1202,2111.4 1204,2111.4 C1206,2111.5 1208,2111.5 1210,2111.5 C1212,2111.6 1214,2111.7 1216,2111.7 C1218,2111.8 1220,2111.8 1222,2111.9 C1224,2112 1226,2112 1228,2112.1 C1230,2112.2 1232,2112.3 1234,2112.4 C1236,2112.5 1238,2112.6 1240,2112.8 C1242,2113 1244,2113.2 1246,2113.4 C1248,2113.6 1250,2113.8 1252,2114 C1254,2114.2 1256,2114.4 1258,2114.6 C1260,2114.8 1262,2115 1264,2115.2 C1266,2115.4 1268,2115.6 1270,2115.8 C1272,2116 1274,2116.2 1276,2116.4 C1278,2116.6 1280,2116.8 1282,2117.1 C1284,2117.3 1286,2117.6 1288,2117.9 C1290,2118.1 1292,2118.4 1294,2118.7 C1296,2119 1298,2119.4 1300,2119.7 C1302,2120 1304,2120.3 1306,2120.6 C1308,2120.9 1310,2121.2 1312,2121.5 C1314,2121.9 1316,2122.2 1318,2122.5 C1320,2122.8 1322,2123.1 1324,2123.4 C1326,2123.8 1328,2124.1 1330,2124.5 C1332,2124.9 1334,2125.3 1336,2125.8 C1338,2126.3 1340,2126.9 1342,2127.5 C1344,2128.1 1346,2128.7 1348,2129.3 C1350,2130 1352,2130.6 1354,2131.3 C1356,2131.9 1358,2132.6 1360,2133.2 C1362,2133.9 1364,2134.6 1366,2135.3 C1368,2136 1370,2136.7 1372,2137.4 C1374,2138.1 1376,2138.9 1378,2139.7 C1380,2140.5 1382,2141.4 1384,2142.3 C1386,2143.3 1388,2144.3 1390,2145.3 C1392,2146.4 1394,2147.5 1396,2148.6 C1398,2149.6 1400,2150.7 1402,2151.8 C1404,2152.9 1406,2153.9 1408,2154.9 C1410,2156 1412,2157 1414,2158 C1416,2159 1418,2160 1420,2161 C1422,2162.1 1424,2163.1 1426,2164.1 C1428,2165.1 1430,2166.1 1432,2167.1 C1434,2168.2 1436,2169.2 1438,2170.2 C1440,2171.3 1442,2172.3 1444,2173.5 C1446,2174.6 1448,2175.8 1450,2177.1 C1452,2178.3 1454,2179.7 1456,2181 C1458,2182.3 1460,2183.7 1462,2185 C1464,2186.4 1466,2187.7 1468,2188.9 C1470,2190.2 1472,2191.4 1474,2192.6 C1476,2193.8 1478,2194.9 1480,2196 C1482,2197.2 1484,2198.3 1486,2199.5 C1488,2200.6 1490,2201.8 1492,2203 C1494,2204.2 1496,2205.4 1498,2206.5 C1500,2207.7 1502,2209 1504,2210.1 C1506,2211.3 1508,2212.5 1510,2213.7 C1512,2214.8 1514,2215.9 1516,2217 C1518,2218.1 1520,2219.2 1522,2220.3 C1524,2221.3 1526,2222.4 1528,2223.4 C1530,2224.4 1532,2225.3 1534,2226.3 C1536,2227.2 1538,2228.1 1540,2229 C1542,2229.9 1544,2230.8 1546,2231.6 C1548,2232.5 1550,2233.4 1552,2234.2 C1554,2235 1556,2235.8 1558,2236.7 C1560,2237.5 1562,2238.2 1564,2239 C1566,2239.8 1568,2240.5 1570,2241.3 C1572,2242 1574,2242.7 1576,2243.4 C1578,2244 1580,2244.7 1582,2245.3 C1584,2245.9 1586,2246.4 1588,2246.9 C1590,2247.5 1592,2248 1594,2248.5 C1596,2249 1598,2249.5 1600,2250 C1602,2250.5 1604,2250.9 1606,2251.4 C1608,2251.9 1610,2252.3 1612,2252.8 C1614,2253.2 1616,2253.7 1618,2254.1 C1620,2254.5 1622,2254.9 1624,2255.3 C1626,2255.7 1628,2256 1630,2256.3 C1632,2256.6 1634,2256.8 1636,2257.1 C1638,2257.3 1640,2257.5 1642,2257.7 C1644,2257.8 1646,2258 1648,2258.2 C1650,2258.4 1652,2258.5 1654,2258.7 C1656,2258.8 1658,2259 1660,2259.1 C1662,2259.3 1664,2259.4 1666,2259.5 C1668,2259.7 1670,2259.8 1672,2259.9 C1674,2260 1676,2260.1 1678,2260.1 C1680,2260.2 1682,2260.3 1684,2260.3 C1686,2260.3 1688,2260.3 1690,2260.4 C1692,2260.4 1694,2260.4 1696,2260.4 C1698,2260.4 1700,2260.4 1702,2260.4 C1704,2260.4 1706,2260.4 1708,2260.5 C1710,2260.5 1712,2260.5 1714,2260.5 C1716,2260.5 1718,2260.5 1720,2260.5 C1722,2260.5 1724,2260.5 1726,2260.5 C1728,2260.6 1730,2260.6 1732,2260.6 C1734,2260.6 1736,2260.6 1738,2260.6 C1740,2260.6 1742,2260.6 1744,2260.6 C1746,2260.6 1748,2260.7 1750,2260.7 C1752,2260.7 1754,2260.7 1756,2260.7 C1758,2260.7 1760,2260.7 1762,2260.7 C1764,2260.7 1766,2260.7 1768,2260.8 C1770,2260.8 1772,2260.8 1774,2260.8 C1776,2260.8 1778,2260.8 1780,2260.8 C1782,2260.8 1784,2260.8 1786,2260.8 C1788,2260.9 1790,2260.9 1792,2260.9 C1794,2260.9 1796,2260.9 1798,2260.9 C1800,2260.9 1802,2260.9 1804,2260.9 C1806,2260.9 1808,2261 1810,2261 C1812,2261 1814.8,2261 1816,2261 C1817.2,2261 1816.8,2261 1817,2261" fill="none" stroke="#000080" stroke-width="5.3" stroke-dasharray="18.5 26.0 24.0 27.8 24.0 25.6 24.0 26.1 24.0 26.5 24.0 25.4 24.0 27.3 24.0 25.2 24.0 27.0 24.0 26.0 24.0 25.8 24.0 26.6 24.0 25.2 24.0 27.9 24.0 24.1 24.0 28.0 24.0 25.5 24.0 25.2 24.0 26.4 24.0 25.2 24.0 26.5 24.0 25.4 24.0 26.0 24.0 26.6 24.0 25.7 24.0 24.4 24.0 27.0 24.0 26.3 24.0 27.3 24.0 27.0 24.0 26.0 24.0 26.0 24.0 26.0 24.0 186.2" stroke-linejoin="round"/><path d="M196,2088.9 C197,2088.9 200,2089 202,2089.1 C204,2089.1 206,2089.2 208,2089.2 C210,2089.3 212,2089.3 214,2089.3 C216,2089.3 218,2089.2 220,2089.1 C222,2089.1 224,2088.9 226,2088.8 C228,2088.7 230,2088.5 232,2088.4 C234,2088.3 236,2088.2 238,2088.1 C240,2088 242,2087.9 244,2087.9 C246,2087.8 248,2087.8 250,2087.8 C252,2087.8 254,2087.8 256,2087.8 C258,2087.7 260,2087.7 262,2087.6 C264,2087.5 266,2087.3 268,2087.2 C270,2087 272,2086.8 274,2086.6 C276,2086.3 278,2086.1 280,2085.9 C282,2085.6 284,2085.4 286,2085.2 C288,2085 290,2084.8 292,2084.6 C294,2084.4 296,2084.3 298,2084.2 C300,2084 302,2083.9 304,2083.8 C306,2083.7 308,2083.5 310,2083.3 C312,2083.2 314,2082.9 316,2082.7 C318,2082.4 320,2082.1 322,2081.7 C324,2081.4 326,2081 328,2080.7 C330,2080.3 332,2079.9 334,2079.6 C336,2079.3 338,2079 340,2078.7 C342,2078.4 344,2078.2 346,2078.1 C348,2077.9 350,2077.8 352,2077.6 C354,2077.5 356,2077.4 358,2077.2 C360,2077 362,2076.9 364,2076.6 C366,2076.4 368,2076.1 370,2075.7 C372,2075.4 374,2075.1 376,2074.7 C378,2074.3 380,2073.9 382,2073.5 C384,2073.1 386,2072.8 388,2072.3 C390,2071.9 392,2071.5 394,2071.1 C396,2070.7 398,2070.2 400,2069.8 C402,2069.3 404,2068.9 406,2068.4 C408,2068 410,2067.5 412,2067.1 C414,2066.6 416,2066.1 418,2065.6 C420,2065.2 422,2064.7 424,2064.2 C426,2063.7 428,2063.2 430,2062.7 C432,2062.1 434,2061.6 436,2061 C438,2060.5 440,2059.9 442,2059.2 C444,2058.6 446,2057.9 448,2057.2 C450,2056.5 452,2055.8 454,2055.2 C456,2054.5 458,2053.8 460,2053.2 C462,2052.5 464,2051.9 466,2051.3 C468,2050.7 470,2050.1 472,2049.5 C474,2048.9 476,2048.3 478,2047.7 C480,2047.1 482,2046.5 484,2045.9 C486,2045.3 488,2044.7 490,2044.1 C492,2043.5 494,2042.8 496,2042.2 C498,2041.6 500,2041 502,2040.3 C504,2039.7 506,2039.1 508,2038.5 C510,2037.9 512,2037.4 514,2036.8 C516,2036.2 518,2035.7 520,2035.2 C522,2034.6 524,2034.1 526,2033.6 C528,2033.1 530,2032.6 532,2032.2 C534,2031.9 536,2031.5 538,2031.2 C540,2030.9 542,2030.7 544,2030.4 C546,2030.2 548,2030 550,2029.8 C552,2029.6 554,2029.4 556,2029.2 C558,2029 560,2028.9 562,2028.7 C564,2028.6 566,2028.5 568,2028.3 C570,2028.2 572,2028.1 574,2028 C576,2027.9 578,2027.8 580,2027.7 C582,2027.7 584,2027.7 586,2027.7 C588,2027.8 590,2027.9 592,2028 C594,2028.2 596,2028.3 598,2028.5 C600,2028.7 602,2028.9 604,2029.1 C606,2029.3 608,2029.5 610,2029.8 C612,2030 614,2030.3 616,2030.6 C618,2030.9 620,2031.2 622,2031.5 C624,2031.8 626,2032.1 628,2032.5 C630,2032.8 632,2033.2 634,2033.6 C636,2034 638,2034.4 640,2034.9 C642,2035.3 644,2035.8 646,2036.3 C648,2036.8 650,2037.4 652,2037.9 C654,2038.4 656,2039 658,2039.5 C660,2040.1 662,2040.7 664,2041.3 C666,2041.8 668,2042.5 670,2043 C672,2043.6 674,2044.2 676,2044.8 C678,2045.4 680,2045.9 682,2046.4 C684,2046.9 686,2047.4 688,2047.9 C690,2048.3 692,2048.7 694,2049.1 C696,2049.6 698,2050 700,2050.4 C702,2050.8 704,2051.2 706,2051.6 C708,2052 710,2052.5 712,2052.9 C714,2053.3 716,2053.7 718,2054.1 C720,2054.5 722,2054.9 724,2055.3 C726,2055.7 728,2056.2 730,2056.5 C732,2056.9 734,2057.3 736,2057.7 C738,2058.1 740,2058.5 742,2058.8 C744,2059.2 746,2059.6 748,2059.9 C750,2060.3 752,2060.6 754,2060.9 C756,2061.2 758,2061.5 760,2061.8 C762,2062.1 764,2062.3 766,2062.6 C768,2062.8 770,2063.1 772,2063.3 C774,2063.6 776,2063.8 778,2064 C780,2064.3 782,2064.5 784,2064.7 C786,2065 788,2065.2 790,2065.4 C792,2065.6 794,2065.9 796,2066 C798,2066.2 800,2066.4 802,2066.5 C804,2066.6 806,2066.6 808,2066.6 C810,2066.6 812,2066.6 814,2066.6 C816,2066.5 818,2066.5 820,2066.4 C822,2066.4 824,2066.3 826,2066.3 C828,2066.2 830,2066.2 832,2066.2 C834,2066.1 836,2066.1 838,2066.1 C840,2066.1 842,2066.1 844,2066.1 C846,2066 848,2066 850,2065.9 C852,2065.8 854,2065.6 856,2065.4 C858,2065.2 860,2064.9 862,2064.7 C864,2064.4 866,2064.1 868,2063.7 C870,2063.4 872,2063.1 874,2062.7 C876,2062.4 878,2062 880,2061.6 C882,2061.2 884,2060.8 886,2060.4 C888,2059.9 890,2059.5 892,2059 C894,2058.5 896,2058.1 898,2057.6 C900,2057.1 902,2056.6 904,2056.2 C906,2055.7 908,2055.2 910,2054.7 C912,2054.2 914,2053.7 916,2053.2 C918,2052.7 920,2052.2 922,2051.8 C924,2051.3 926,2050.8 928,2050.4 C930,2049.9 932,2049.5 934,2049 C936,2048.6 938,2048.2 940,2047.8 C942,2047.4 944,2047 946,2046.5 C948,2046 950,2045.5 952,2045 C954,2044.4 956,2043.8 958,2043.2 C960,2042.5 962,2041.8 964,2041.2 C966,2040.5 968,2039.8 970,2039.1 C972,2038.5 974,2037.8 976,2037.3 C978,2036.7 980,2036.1 982,2035.6 C984,2035.1 986,2034.7 988,2034.2 C990,2033.8 992,2033.3 994,2032.8 C996,2032.4 998,2031.9 1000,2031.4 C1002,2030.8 1004,2030.3 1006,2029.7 C1008,2029.1 1010,2028.5 1012,2027.9 C1014,2027.4 1016,2026.8 1018,2026.2 C1020,2025.6 1022,2025 1024,2024.5 C1026,2024 1028,2023.5 1030,2023 C1032,2022.6 1034,2022.2 1036,2021.7 C1038,2021.3 1040,2020.9 1042,2020.4 C1044,2020 1046,2019.6 1048,2019.1 C1050,2018.7 1052,2018.2 1054,2017.8 C1056,2017.3 1058,2016.9 1060,2016.4 C1062,2015.9 1064,2015.4 1066,2015 C1068,2014.5 1070,2014 1072,2013.6 C1074,2013.1 1076,2012.6 1078,2012.2 C1080,2011.7 1082,2011.2 1084,2010.8 C1086,2010.3 1088,2009.9 1090,2009.5 C1092,2009 1094,2008.6 1096,2008.2 C1098,2007.8 1100,2007.5 1102,2007.1 C1104,2006.8 1106,2006.5 1108,2006.2 C1110,2005.9 1112,2005.6 1114,2005.4 C1116,2005.1 1118,2004.8 1120,2004.5 C1122,2004.3 1124,2004 1126,2003.8 C1128,2003.5 1130,2003.3 1132,2003.1 C1134,2002.8 1136,2002.6 1138,2002.4 C1140,2002.2 1142,2002 1144,2001.8 C1146,2001.5 1148,2001.3 1150,2001.1 C1152,2000.9 1154,2000.8 1156,2000.6 C1158,2000.4 1160,2000.2 1162,2000 C1164,1999.8 1166,1999.7 1168,1999.5 C1170,1999.3 1172,1999.2 1174,1999.1 C1176,1999 1178,1998.9 1180,1998.9 C1182,1998.8 1184,1998.8 1186,1998.8 C1188,1998.8 1190,1998.8 1192,1998.8 C1194,1998.8 1196,1998.8 1198,1998.8 C1200,1998.8 1202,1998.8 1204,1998.8 C1206,1998.8 1208,1998.8 1210,1998.8 C1212,1998.8 1214,1998.8 1216,1998.8 C1218,1998.8 1220,1998.8 1222,1998.9 C1224,1998.9 1226,1999 1228,1999.1 C1230,1999.2 1232,1999.3 1234,1999.4 C1236,1999.6 1238,1999.7 1240,1999.9 C1242,2000 1244,2000.2 1246,2000.4 C1248,2000.6 1250,2000.8 1252,2001 C1254,2001.2 1256,2001.5 1258,2001.7 C1260,2001.9 1262,2002.2 1264,2002.4 C1266,2002.7 1268,2003 1270,2003.3 C1272,2003.5 1274,2003.9 1276,2004.2 C1278,2004.5 1280,2004.9 1282,2005.3 C1284,2005.7 1286,2006.1 1288,2006.5 C1290,2007 1292,2007.4 1294,2007.9 C1296,2008.4 1298,2008.9 1300,2009.5 C1302,2010.1 1304,2010.7 1306,2011.3 C1308,2011.9 1310,2012.6 1312,2013.2 C1314,2013.9 1316,2014.5 1318,2015.2 C1320,2015.9 1322,2016.6 1324,2017.3 C1326,2018 1328,2018.7 1330,2019.5 C1332,2020.2 1334,2021 1336,2021.9 C1338,2022.7 1340,2023.6 1342,2024.5 C1344,2025.4 1346,2026.5 1348,2027.5 C1350,2028.5 1352,2029.6 1354,2030.8 C1356,2031.9 1358,2033 1360,2034.1 C1362,2035.3 1364,2036.5 1366,2037.6 C1368,2038.8 1370,2040 1372,2041.2 C1374,2042.5 1376,2043.7 1378,2045 C1380,2046.2 1382,2047.5 1384,2048.9 C1386,2050.2 1388,2051.6 1390,2053 C1392,2054.4 1394,2055.8 1396,2057.3 C1398,2058.7 1400,2060.2 1402,2061.7 C1404,2063.1 1406,2064.6 1408,2066.1 C1410,2067.6 1412,2069 1414,2070.5 C1416,2072.1 1418,2073.6 1420,2075.3 C1422,2076.9 1424,2078.7 1426,2080.5 C1428,2082.4 1430,2084.4 1432,2086.4 C1434,2088.4 1436,2090.5 1438,2092.5 C1440,2094.5 1442,2096.5 1444,2098.4 C1446,2100.3 1448,2102.2 1450,2104.1 C1452,2105.9 1454,2107.8 1456,2109.7 C1458,2111.6 1460,2113.5 1462,2115.5 C1464,2117.5 1466,2119.6 1468,2121.7 C1470,2123.7 1472,2125.8 1474,2127.9 C1476,2129.9 1478,2131.9 1480,2133.8 C1482,2135.7 1484,2137.6 1486,2139.4 C1488,2141.3 1490,2143.1 1492,2145 C1494,2146.9 1496,2148.8 1498,2150.7 C1500,2152.7 1502,2154.8 1504,2156.8 C1506,2158.9 1508,2161 1510,2163 C1512,2165.1 1514,2167.1 1516,2169.1 C1518,2171.2 1520,2173.1 1522,2175.1 C1524,2177 1526,2178.9 1528,2180.7 C1530,2182.5 1532,2184.3 1534,2186 C1536,2187.6 1538,2189.2 1540,2190.8 C1542,2192.4 1544,2194 1546,2195.5 C1548,2197 1550,2198.5 1552,2200 C1554,2201.5 1556,2203 1558,2204.5 C1560,2206 1562,2207.5 1564,2208.9 C1566,2210.3 1568,2211.7 1570,2213.1 C1572,2214.4 1574,2215.7 1576,2217 C1578,2218.2 1580,2219.4 1582,2220.6 C1584,2221.7 1586,2222.9 1588,2224 C1590,2225.1 1592,2226.2 1594,2227.3 C1596,2228.4 1598,2229.6 1600,2230.7 C1602,2231.8 1604,2232.9 1606,2234 C1608,2235.1 1610,2236.3 1612,2237.3 C1614,2238.4 1616,2239.4 1618,2240.3 C1620,2241.2 1622,2242.1 1624,2242.8 C1626,2243.6 1628,2244.3 1630,2245 C1632,2245.7 1634,2246.4 1636,2247 C1638,2247.7 1640,2248.3 1642,2248.9 C1644,2249.5 1646,2250.1 1648,2250.6 C1650,2251.1 1652,2251.6 1654,2252.1 C1656,2252.6 1658,2253 1660,2253.4 C1662,2253.9 1664,2254.3 1666,2254.7 C1668,2255 1670,2255.4 1672,2255.7 C1674,2256 1676,2256.3 1678,2256.6 C1680,2256.9 1682,2257.1 1684,2257.4 C1686,2257.7 1688,2257.9 1690,2258.2 C1692,2258.4 1694,2258.6 1696,2258.8 C1698,2259 1700,2259.2 1702,2259.3 C1704,2259.5 1706,2259.6 1708,2259.7 C1710,2259.8 1712,2259.9 1714,2260 C1716,2260.1 1718,2260.2 1720,2260.2 C1722,2260.3 1724,2260.3 1726,2260.3 C1728,2260.4 1730,2260.4 1732,2260.4 C1734,2260.4 1736,2260.4 1738,2260.4 C1740,2260.5 1742,2260.5 1744,2260.5 C1746,2260.5 1748,2260.5 1750,2260.5 C1752,2260.5 1754,2260.6 1756,2260.6 C1758,2260.6 1760,2260.6 1762,2260.6 C1764,2260.6 1766,2260.6 1768,2260.7 C1770,2260.7 1772,2260.7 1774,2260.7 C1776,2260.7 1778,2260.7 1780,2260.7 C1782,2260.8 1784,2260.8 1786,2260.8 C1788,2260.8 1790,2260.8 1792,2260.8 C1794,2260.8 1796,2260.9 1798,2260.9 C1800,2260.9 1802,2260.9 1804,2260.9 C1806,2260.9 1808,2260.9 1810,2260.9 C1812,2261 1814.8,2261 1816,2261 C1817.2,2261 1816.8,2261 1817,2261" fill="none" stroke="#f0006e" stroke-width="5.3" stroke-dasharray="18.5 26.0 24.0 26.6 24.0 26.9 24.0 25.7 24.0 25.3 24.0 26.2 24.0 24.5 24.0 27.9 24.0 25.6 24.0 25.7 24.0 26.3 24.0 25.8 24.0 25.3 24.0 26.7 24.0 26.5 24.0 25.7 24.0 25.8 24.0 27.8 24.0 26.0 24.0 26.6 24.0 26.5 24.0 25.5 24.0 24.3 24.0 23.6 24.0 26.3 24.0 25.0 24.0 25.4 24.0 27.3 24.0 29.0 24.0 28.3 24.0 26.8 24.0 27.1 24.0 26.0 24.0 26.0 24.0 197.3" stroke-linejoin="round"/><path d="M196,1944.2 C197,1944.4 200,1945 202,1945.5 C204,1946 206,1946.7 208,1947.3 C210,1947.9 212,1948.6 214,1949.2 C216,1949.9 218,1950.5 220,1951.1 C222,1951.8 224,1952.4 226,1952.9 C228,1953.4 230,1953.9 232,1954.3 C234,1954.7 236,1955 238,1955.3 C240,1955.6 242,1955.8 244,1956.1 C246,1956.3 248,1956.5 250,1956.6 C252,1956.7 254,1956.9 256,1956.9 C258,1957 260,1957 262,1957.1 C264,1957.1 266,1957.1 268,1957 C270,1957 272,1957 274,1956.9 C276,1956.7 278,1956.6 280,1956.4 C282,1956.2 284,1955.9 286,1955.6 C288,1955.3 290,1955 292,1954.7 C294,1954.4 296,1954 298,1953.7 C300,1953.4 302,1953.1 304,1952.7 C306,1952.4 308,1952.1 310,1951.7 C312,1951.4 314,1951 316,1950.6 C318,1950.3 320,1949.9 322,1949.5 C324,1949 326,1948.6 328,1948.2 C330,1947.8 332,1947.3 334,1946.9 C336,1946.5 338,1946.1 340,1945.7 C342,1945.4 344,1945 346,1944.6 C348,1944.3 350,1943.9 352,1943.6 C354,1943.2 356,1942.8 358,1942.3 C360,1941.9 362,1941.4 364,1940.8 C366,1940.3 368,1939.6 370,1939 C372,1938.3 374,1937.6 376,1936.9 C378,1936.2 380,1935.5 382,1934.8 C384,1934.1 386,1933.4 388,1932.7 C390,1932 392,1931.3 394,1930.6 C396,1929.9 398,1929.1 400,1928.4 C402,1927.6 404,1926.9 406,1926.1 C408,1925.3 410,1924.5 412,1923.7 C414,1923 416,1922.2 418,1921.3 C420,1920.5 422,1919.7 424,1918.9 C426,1918.1 428,1917.2 430,1916.4 C432,1915.5 434,1914.6 436,1913.7 C438,1912.8 440,1911.9 442,1910.9 C444,1909.9 446,1908.8 448,1907.8 C450,1906.7 452,1905.6 454,1904.5 C456,1903.4 458,1902.3 460,1901.2 C462,1900.1 464,1899 466,1897.9 C468,1896.7 470,1895.6 472,1894.4 C474,1893.1 476,1891.8 478,1890.4 C480,1889 482,1887.5 484,1886 C486,1884.5 488,1882.8 490,1881.3 C492,1879.8 494,1878.3 496,1876.9 C498,1875.5 500,1874.2 502,1872.9 C504,1871.6 506,1870.4 508,1869.2 C510,1868 512,1866.8 514,1865.6 C516,1864.4 518,1863.1 520,1861.9 C522,1860.7 524,1859.4 526,1858.2 C528,1856.9 530,1855.6 532,1854.4 C534,1853.1 536,1851.9 538,1850.6 C540,1849.4 542,1848.1 544,1846.9 C546,1845.6 548,1844.4 550,1843.2 C552,1842.1 554,1840.9 556,1839.8 C558,1838.6 560,1837.5 562,1836.5 C564,1835.4 566,1834.4 568,1833.4 C570,1832.4 572,1831.4 574,1830.5 C576,1829.6 578,1828.8 580,1828 C582,1827.2 584,1826.5 586,1825.8 C588,1825.1 590,1824.4 592,1823.9 C594,1823.4 596,1823.1 598,1822.8 C600,1822.5 602,1822.4 604,1822.3 C606,1822.2 608,1822.2 610,1822.2 C612,1822.2 614,1822.2 616,1822.2 C618,1822.2 620,1822.2 622,1822.2 C624,1822.2 626,1822.2 628,1822.3 C630,1822.3 632,1822.4 634,1822.6 C636,1822.7 638,1823 640,1823.3 C642,1823.6 644,1824 646,1824.4 C648,1824.9 650,1825.4 652,1825.9 C654,1826.5 656,1827.1 658,1827.8 C660,1828.5 662,1829.3 664,1830.1 C666,1831 668,1831.9 670,1832.8 C672,1833.6 674,1834.6 676,1835.4 C678,1836.3 680,1837.2 682,1838.1 C684,1838.9 686,1839.8 688,1840.6 C690,1841.5 692,1842.3 694,1843.1 C696,1844 698,1844.8 700,1845.7 C702,1846.5 704,1847.4 706,1848.2 C708,1849.1 710,1850 712,1850.9 C714,1851.8 716,1852.8 718,1853.8 C720,1854.9 722,1856 724,1857 C726,1858.1 728,1859.3 730,1860.4 C732,1861.5 734,1862.6 736,1863.7 C738,1864.8 740,1865.9 742,1867 C744,1868 746,1869.1 748,1870.1 C750,1871.1 752,1872 754,1872.9 C756,1873.8 758,1874.6 760,1875.4 C762,1876.1 764,1876.8 766,1877.4 C768,1878.1 770,1878.7 772,1879.3 C774,1879.9 776,1880.5 778,1881.1 C780,1881.8 782,1882.4 784,1883 C786,1883.6 788,1884.2 790,1884.7 C792,1885.3 794,1885.9 796,1886.4 C798,1886.9 800,1887.4 802,1887.9 C804,1888.4 806,1888.8 808,1889.2 C810,1889.7 812,1890.1 814,1890.5 C816,1890.8 818,1891.2 820,1891.5 C822,1891.8 824,1892.1 826,1892.3 C828,1892.6 830,1892.8 832,1893 C834,1893.2 836,1893.4 838,1893.5 C840,1893.7 842,1893.8 844,1893.9 C846,1894 848,1894 850,1894.1 C852,1894.1 854,1894.1 856,1894.1 C858,1894.1 860,1894.1 862,1894.1 C864,1894.1 866,1894.1 868,1894.1 C870,1894.1 872,1894.1 874,1894 C876,1893.9 878,1893.9 880,1893.7 C882,1893.5 884,1893.2 886,1892.8 C888,1892.5 890,1892 892,1891.6 C894,1891.1 896,1890.6 898,1890 C900,1889.5 902,1888.9 904,1888.4 C906,1887.8 908,1887.2 910,1886.6 C912,1886.1 914,1885.4 916,1884.8 C918,1884.2 920,1883.6 922,1883 C924,1882.4 926,1881.8 928,1881.1 C930,1880.5 932,1879.9 934,1879.2 C936,1878.6 938,1877.9 940,1877.3 C942,1876.6 944,1876 946,1875.3 C948,1874.7 950,1874 952,1873.4 C954,1872.7 956,1872 958,1871.3 C960,1870.6 962,1869.9 964,1869.1 C966,1868.4 968,1867.5 970,1866.7 C972,1865.9 974,1865 976,1864.1 C978,1863.2 980,1862.3 982,1861.4 C984,1860.5 986,1859.7 988,1858.8 C990,1857.9 992,1857.1 994,1856.2 C996,1855.4 998,1854.6 1000,1853.8 C1002,1852.9 1004,1852.1 1006,1851.3 C1008,1850.5 1010,1849.8 1012,1849 C1014,1848.2 1016,1847.5 1018,1846.8 C1020,1846 1022,1845.3 1024,1844.5 C1026,1843.8 1028,1843 1030,1842.3 C1032,1841.6 1034,1840.8 1036,1840.1 C1038,1839.3 1040,1838.6 1042,1837.9 C1044,1837.2 1046,1836.5 1048,1835.8 C1050,1835.1 1052,1834.4 1054,1833.7 C1056,1833 1058,1832.3 1060,1831.7 C1062,1831.1 1064,1830.4 1066,1829.8 C1068,1829.2 1070,1828.6 1072,1828.1 C1074,1827.5 1076,1827 1078,1826.5 C1080,1826 1082,1825.5 1084,1825 C1086,1824.5 1088,1824 1090,1823.5 C1092,1823 1094,1822.5 1096,1822.1 C1098,1821.6 1100,1821.2 1102,1820.8 C1104,1820.3 1106,1819.9 1108,1819.5 C1110,1819.1 1112,1818.6 1114,1818.2 C1116,1817.8 1118,1817.4 1120,1817 C1122,1816.5 1124,1816.1 1126,1815.8 C1128,1815.4 1130,1815 1132,1814.7 C1134,1814.4 1136,1814.2 1138,1813.9 C1140,1813.6 1142,1813.4 1144,1813.2 C1146,1813 1148,1812.8 1150,1812.6 C1152,1812.4 1154,1812.3 1156,1812.1 C1158,1812 1160,1811.8 1162,1811.7 C1164,1811.6 1166,1811.5 1168,1811.4 C1170,1811.3 1172,1811.2 1174,1811 C1176,1810.9 1178,1810.8 1180,1810.7 C1182,1810.6 1184,1810.5 1186,1810.3 C1188,1810.2 1190,1810.1 1192,1810 C1194,1809.8 1196,1809.7 1198,1809.6 C1200,1809.5 1202,1809.3 1204,1809.2 C1206,1809.1 1208,1808.9 1210,1808.8 C1212,1808.7 1214,1808.6 1216,1808.5 C1218,1808.5 1220,1808.4 1222,1808.4 C1224,1808.3 1226,1808.3 1228,1808.3 C1230,1808.3 1232,1808.3 1234,1808.3 C1236,1808.3 1238,1808.4 1240,1808.4 C1242,1808.5 1244,1808.5 1246,1808.6 C1248,1808.7 1250,1808.8 1252,1808.9 C1254,1809 1256,1809.1 1258,1809.3 C1260,1809.4 1262,1809.6 1264,1809.9 C1266,1810.1 1268,1810.4 1270,1810.7 C1272,1811 1274,1811.4 1276,1811.7 C1278,1812.1 1280,1812.5 1282,1812.9 C1284,1813.3 1286,1813.6 1288,1814 C1290,1814.4 1292,1814.8 1294,1815.2 C1296,1815.6 1298,1816 1300,1816.4 C1302,1816.9 1304,1817.3 1306,1817.8 C1308,1818.3 1310,1818.8 1312,1819.3 C1314,1819.9 1316,1820.4 1318,1821 C1320,1821.6 1322,1822.2 1324,1822.9 C1326,1823.5 1328,1824.3 1330,1825.1 C1332,1825.8 1334,1826.7 1336,1827.6 C1338,1828.5 1340,1829.4 1342,1830.4 C1344,1831.4 1346,1832.4 1348,1833.4 C1350,1834.5 1352,1835.6 1354,1836.8 C1356,1838 1358,1839.2 1360,1840.5 C1362,1841.7 1364,1843 1366,1844.2 C1368,1845.5 1370,1846.8 1372,1848.1 C1374,1849.4 1376,1850.8 1378,1852.2 C1380,1853.7 1382,1855.2 1384,1856.9 C1386,1858.5 1388,1860.2 1390,1862 C1392,1863.8 1394,1865.6 1396,1867.4 C1398,1869.2 1400,1871.1 1402,1873 C1404,1874.8 1406,1876.7 1408,1878.7 C1410,1880.7 1412,1882.7 1414,1884.9 C1416,1887.1 1418,1889.4 1420,1891.8 C1422,1894.1 1424,1896.6 1426,1899.1 C1428,1901.6 1430,1904.1 1432,1906.7 C1434,1909.3 1436,1911.9 1438,1914.7 C1440,1917.4 1442,1920.3 1444,1923.2 C1446,1926.2 1448,1929.3 1450,1932.3 C1452,1935.4 1454,1938.6 1456,1941.7 C1458,1944.9 1460,1948.1 1462,1951.2 C1464,1954.4 1466,1957.7 1468,1960.9 C1470,1964.1 1472,1967.4 1474,1970.7 C1476,1974 1478,1977.3 1480,1980.6 C1482,1984 1484,1987.3 1486,1990.7 C1488,1994.1 1490,1997.5 1492,2001 C1494,2004.4 1496,2007.9 1498,2011.4 C1500,2014.9 1502,2018.4 1504,2021.9 C1506,2025.4 1508,2028.9 1510,2032.3 C1512,2035.6 1514,2039 1516,2042.3 C1518,2045.5 1520,2048.7 1522,2052 C1524,2055.3 1526,2058.5 1528,2061.9 C1530,2065.3 1532,2068.8 1534,2072.3 C1536,2075.9 1538,2079.6 1540,2083.2 C1542,2086.8 1544,2090.4 1546,2093.8 C1548,2097.3 1550,2100.6 1552,2103.8 C1554,2107.1 1556,2110.2 1558,2113.4 C1560,2116.5 1562,2119.6 1564,2122.6 C1566,2125.7 1568,2128.8 1570,2131.8 C1572,2134.9 1574,2138 1576,2141 C1578,2144.1 1580,2147.2 1582,2150.3 C1584,2153.3 1586,2156.4 1588,2159.3 C1590,2162.1 1592,2164.9 1594,2167.6 C1596,2170.2 1598,2172.7 1600,2175.1 C1602,2177.5 1604,2179.8 1606,2182.1 C1608,2184.3 1610,2186.4 1612,2188.6 C1614,2190.7 1616,2192.7 1618,2194.7 C1620,2196.8 1622,2198.7 1624,2200.7 C1626,2202.7 1628,2204.7 1630,2206.6 C1632,2208.6 1634,2210.5 1636,2212.3 C1638,2214.1 1640,2215.9 1642,2217.6 C1644,2219.3 1646,2221 1648,2222.6 C1650,2224.2 1652,2225.7 1654,2227.1 C1656,2228.6 1658,2229.9 1660,2231.1 C1662,2232.3 1664,2233.4 1666,2234.4 C1668,2235.5 1670,2236.4 1672,2237.4 C1674,2238.4 1676,2239.3 1678,2240.2 C1680,2241 1682,2241.8 1684,2242.6 C1686,2243.4 1688,2244.1 1690,2244.9 C1692,2245.6 1694,2246.3 1696,2247 C1698,2247.7 1700,2248.4 1702,2249.1 C1704,2249.8 1706,2250.5 1708,2251.1 C1710,2251.8 1712,2252.4 1714,2253 C1716,2253.6 1718,2254.1 1720,2254.6 C1722,2255.1 1724,2255.5 1726,2256 C1728,2256.4 1730,2256.8 1732,2257.1 C1734,2257.5 1736,2257.9 1738,2258.2 C1740,2258.4 1742,2258.7 1744,2258.9 C1746,2259.1 1748,2259.2 1750,2259.3 C1752,2259.4 1754,2259.5 1756,2259.6 C1758,2259.7 1760,2259.7 1762,2259.8 C1764,2259.9 1766,2260 1768,2260 C1770,2260.1 1772,2260.2 1774,2260.3 C1776,2260.3 1778,2260.4 1780,2260.4 C1782,2260.5 1784,2260.5 1786,2260.6 C1788,2260.6 1790,2260.6 1792,2260.7 C1794,2260.7 1796,2260.7 1798,2260.7 C1800,2260.8 1802,2260.8 1804,2260.8 C1806,2260.8 1808,2260.9 1810,2260.9 C1812,2260.9 1814.8,2260.9 1816,2261 C1817.2,2261 1816.8,2261 1817,2261" fill="none" stroke="#000" stroke-width="8" stroke-dasharray="34.8 20.0 7.5 20.0 39.3 20.0 7.5 20.0 40.1 20.0 7.5 20.0 37.8 20.0 7.5 20.0 41.7 20.0 7.5 20.0 40.4 20.0 7.5 20.0 37.3 20.0 7.5 20.0 40.7 20.0 7.5 20.0 39.1 20.0 7.5 20.0 38.1 20.0 7.5 20.0 41.5 20.0 7.5 20.0 40.6 20.0 7.5 20.0 40.4 20.0 7.5 20.0 38.7 20.0 7.5 20.0 36.6 20.0 7.5 20.0 43.1 20.0 7.5 20.0 41.8 20.0 7.5 20.0 37.4 20.0 7.5 20.0 42.0 20.0 7.5 20.0 45.2 20.0 7.5 20.0 42.4 20.0 7.5 20.0 40.0 20.0 7.5 184.7" stroke-linejoin="round"/><path d="M196,1729 V2266.8 M172.5,2264.3 H1817 M1004.5,1730 V2264.3 M172.5,2112.2 H196 M172.5,1960.1 H196 M172.5,1808 H196 M183,2188.2 H196 M183,2036.2 H196 M183,1884 H196 M183,1731.9 H196 M221.5,2264.3 V2287.3 M482.5,2264.3 V2287.3 M743.5,2264.3 V2287.3 M1004.5,2264.3 V2287.3 M1265.5,2264.3 V2287.3 M1526.5,2264.3 V2287.3 M1787.5,2264.3 V2287.3 M352,2264.3 V2276.3 M613,2264.3 V2276.3 M874,2264.3 V2276.3 M1135,2264.3 V2276.3 M1396,2264.3 V2276.3 M1657,2264.3 V2276.3" fill="none" stroke="#000" stroke-width="5"/><text x="158.5" y="2278.8" font-size="46" text-anchor="end">0</text><text x="158.5" y="2126.7" font-size="46" text-anchor="end">10</text><text x="158.5" y="1974.6" font-size="46" text-anchor="end">20</text><text x="158.5" y="1822.5" font-size="46" text-anchor="end">30</text><text x="247" y="1915.5" font-size="47">total</text><text x="246.5" y="2041.6" font-size="47" letter-spacing="0.6">d orbitals</text><text x="247.8" y="2123.6" font-size="47" letter-spacing="0.6">p orbitals</text><text x="246.5" y="2215.7" font-size="47" letter-spacing="0.6">s orbitals</text></g>
<text x="221.5" y="2339.4" font-size="46" text-anchor="middle">-1.5</text>
<text x="482.5" y="2339.4" font-size="46" text-anchor="middle">-1.0</text>
<text x="743.5" y="2339.4" font-size="46" text-anchor="middle">-0.5</text>
<text x="1004.5" y="2339.4" font-size="46" text-anchor="middle">0.0</text>
<text x="1265.5" y="2339.4" font-size="46" text-anchor="middle">0.5</text>
<text x="1526.5" y="2339.4" font-size="46" text-anchor="middle">1.0</text>
<text x="1787.5" y="2339.4" font-size="46" text-anchor="middle">1.5</text>
<text x="1005" y="2401" font-size="63.5" text-anchor="middle">Energy (eV)</text>
<text transform="translate(69.6,1236) rotate(-90)" font-size="63" text-anchor="middle">Density of states (electrons/eV)</text>
<defs><radialGradient id="gY" cx="0.5" cy="0.5" r="0.5" fx="0.45" fy="0.42"><stop offset="0" stop-color="#fbf88a"/><stop offset="0.35" stop-color="#f2e41e"/><stop offset="0.75" stop-color="#d2bc0c"/><stop offset="1" stop-color="#7a6a08"/></radialGradient><radialGradient id="gT" cx="0.5" cy="0.5" r="0.5" fx="0.45" fy="0.42"><stop offset="0" stop-color="#b4f2f6"/><stop offset="0.4" stop-color="#64b8c0"/><stop offset="0.85" stop-color="#4896a0"/><stop offset="1" stop-color="#2a6068"/></radialGradient></defs><g><path d="M1686,120L1679.4,96 M1686,120L1688.3,94.7 M1700.6,118.6L1694.1,94.1 M1700.6,118.6L1703,92.8 M1715.2,117.2L1708.9,92.3 M1715.2,117.2L1717.8,91 M1729.8,115.8L1723.6,90.4 M1729.8,115.8L1732.5,89.1 M1744.4,114.4L1738.4,88.6 M1744.4,114.4L1747.3,87.3 M1759,113L1753.1,86.7 M1711,176L1706.5,152.5 M1711,176L1715.9,151 M1711,176L1697,154.1 M1723.6,174.8L1720.9,150.5 M1723.6,174.8L1711.5,152 M1723.6,174.8L1730.4,148.9 M1736.2,173.6L1735.4,148.5 M1736.2,173.6L1726,150 M1748.8,172.4L1740.4,148 M1748.8,172.4L1749.9,146.4 M1761.4,171.2L1754.9,146 M1761.4,171.2L1764.3,144.4 M1774,170L1769.4,143.9 M1731,230L1727,207.8 M1731,230L1736.1,206.6 M1731,230L1717.9,209 M1745.5,229L1741.9,206.2 M1745.5,229L1750.9,205 M1745.5,229L1732.8,207.4 M1760,228L1756.7,204.6 M1760,228L1765.8,203.4 M1760,228L1747.7,205.8 M1774.5,227L1771.6,203 M1774.5,227L1762.5,204.2 M1774.5,227L1780.7,201.8 M1789,226L1786.5,201.4 M1789,226L1777.4,202.6 M1789,226L1795.6,200.2 M1746,285L1743.3,262.5 M1746,285L1751.5,261.7 M1746,285L1735,263.2 M1758,285.2L1756.3,261.8 M1758,285.2L1748.1,262.6 M1758,285.2L1764.5,261 M1770,285.5L1769.3,261.1 M1770,285.5L1761.1,261.9 M1770,285.5L1777.5,260.3 M1782,285.8L1782.3,260.4 M1782,285.8L1774.1,261.2 M1782,285.8L1790.6,259.7 M1794,286L1795.4,259.8 M1794,286L1787.1,260.5 M1764,341L1760.2,318.6 M1764,341L1767.6,318.2 M1764,341L1752.8,319 M1764,341L1778.4,318.2 M1775.3,342.7L1772.1,318.9 M1775.3,342.7L1782.9,318.9 M1775.3,342.7L1764.7,319.3 M1786.7,344.3L1787.5,319.5 M1786.7,344.3L1795.6,319.2 M1786.7,344.3L1776.7,319.5 M1798,346L1800.1,319.9 M1798,346L1792,320.2 M1779,398L1774.8,376.4 M1779,398L1788.6,375.8 M1779,398L1767,376.4 M1790,401L1793,377 M1790,401L1779.2,377.6 M1790,401L1799.9,377 M1801,404L1804.3,378.2 M1801,404L1797.4,378.2 M1789,455L1778.8,434 M1789,455L1800.4,433.4 M1796,457L1803.2,434.2 M1796,457L1781.6,434.8 M1803,459L1806,435 M1803,459L1814.4,435 M1682,115L1677.8,94 M1682,115L1686.7,92.7 M1682,115L1695.6,91.4 M1696.6,113.6L1692.5,92.1 M1696.6,113.6L1701.4,90.8 M1696.6,113.6L1683.6,93.4 M1711.2,112.2L1707.3,90.3 M1711.2,112.2L1716.2,89 M1711.2,112.2L1698.4,91.6 M1725.8,110.8L1722,88.4 M1725.8,110.8L1730.9,87.1 M1725.8,110.8L1713.1,89.7 M1740.4,109.4L1736.8,86.6 M1740.4,109.4L1745.7,85.3 M1740.4,109.4L1727.9,87.9 M1755,108L1751.5,84.7 M1755,108L1760.4,83.4 M1755,108L1742.6,86 M1707,171L1704.9,150.5 M1707,171L1695.4,152.1 M1707,171L1714.3,149 M1707,171L1686,153.6 M1719.6,169.8L1719.3,148.5 M1719.6,169.8L1709.9,150 M1719.6,169.8L1728.8,146.9 M1719.6,169.8L1700.5,151.6 M1732.2,168.6L1724.4,148 M1732.2,168.6L1733.8,146.5 M1732.2,168.6L1714.9,149.6 M1732.2,168.6L1743.2,144.9 M1744.8,167.4L1738.8,146 M1744.8,167.4L1748.3,144.4 M1744.8,167.4L1729.4,147.5 M1757.4,166.2L1753.3,144 M1757.4,166.2L1762.7,142.4 M1757.4,166.2L1743.9,145.5 M1770,165L1767.8,141.9 M1770,165L1758.3,143.5 M1770,165L1777.2,140.4 M1727,225L1725.4,205.8 M1727,225L1716.3,207 M1727,225L1734.5,204.6 M1727,225L1707.2,208.2 M1727,225L1743.5,203.4 M1741.5,224L1740.3,204.2 M1741.5,224L1731.2,205.4 M1741.5,224L1749.3,203 M1741.5,224L1722.1,206.6 M1756,223L1755.1,202.6 M1756,223L1746.1,203.8 M1756,223L1764.2,201.4 M1756,223L1737,205 M1770.5,222L1770,201 M1770.5,222L1760.9,202.2 M1770.5,222L1779.1,199.8 M1770.5,222L1751.9,203.4 M1785,221L1784.9,199.4 M1785,221L1775.8,200.6 M1785,221L1794,198.2 M1785,221L1766.7,201.8 M1742,280L1741.7,260.5 M1742,280L1733.4,261.2 M1742,280L1749.9,259.7 M1742,280L1725.2,262 M1742,280L1758.1,258.9 M1754,280.2L1754.7,259.8 M1754,280.2L1746.5,260.6 M1754,280.2L1762.9,259 M1754,280.2L1738.2,261.3 M1766,280.5L1767.7,259.1 M1766,280.5L1759.5,259.9 M1766,280.5L1775.9,258.3 M1766,280.5L1751.3,260.7 M1778,280.8L1772.5,259.2 M1778,280.8L1780.7,258.4 M1778,280.8L1764.3,260 M1778,280.8L1789,257.7 M1790,281L1785.5,258.5 M1790,281L1793.8,257.8 M1790,281L1777.3,259.3 M1790,281L1802,257 M1760,336L1758.6,316.6 M1760,336L1766,316.2 M1760,336L1751.2,317 M1760,336L1743.8,317.4 M1760,336L1776.8,316.2 M1771.3,337.7L1770.5,316.9 M1771.3,337.7L1763.1,317.3 M1771.3,337.7L1781.3,316.9 M1771.3,337.7L1755.7,317.7 M1782.7,339.3L1785.9,317.5 M1782.7,339.3L1775.1,317.5 M1782.7,339.3L1794,317.2 M1782.7,339.3L1767.7,317.9 M1794,341L1790.4,318.2 M1794,341L1798.5,317.9 M1794,341L1806.6,317.6 M1794,341L1779.6,318.2 M1775,393L1773.2,374.4 M1775,393L1765.4,374.4 M1775,393L1787,373.8 M1775,393L1757.6,374.4 M1775,393L1793.9,373.8 M1786,396L1791.4,375 M1786,396L1777.6,375.6 M1786,396L1798.3,375 M1786,396L1769.8,375.6 M1797,399L1795.8,376.2 M1797,399L1802.7,376.2 M1797,399L1809.6,376.2 M1797,399L1782,376.8 M1785,450L1777.2,432 M1785,450L1798.8,431.4 M1785,450L1768.2,432 M1792,452L1801.6,432.2 M1792,452L1780,432.8 M1792,452L1810,432.2 M1799,454L1804.4,433 M1799,454L1812.8,433 M1799,454L1782.8,433.6" stroke="#5cc4cc" stroke-width="3.6" fill="none"/><path d="M1679.4,96L1675,80 M1688.3,94.7L1689.8,77.8 M1694.1,94.1L1689.8,77.8 M1703,92.8L1704.7,75.7 M1708.9,92.3L1704.7,75.7 M1717.8,91L1719.5,73.5 M1723.6,90.4L1719.5,73.5 M1732.5,89.1L1734.3,71.3 M1738.4,88.6L1734.3,71.3 M1747.3,87.3L1749.2,69.2 M1753.1,86.7L1749.2,69.2 M1706.5,152.5L1703.4,136.9 M1715.9,151L1719.1,134.3 M1697,154.1L1687.7,139.4 M1720.9,150.5L1719.1,134.3 M1711.5,152L1703.4,136.9 M1730.4,148.9L1734.9,131.7 M1735.4,148.5L1734.9,131.7 M1726,150L1719.1,134.3 M1740.4,148L1734.9,131.7 M1749.9,146.4L1750.6,129.1 M1754.9,146L1750.6,129.1 M1764.3,144.4L1766.3,126.6 M1769.4,143.9L1766.3,126.6 M1727,207.8L1724.3,193 M1736.1,206.6L1739.4,191 M1717.9,209L1709.1,195 M1741.9,206.2L1739.4,191 M1750.9,205L1754.6,189 M1732.8,207.4L1724.3,193 M1756.7,204.6L1754.6,189 M1765.8,203.4L1769.7,187 M1747.7,205.8L1739.4,191 M1771.6,203L1769.7,187 M1762.5,204.2L1754.6,189 M1780.7,201.8L1784.9,185 M1786.5,201.4L1784.9,185 M1777.4,202.6L1769.7,187 M1795.6,200.2L1800,183 M1743.3,262.5L1741.4,247.4 M1751.5,261.7L1755.1,246.1 M1735,263.2L1727.7,248.7 M1756.3,261.8L1755.1,246.1 M1748.1,262.6L1741.4,247.4 M1764.5,261L1768.9,244.9 M1769.3,261.1L1768.9,244.9 M1761.1,261.9L1755.1,246.1 M1777.5,260.3L1782.6,243.6 M1782.3,260.4L1782.6,243.6 M1774.1,261.2L1768.9,244.9 M1790.6,259.7L1796.3,242.3 M1795.4,259.8L1796.3,242.3 M1787.1,260.5L1782.6,243.6 M1760.2,318.6L1757.7,303.7 M1767.6,318.2L1770,303 M1752.8,319L1745.3,304.3 M1778.4,318.2L1788,303 M1772.1,318.9L1770,303 M1782.9,318.9L1788,303 M1764.7,319.3L1757.7,303.7 M1787.5,319.5L1788,303 M1795.6,319.2L1801.5,302.5 M1776.7,319.5L1770,303 M1800.1,319.9L1801.5,302.5 M1792,320.2L1788,303 M1774.8,376.4L1772,362 M1788.6,375.8L1795,361 M1767,376.4L1759,362 M1793,377L1795,361 M1779.2,377.6L1772,362 M1799.9,377L1806.5,361 M1804.3,378.2L1806.5,361 M1797.4,378.2L1795,361 M1778.8,434L1772,420 M1800.4,433.4L1808,419 M1803.2,434.2L1808,419 M1781.6,434.8L1772,420 M1806,435L1808,419 M1814.4,435L1822,419 M1677.8,94L1675,80 M1686.7,92.7L1689.8,77.8 M1695.6,91.4L1704.7,75.7 M1692.5,92.1L1689.8,77.8 M1701.4,90.8L1704.7,75.7 M1683.6,93.4L1675,80 M1707.3,90.3L1704.7,75.7 M1716.2,89L1719.5,73.5 M1698.4,91.6L1689.8,77.8 M1722,88.4L1719.5,73.5 M1730.9,87.1L1734.3,71.3 M1713.1,89.7L1704.7,75.7 M1736.8,86.6L1734.3,71.3 M1745.7,85.3L1749.2,69.2 M1727.9,87.9L1719.5,73.5 M1751.5,84.7L1749.2,69.2 M1760.4,83.4L1764,67 M1742.6,86L1734.3,71.3 M1704.9,150.5L1703.4,136.9 M1695.4,152.1L1687.7,139.4 M1714.3,149L1719.1,134.3 M1686,153.6L1672,142 M1719.3,148.5L1719.1,134.3 M1709.9,150L1703.4,136.9 M1728.8,146.9L1734.9,131.7 M1700.5,151.6L1687.7,139.4 M1724.4,148L1719.1,134.3 M1733.8,146.5L1734.9,131.7 M1714.9,149.6L1703.4,136.9 M1743.2,144.9L1750.6,129.1 M1738.8,146L1734.9,131.7 M1748.3,144.4L1750.6,129.1 M1729.4,147.5L1719.1,134.3 M1753.3,144L1750.6,129.1 M1762.7,142.4L1766.3,126.6 M1743.9,145.5L1734.9,131.7 M1767.8,141.9L1766.3,126.6 M1758.3,143.5L1750.6,129.1 M1777.2,140.4L1782,124 M1725.4,205.8L1724.3,193 M1716.3,207L1709.1,195 M1734.5,204.6L1739.4,191 M1707.2,208.2L1694,197 M1743.5,203.4L1754.6,189 M1740.3,204.2L1739.4,191 M1731.2,205.4L1724.3,193 M1749.3,203L1754.6,189 M1722.1,206.6L1709.1,195 M1755.1,202.6L1754.6,189 M1746.1,203.8L1739.4,191 M1764.2,201.4L1769.7,187 M1737,205L1724.3,193 M1770,201L1769.7,187 M1760.9,202.2L1754.6,189 M1779.1,199.8L1784.9,185 M1751.9,203.4L1739.4,191 M1784.9,199.4L1784.9,185 M1775.8,200.6L1769.7,187 M1794,198.2L1800,183 M1766.7,201.8L1754.6,189 M1741.7,260.5L1741.4,247.4 M1733.4,261.2L1727.7,248.7 M1749.9,259.7L1755.1,246.1 M1725.2,262L1714,250 M1758.1,258.9L1768.9,244.9 M1754.7,259.8L1755.1,246.1 M1746.5,260.6L1741.4,247.4 M1762.9,259L1768.9,244.9 M1738.2,261.3L1727.7,248.7 M1767.7,259.1L1768.9,244.9 M1759.5,259.9L1755.1,246.1 M1775.9,258.3L1782.6,243.6 M1751.3,260.7L1741.4,247.4 M1772.5,259.2L1768.9,244.9 M1780.7,258.4L1782.6,243.6 M1764.3,260L1755.1,246.1 M1789,257.7L1796.3,242.3 M1785.5,258.5L1782.6,243.6 M1793.8,257.8L1796.3,242.3 M1777.3,259.3L1768.9,244.9 M1802,257L1810,241 M1758.6,316.6L1757.7,303.7 M1766,316.2L1770,303 M1751.2,317L1745.3,304.3 M1743.8,317.4L1733,305 M1776.8,316.2L1788,303 M1770.5,316.9L1770,303 M1763.1,317.3L1757.7,303.7 M1781.3,316.9L1788,303 M1755.7,317.7L1745.3,304.3 M1785.9,317.5L1788,303 M1775.1,317.5L1770,303 M1794,317.2L1801.5,302.5 M1767.7,317.9L1757.7,303.7 M1790.4,318.2L1788,303 M1798.5,317.9L1801.5,302.5 M1806.6,317.6L1815,302 M1779.6,318.2L1770,303 M1773.2,374.4L1772,362 M1765.4,374.4L1759,362 M1787,373.8L1795,361 M1757.6,374.4L1746,362 M1793.9,373.8L1806.5,361 M1791.4,375L1795,361 M1777.6,375.6L1772,362 M1798.3,375L1806.5,361 M1769.8,375.6L1759,362 M1795.8,376.2L1795,361 M1802.7,376.2L1806.5,361 M1809.6,376.2L1818,361 M1782,376.8L1772,362 M1777.2,432L1772,420 M1798.8,431.4L1808,419 M1768.2,432L1757,420 M1801.6,432.2L1808,419 M1780,432.8L1772,420 M1810,432.2L1822,419 M1804.4,433L1808,419 M1812.8,433L1822,419 M1782.8,433.6L1772,420" stroke="#e8dc10" stroke-width="3.6" fill="none"/><circle cx="1684" cy="67" r="8.5" fill="url(#gT)"/><circle cx="1697.8" cy="65.2" r="8.5" fill="url(#gT)"/><circle cx="1711.5" cy="63.5" r="8.5" fill="url(#gT)"/><circle cx="1725.2" cy="61.8" r="8.5" fill="url(#gT)"/><circle cx="1739" cy="60" r="8.5" fill="url(#gT)"/><circle cx="1686" cy="120" r="8.5" fill="url(#gT)"/><circle cx="1700.6" cy="118.6" r="8.5" fill="url(#gT)"/><circle cx="1715.2" cy="117.2" r="8.5" fill="url(#gT)"/><circle cx="1729.8" cy="115.8" r="8.5" fill="url(#gT)"/><circle cx="1744.4" cy="114.4" r="8.5" fill="url(#gT)"/><circle cx="1759" cy="113" r="8.5" fill="url(#gT)"/><circle cx="1711" cy="176" r="8.5" fill="url(#gT)"/><circle cx="1723.6" cy="174.8" r="8.5" fill="url(#gT)"/><circle cx="1736.2" cy="173.6" r="8.5" fill="url(#gT)"/><circle cx="1748.8" cy="172.4" r="8.5" fill="url(#gT)"/><circle cx="1761.4" cy="171.2" r="8.5" fill="url(#gT)"/><circle cx="1774" cy="170" r="8.5" fill="url(#gT)"/><circle cx="1731" cy="230" r="8.5" fill="url(#gT)"/><circle cx="1745.5" cy="229" r="8.5" fill="url(#gT)"/><circle cx="1760" cy="228" r="8.5" fill="url(#gT)"/><circle cx="1774.5" cy="227" r="8.5" fill="url(#gT)"/><circle cx="1789" cy="226" r="8.5" fill="url(#gT)"/><circle cx="1746" cy="285" r="9" fill="url(#gT)"/><circle cx="1758" cy="285.2" r="9" fill="url(#gT)"/><circle cx="1770" cy="285.5" r="9" fill="url(#gT)"/><circle cx="1782" cy="285.8" r="9" fill="url(#gT)"/><circle cx="1794" cy="286" r="9" fill="url(#gT)"/><circle cx="1764" cy="341" r="9" fill="url(#gT)"/><circle cx="1775.3" cy="342.7" r="9" fill="url(#gT)"/><circle cx="1786.7" cy="344.3" r="9" fill="url(#gT)"/><circle cx="1798" cy="346" r="9" fill="url(#gT)"/><circle cx="1779" cy="398" r="9" fill="url(#gT)"/><circle cx="1790" cy="401" r="9" fill="url(#gT)"/><circle cx="1801" cy="404" r="9" fill="url(#gT)"/><circle cx="1789" cy="455" r="9" fill="url(#gT)"/><circle cx="1796" cy="457" r="9" fill="url(#gT)"/><circle cx="1803" cy="459" r="9" fill="url(#gT)"/><circle cx="1680" cy="62" r="8.5" fill="url(#gT)"/><circle cx="1693.8" cy="60.2" r="8.5" fill="url(#gT)"/><circle cx="1707.5" cy="58.5" r="8.5" fill="url(#gT)"/><circle cx="1721.2" cy="56.8" r="8.5" fill="url(#gT)"/><circle cx="1735" cy="55" r="8.5" fill="url(#gT)"/><circle cx="1682" cy="115" r="8.5" fill="url(#gT)"/><circle cx="1696.6" cy="113.6" r="8.5" fill="url(#gT)"/><circle cx="1711.2" cy="112.2" r="8.5" fill="url(#gT)"/><circle cx="1725.8" cy="110.8" r="8.5" fill="url(#gT)"/><circle cx="1740.4" cy="109.4" r="8.5" fill="url(#gT)"/><circle cx="1755" cy="108" r="8.5" fill="url(#gT)"/><circle cx="1707" cy="171" r="8.5" fill="url(#gT)"/><circle cx="1719.6" cy="169.8" r="8.5" fill="url(#gT)"/><circle cx="1732.2" cy="168.6" r="8.5" fill="url(#gT)"/><circle cx="1744.8" cy="167.4" r="8.5" fill="url(#gT)"/><circle cx="1757.4" cy="166.2" r="8.5" fill="url(#gT)"/><circle cx="1770" cy="165" r="8.5" fill="url(#gT)"/><circle cx="1727" cy="225" r="8.5" fill="url(#gT)"/><circle cx="1741.5" cy="224" r="8.5" fill="url(#gT)"/><circle cx="1756" cy="223" r="8.5" fill="url(#gT)"/><circle cx="1770.5" cy="222" r="8.5" fill="url(#gT)"/><circle cx="1785" cy="221" r="8.5" fill="url(#gT)"/><circle cx="1742" cy="280" r="9" fill="url(#gT)"/><circle cx="1754" cy="280.2" r="9" fill="url(#gT)"/><circle cx="1766" cy="280.5" r="9" fill="url(#gT)"/><circle cx="1778" cy="280.8" r="9" fill="url(#gT)"/><circle cx="1790" cy="281" r="9" fill="url(#gT)"/><circle cx="1760" cy="336" r="9" fill="url(#gT)"/><circle cx="1771.3" cy="337.7" r="9" fill="url(#gT)"/><circle cx="1782.7" cy="339.3" r="9" fill="url(#gT)"/><circle cx="1794" cy="341" r="9" fill="url(#gT)"/><circle cx="1775" cy="393" r="9" fill="url(#gT)"/><circle cx="1786" cy="396" r="9" fill="url(#gT)"/><circle cx="1797" cy="399" r="9" fill="url(#gT)"/><circle cx="1785" cy="450" r="9" fill="url(#gT)"/><circle cx="1792" cy="452" r="9" fill="url(#gT)"/><circle cx="1799" cy="454" r="9" fill="url(#gT)"/><circle cx="1675" cy="80" r="9.5" fill="url(#gY)"/><circle cx="1689.8" cy="77.8" r="9.5" fill="url(#gY)"/><circle cx="1704.7" cy="75.7" r="9.5" fill="url(#gY)"/><circle cx="1719.5" cy="73.5" r="9.5" fill="url(#gY)"/><circle cx="1734.3" cy="71.3" r="9.5" fill="url(#gY)"/><circle cx="1749.2" cy="69.2" r="9.5" fill="url(#gY)"/><circle cx="1764" cy="67" r="9.5" fill="url(#gY)"/><circle cx="1672" cy="142" r="9.5" fill="url(#gY)"/><circle cx="1687.7" cy="139.4" r="9.5" fill="url(#gY)"/><circle cx="1703.4" cy="136.9" r="9.5" fill="url(#gY)"/><circle cx="1719.1" cy="134.3" r="9.5" fill="url(#gY)"/><circle cx="1734.9" cy="131.7" r="9.5" fill="url(#gY)"/><circle cx="1750.6" cy="129.1" r="9.5" fill="url(#gY)"/><circle cx="1766.3" cy="126.6" r="9.5" fill="url(#gY)"/><circle cx="1782" cy="124" r="9.5" fill="url(#gY)"/><circle cx="1694" cy="197" r="9.5" fill="url(#gY)"/><circle cx="1709.1" cy="195" r="9.5" fill="url(#gY)"/><circle cx="1724.3" cy="193" r="9.5" fill="url(#gY)"/><circle cx="1739.4" cy="191" r="9.5" fill="url(#gY)"/><circle cx="1754.6" cy="189" r="9.5" fill="url(#gY)"/><circle cx="1769.7" cy="187" r="9.5" fill="url(#gY)"/><circle cx="1784.9" cy="185" r="9.5" fill="url(#gY)"/><circle cx="1800" cy="183" r="9.5" fill="url(#gY)"/><circle cx="1714" cy="250" r="9.5" fill="url(#gY)"/><circle cx="1727.7" cy="248.7" r="9.5" fill="url(#gY)"/><circle cx="1741.4" cy="247.4" r="9.5" fill="url(#gY)"/><circle cx="1755.1" cy="246.1" r="9.5" fill="url(#gY)"/><circle cx="1768.9" cy="244.9" r="9.5" fill="url(#gY)"/><circle cx="1782.6" cy="243.6" r="9.5" fill="url(#gY)"/><circle cx="1796.3" cy="242.3" r="9.5" fill="url(#gY)"/><circle cx="1810" cy="241" r="9.5" fill="url(#gY)"/><circle cx="1733" cy="305" r="9.5" fill="url(#gY)"/><circle cx="1745.3" cy="304.3" r="9.5" fill="url(#gY)"/><circle cx="1757.7" cy="303.7" r="9.5" fill="url(#gY)"/><circle cx="1770" cy="303" r="9.5" fill="url(#gY)"/><circle cx="1788" cy="303" r="9.5" fill="url(#gY)"/><circle cx="1801.5" cy="302.5" r="9.5" fill="url(#gY)"/><circle cx="1815" cy="302" r="9.5" fill="url(#gY)"/><circle cx="1746" cy="362" r="9.5" fill="url(#gY)"/><circle cx="1759" cy="362" r="9.5" fill="url(#gY)"/><circle cx="1772" cy="362" r="9.5" fill="url(#gY)"/><circle cx="1795" cy="361" r="9.5" fill="url(#gY)"/><circle cx="1806.5" cy="361" r="9.5" fill="url(#gY)"/><circle cx="1818" cy="361" r="9.5" fill="url(#gY)"/><circle cx="1757" cy="420" r="9.5" fill="url(#gY)"/><circle cx="1772" cy="420" r="9.5" fill="url(#gY)"/><circle cx="1808" cy="419" r="9.5" fill="url(#gY)"/><circle cx="1822" cy="419" r="9.5" fill="url(#gY)"/><circle cx="1762" cy="476" r="9.5" fill="url(#gY)"/><circle cx="1773" cy="477" r="9.5" fill="url(#gY)"/><circle cx="1812" cy="474" r="9.5" fill="url(#gY)"/><circle cx="1822" cy="474" r="9.5" fill="url(#gY)"/><path d="M1642.4,677.4L1644.7,692.3 M1642.4,677.4L1660.3,687.2 M1642.4,677.4L1629,697.4 M1669.3,669L1671,683.8 M1669.3,669L1686.7,678.8 M1669.3,669L1655.4,688.9 M1696.2,660.6L1697.4,675.4 M1696.2,660.6L1713,670.3 M1696.2,660.6L1681.8,680.5 M1696.2,660.6L1722.5,662.1 M1723.1,652.2L1733.2,658.7 M1723.1,652.2L1723.8,667 M1723.1,652.2L1747,654.5 M1723.1,652.2L1708.2,672 M1660.5,726.8L1661.7,742.6 M1660.5,726.8L1651.9,712.1 M1660.5,726.8L1676.3,737.9 M1660.5,726.8L1667.5,707 M1660.5,726.8L1636.3,717.1 M1685.7,719.3L1686.3,734.9 M1685.7,719.3L1677.6,704 M1685.7,719.3L1700.9,730.2 M1685.7,719.3L1693.2,698.9 M1685.7,719.3L1671.8,739.5 M1685.7,719.3L1662,709 M1711,711.7L1711,727.1 M1711,711.7L1703.3,695.8 M1711,711.7L1725.5,722.4 M1711,711.7L1718.9,690.8 M1711,711.7L1696.4,731.8 M1711,711.7L1687.7,700.9 M1736.2,704.1L1735.6,719.4 M1736.2,704.1L1750.1,714.7 M1736.2,704.1L1729,687.7 M1736.2,704.1L1738.5,679.5 M1736.2,704.1L1721,724.1 M1736.2,704.1L1713.4,692.8 M1736.2,704.1L1762.1,708.8 M1761.4,696.6L1772.2,705.8 M1761.4,696.6L1760.2,711.7 M1761.4,696.6L1783.8,701.4 M1761.4,696.6L1748.6,676.5 M1761.4,696.6L1762.4,672.2 M1761.4,696.6L1739.1,684.7 M1761.4,696.6L1745.7,716.4 M1700.9,769.2L1703.3,785.5 M1700.9,769.2L1692.4,754.8 M1700.9,769.2L1716.1,781.4 M1700.9,769.2L1706.9,750.1 M1700.9,769.2L1677.9,759.5 M1724.6,764.2L1725.6,779.4 M1724.6,764.2L1738.4,775.3 M1724.6,764.2L1716.4,748.1 M1724.6,764.2L1730.9,743.4 M1724.6,764.2L1712.8,783.5 M1724.6,764.2L1701.9,752.8 M1724.6,764.2L1751.3,771.2 M1748.3,759.1L1747.9,773.3 M1748.3,759.1L1760.7,769.2 M1748.3,759.1L1740.4,741.4 M1748.3,759.1L1735.1,777.4 M1748.3,759.1L1754.9,736.7 M1748.3,759.1L1725.9,746.1 M1748.3,759.1L1773.6,765 M1772,754.1L1770.2,767.1 M1772,754.1L1783.1,763 M1772,754.1L1764.4,734.7 M1772,754.1L1757.4,771.3 M1772,754.1L1795.9,758.9 M1772,754.1L1776.4,728.8 M1772,754.1L1749.9,739.4 M1795.7,749L1792.5,761 M1795.7,749L1805.4,756.9 M1795.7,749L1816.3,755.1 M1795.7,749L1779.7,765.1 M1795.7,749L1785.9,726.8 M1795.7,749L1797.5,722.4 M1795.7,749L1773.9,732.7 M1741.2,813.6L1741.2,829.9 M1741.2,813.6L1732.3,799.2 M1741.2,813.6L1752.1,827.4 M1741.2,813.6L1745.1,795.1 M1741.2,813.6L1719.4,803.3 M1741.2,813.6L1763,824.8 M1761.4,810.6L1760.2,826.2 M1761.4,810.6L1771.1,823.6 M1761.4,810.6L1753.2,793.8 M1761.4,810.6L1766,789.7 M1761.4,810.6L1749.3,828.7 M1761.4,810.6L1782,821.1 M1761.4,810.6L1740.3,798 M1781.6,807.5L1790,819.9 M1781.6,807.5L1779.1,822.4 M1781.6,807.5L1774.1,788.5 M1781.6,807.5L1800.9,817.3 M1781.6,807.5L1768.2,825 M1781.6,807.5L1786.9,784.4 M1781.6,807.5L1761.2,792.6 M1801.7,804.5L1809,816.1 M1801.7,804.5L1798.1,818.7 M1801.7,804.5L1819.9,813.6 M1801.7,804.5L1787.2,821.2 M1801.7,804.5L1795,783.2 M1801.7,804.5L1782.1,787.3 M1801.7,804.5L1807.8,779.1 M1821.9,801.5L1828,812.4 M1821.9,801.5L1817.1,814.9 M1821.9,801.5L1840.1,810.6 M1821.9,801.5L1806.2,817.5 M1821.9,801.5L1815.9,777.9 M1821.9,801.5L1826.8,776.1 M1821.9,801.5L1803,782 M1777.5,862L1777.5,844.2 M1777.5,862L1766.6,846.7 M1777.5,862L1788.4,841.7 M1777.5,862L1755.7,849.3 M1786.2,861.4L1781,844 M1786.2,861.4L1791.9,841.4 M1786.2,861.4L1770.1,846.5 M1786.2,861.4L1802.8,838.9 M1794.8,860.8L1795.3,841.2 M1794.8,860.8L1784.4,843.7 M1794.8,860.8L1806.2,838.7 M1794.8,860.8L1773.5,846.3 M1803.5,860.3L1798.8,841 M1803.5,860.3L1809.7,838.4 M1803.5,860.3L1787.9,843.5 M1812.1,859.7L1802.3,840.7 M1812.1,859.7L1813.1,838.2 M1812.1,859.7L1791.4,843.3 M1812.1,859.7L1824,835.7 M1820.8,859.1L1816.6,838 M1820.8,859.1L1805.7,840.5 M1820.8,859.1L1827.5,835.4 M1829.4,858.5L1820.1,837.7 M1829.4,858.5L1831,835.2 M1829.4,858.5L1809.2,840.3 M1829.4,858.5L1843.1,833.4 M1838,858L1834.4,835 M1838,858L1823.5,837.5 M1838,858L1846.5,833.1 M1801.7,914.4L1798.8,897.2 M1801.7,914.4L1805.1,896.3 M1801.7,914.4L1792.5,898.1 M1801.7,914.4L1811.4,895.4 M1809.5,914.3L1808.2,896.2 M1809.5,914.3L1801.9,897.1 M1809.5,914.3L1814.5,895.3 M1809.5,914.3L1795.6,898 M1817.2,914.1L1817.6,895.2 M1817.2,914.1L1811.3,896.2 M1817.2,914.1L1823.9,894.3 M1817.2,914.1L1805,897.1 M1824.9,913.9L1820.7,895.2 M1824.9,913.9L1827,894.3 M1824.9,913.9L1814.4,896.1 M1824.9,913.9L1833.3,893.4 M1832.7,913.8L1830.1,894.2 M1832.7,913.8L1823.8,895.1 M1832.7,913.8L1836.4,893.3 M1832.7,913.8L1817.5,896 M1840.4,913.6L1839.5,893.2 M1840.4,913.6L1833.2,894.1 M1840.4,913.6L1845.8,892.3 M1840.4,913.6L1826.9,895 M1848.1,913.4L1842.6,893.2 M1848.1,913.4L1848.9,892.3 M1848.1,913.4L1836.3,894.1 M1848.1,913.4L1855.2,891.3 M1817.9,970.9L1819.2,951 M1817.9,970.9L1812.7,951.6 M1817.9,970.9L1825.7,950.4 M1817.9,970.9L1806.2,952.2 M1824.9,970.9L1822.1,951 M1824.9,970.9L1828.6,950.4 M1824.9,970.9L1815.6,951.6 M1824.9,970.9L1835.1,949.7 M1832,970.9L1831.4,950.4 M1832,970.9L1824.9,951 M1832,970.9L1837.9,949.7 M1832,970.9L1818.4,951.6 M1839.1,970.9L1834.2,950.4 M1839.1,970.9L1840.7,949.7 M1839.1,970.9L1827.7,951 M1839.1,970.9L1847.2,949.1 M1846.1,970.9L1843.5,949.7 M1846.1,970.9L1850.1,949.1 M1846.1,970.9L1837,950.4 M1846.1,970.9L1856.6,948.5 M1832,1029.4L1828.4,1006.4 M1832,1029.4L1823.1,1006.4 M1832,1029.4L1841.7,1006.4 M1832,1029.4L1846.5,1006.8 M1839.1,1028.9L1844.5,1006.2 M1839.1,1028.9L1831.2,1006.2 M1839.1,1028.9L1849.3,1006.6 M1839.1,1028.9L1825.9,1006.2 M1846.1,1028.4L1847.3,1006 M1846.1,1028.4L1852.2,1006.4 M1846.1,1028.4L1857,1006.8 M1846.1,1028.4L1834,1006" stroke="#5cc4cc" stroke-width="5.5" fill="none"/><path d="M1644.7,692.3L1646.2,702.2 M1660.3,687.2L1672.2,693.7 M1629,697.4L1620.2,710.7 M1671,683.8L1672.2,693.7 M1686.7,678.8L1698.2,685.3 M1655.4,688.9L1646.2,702.2 M1697.4,675.4L1698.2,685.3 M1713,670.3L1724.3,676.8 M1681.8,680.5L1672.2,693.7 M1722.5,662.1L1740,663.1 M1733.2,658.7L1740,663.1 M1723.8,667L1724.3,676.8 M1747,654.5L1763,656 M1708.2,672L1698.2,685.3 M1661.7,742.6L1662.5,753.1 M1651.9,712.1L1646.2,702.2 M1676.3,737.9L1686.7,745.2 M1667.5,707L1672.2,693.7 M1636.3,717.1L1620.2,710.7 M1686.3,734.9L1686.7,745.2 M1677.6,704L1672.2,693.7 M1700.9,730.2L1711,737.4 M1693.2,698.9L1698.2,685.3 M1671.8,739.5L1662.5,753.1 M1662,709L1646.2,702.2 M1711,727.1L1711,737.4 M1703.3,695.8L1698.2,685.3 M1725.5,722.4L1735.2,729.6 M1718.9,690.8L1724.3,676.8 M1696.4,731.8L1686.7,745.2 M1687.7,700.9L1672.2,693.7 M1735.6,719.4L1735.2,729.6 M1750.1,714.7L1759.4,721.8 M1729,687.7L1724.3,676.8 M1738.5,679.5L1740,663.1 M1721,724.1L1711,737.4 M1713.4,692.8L1698.2,685.3 M1762.1,708.8L1779.3,711.9 M1772.2,705.8L1779.3,711.9 M1760.2,711.7L1759.4,721.8 M1783.8,701.4L1798.7,704.6 M1748.6,676.5L1740,663.1 M1762.4,672.2L1763,656 M1739.1,684.7L1724.3,676.8 M1745.7,716.4L1735.2,729.6 M1703.3,785.5L1704.9,796.4 M1692.4,754.8L1686.7,745.2 M1716.1,781.4L1726.3,789.6 M1706.9,750.1L1711,737.4 M1677.9,759.5L1662.5,753.1 M1725.6,779.4L1726.3,789.6 M1738.4,775.3L1747.7,782.7 M1716.4,748.1L1711,737.4 M1730.9,743.4L1735.2,729.6 M1712.8,783.5L1704.9,796.4 M1701.9,752.8L1686.7,745.2 M1751.3,771.2L1769.1,775.9 M1747.9,773.3L1747.7,782.7 M1760.7,769.2L1769.1,775.9 M1740.4,741.4L1735.2,729.6 M1735.1,777.4L1726.3,789.6 M1754.9,736.7L1759.4,721.8 M1725.9,746.1L1711,737.4 M1773.6,765L1790.4,769 M1770.2,767.1L1769.1,775.9 M1783.1,763L1790.4,769 M1764.4,734.7L1759.4,721.8 M1757.4,771.3L1747.7,782.7 M1795.9,758.9L1811.8,762.1 M1776.4,728.8L1779.3,711.9 M1749.9,739.4L1735.2,729.6 M1792.5,761L1790.4,769 M1805.4,756.9L1811.8,762.1 M1816.3,755.1L1830,759.1 M1779.7,765.1L1769.1,775.9 M1785.9,726.8L1779.3,711.9 M1797.5,722.4L1798.7,704.6 M1773.9,732.7L1759.4,721.8 M1741.2,829.9L1741.2,840.8 M1732.3,799.2L1726.3,789.6 M1752.1,827.4L1759.4,836.6 M1745.1,795.1L1747.7,782.7 M1719.4,803.3L1704.9,796.4 M1763,824.8L1777.5,832.3 M1760.2,826.2L1759.4,836.6 M1771.1,823.6L1777.5,832.3 M1753.2,793.8L1747.7,782.7 M1766,789.7L1769.1,775.9 M1749.3,828.7L1741.2,840.8 M1782,821.1L1795.7,828.1 M1740.3,798L1726.3,789.6 M1790,819.9L1795.7,828.1 M1779.1,822.4L1777.5,832.3 M1774.1,788.5L1769.1,775.9 M1800.9,817.3L1813.8,823.9 M1768.2,825L1759.4,836.6 M1786.9,784.4L1790.4,769 M1761.2,792.6L1747.7,782.7 M1809,816.1L1813.8,823.9 M1798.1,818.7L1795.7,828.1 M1819.9,813.6L1832,819.6 M1787.2,821.2L1777.5,832.3 M1795,783.2L1790.4,769 M1782.1,787.3L1769.1,775.9 M1807.8,779.1L1811.8,762.1 M1828,812.4L1832,819.6 M1817.1,814.9L1813.8,823.9 M1840.1,810.6L1852.2,816.6 M1806.2,817.5L1795.7,828.1 M1815.9,777.9L1811.8,762.1 M1826.8,776.1L1830,759.1 M1803,782L1790.4,769 M1777.5,844.2L1777.5,832.3 M1766.6,846.7L1759.4,836.6 M1788.4,841.7L1795.7,828.1 M1755.7,849.3L1741.2,840.8 M1781,844L1777.5,832.3 M1791.9,841.4L1795.7,828.1 M1770.1,846.5L1759.4,836.6 M1802.8,838.9L1813.8,823.9 M1795.3,841.2L1795.7,828.1 M1784.4,843.7L1777.5,832.3 M1806.2,838.7L1813.8,823.9 M1773.5,846.3L1759.4,836.6 M1798.8,841L1795.7,828.1 M1809.7,838.4L1813.8,823.9 M1787.9,843.5L1777.5,832.3 M1802.3,840.7L1795.7,828.1 M1813.1,838.2L1813.8,823.9 M1791.4,843.3L1777.5,832.3 M1824,835.7L1832,819.6 M1816.6,838L1813.8,823.9 M1805.7,840.5L1795.7,828.1 M1827.5,835.4L1832,819.6 M1820.1,837.7L1813.8,823.9 M1831,835.2L1832,819.6 M1809.2,840.3L1795.7,828.1 M1843.1,833.4L1852.2,816.6 M1834.4,835L1832,819.6 M1823.5,837.5L1813.8,823.9 M1846.5,833.1L1852.2,816.6 M1798.8,897.2L1796.9,885.7 M1805.1,896.3L1807.4,884.2 M1792.5,898.1L1786.4,887.2 M1811.4,895.4L1817.9,882.7 M1808.2,896.2L1807.4,884.2 M1801.9,897.1L1796.9,885.7 M1814.5,895.3L1817.9,882.7 M1795.6,898L1786.4,887.2 M1817.6,895.2L1817.9,882.7 M1811.3,896.2L1807.4,884.2 M1823.9,894.3L1828.4,881.2 M1805,897.1L1796.9,885.7 M1820.7,895.2L1817.9,882.7 M1827,894.3L1828.4,881.2 M1814.4,896.1L1807.4,884.2 M1833.3,893.4L1838.9,879.6 M1830.1,894.2L1828.4,881.2 M1823.8,895.1L1817.9,882.7 M1836.4,893.3L1838.9,879.6 M1817.5,896L1807.4,884.2 M1839.5,893.2L1838.9,879.6 M1833.2,894.1L1828.4,881.2 M1845.8,892.3L1849.3,878.1 M1826.9,895L1817.9,882.7 M1842.6,893.2L1838.9,879.6 M1848.9,892.3L1849.3,878.1 M1836.3,894.1L1828.4,881.2 M1855.2,891.3L1859.8,876.6 M1819.2,951L1820.1,937.6 M1812.7,951.6L1809.3,938.7 M1825.7,950.4L1831,936.6 M1806.2,952.2L1798.5,939.7 M1822.1,951L1820.1,937.6 M1828.6,950.4L1831,936.6 M1815.6,951.6L1809.3,938.7 M1835.1,949.7L1841.8,935.6 M1831.4,950.4L1831,936.6 M1824.9,951L1820.1,937.6 M1837.9,949.7L1841.8,935.6 M1818.4,951.6L1809.3,938.7 M1834.2,950.4L1831,936.6 M1840.7,949.7L1841.8,935.6 M1827.7,951L1820.1,937.6 M1847.2,949.1L1852.7,934.6 M1843.5,949.7L1841.8,935.6 M1850.1,949.1L1852.7,934.6 M1837,950.4L1831,936.6 M1856.6,948.5L1863.5,933.6 M1828.4,1006.4L1825.9,991.1 M1823.1,1006.4L1817.2,991.1 M1841.7,1006.4L1848.1,991.1 M1846.5,1006.8L1856.2,991.8 M1844.5,1006.2L1848.1,991.1 M1831.2,1006.2L1825.9,991.1 M1849.3,1006.6L1856.2,991.8 M1825.9,1006.2L1817.2,991.1 M1847.3,1006L1848.1,991.1 M1852.2,1006.4L1856.2,991.8 M1857,1006.8L1864.3,992.5 M1834,1006L1825.9,991.1" stroke="#e8dc10" stroke-width="5.5" fill="none"/><circle cx="1642.4" cy="677.4" r="9.6" fill="url(#gT)"/><circle cx="1669.3" cy="669" r="9.6" fill="url(#gT)"/><circle cx="1696.2" cy="660.6" r="9.6" fill="url(#gT)"/><circle cx="1723.1" cy="652.2" r="9.6" fill="url(#gT)"/><circle cx="1660.5" cy="726.8" r="9.6" fill="url(#gT)"/><circle cx="1685.7" cy="719.3" r="9.6" fill="url(#gT)"/><circle cx="1711" cy="711.7" r="9.6" fill="url(#gT)"/><circle cx="1736.2" cy="704.1" r="9.6" fill="url(#gT)"/><circle cx="1761.4" cy="696.6" r="9.6" fill="url(#gT)"/><circle cx="1700.9" cy="769.2" r="9.6" fill="url(#gT)"/><circle cx="1724.6" cy="764.2" r="9.6" fill="url(#gT)"/><circle cx="1748.3" cy="759.1" r="9.6" fill="url(#gT)"/><circle cx="1772" cy="754.1" r="9.6" fill="url(#gT)"/><circle cx="1795.7" cy="749" r="9.6" fill="url(#gT)"/><circle cx="1741.2" cy="813.6" r="9.6" fill="url(#gT)"/><circle cx="1761.4" cy="810.6" r="9.6" fill="url(#gT)"/><circle cx="1781.6" cy="807.5" r="9.6" fill="url(#gT)"/><circle cx="1801.7" cy="804.5" r="9.6" fill="url(#gT)"/><circle cx="1821.9" cy="801.5" r="9.6" fill="url(#gT)"/><circle cx="1777.5" cy="862" r="9.6" fill="url(#gT)"/><circle cx="1786.2" cy="861.4" r="9.6" fill="url(#gT)"/><circle cx="1794.8" cy="860.8" r="9.6" fill="url(#gT)"/><circle cx="1803.5" cy="860.3" r="9.6" fill="url(#gT)"/><circle cx="1812.1" cy="859.7" r="9.6" fill="url(#gT)"/><circle cx="1820.8" cy="859.1" r="9.6" fill="url(#gT)"/><circle cx="1829.4" cy="858.5" r="9.6" fill="url(#gT)"/><circle cx="1838" cy="858" r="9.6" fill="url(#gT)"/><circle cx="1801.7" cy="914.4" r="9.6" fill="url(#gT)"/><circle cx="1809.5" cy="914.3" r="9.6" fill="url(#gT)"/><circle cx="1817.2" cy="914.1" r="9.6" fill="url(#gT)"/><circle cx="1824.9" cy="913.9" r="9.6" fill="url(#gT)"/><circle cx="1832.7" cy="913.8" r="9.6" fill="url(#gT)"/><circle cx="1840.4" cy="913.6" r="9.6" fill="url(#gT)"/><circle cx="1848.1" cy="913.4" r="9.6" fill="url(#gT)"/><circle cx="1817.9" cy="970.9" r="9.6" fill="url(#gT)"/><circle cx="1824.9" cy="970.9" r="9.6" fill="url(#gT)"/><circle cx="1832" cy="970.9" r="9.6" fill="url(#gT)"/><circle cx="1839.1" cy="970.9" r="9.6" fill="url(#gT)"/><circle cx="1846.1" cy="970.9" r="9.6" fill="url(#gT)"/><circle cx="1832" cy="1029.4" r="9.6" fill="url(#gT)"/><circle cx="1839.1" cy="1028.9" r="9.6" fill="url(#gT)"/><circle cx="1846.1" cy="1028.4" r="9.6" fill="url(#gT)"/><circle cx="1763" cy="656" r="10" fill="url(#gY)"/><circle cx="1740" cy="663.1" r="10" fill="url(#gY)"/><circle cx="1798.7" cy="704.6" r="10" fill="url(#gY)"/><circle cx="1779.3" cy="711.9" r="10" fill="url(#gY)"/><circle cx="1830" cy="759.1" r="10" fill="url(#gY)"/><circle cx="1852.2" cy="816.6" r="10" fill="url(#gY)"/><circle cx="1620.2" cy="710.7" r="10" fill="url(#gY)"/><circle cx="1646.2" cy="702.2" r="10" fill="url(#gY)"/><circle cx="1672.2" cy="693.7" r="10" fill="url(#gY)"/><circle cx="1698.2" cy="685.3" r="10" fill="url(#gY)"/><circle cx="1724.3" cy="676.8" r="10" fill="url(#gY)"/><circle cx="1662.5" cy="753.1" r="10" fill="url(#gY)"/><circle cx="1686.7" cy="745.2" r="10" fill="url(#gY)"/><circle cx="1711" cy="737.4" r="10" fill="url(#gY)"/><circle cx="1735.2" cy="729.6" r="10" fill="url(#gY)"/><circle cx="1759.4" cy="721.8" r="10" fill="url(#gY)"/><circle cx="1704.9" cy="796.4" r="10" fill="url(#gY)"/><circle cx="1726.3" cy="789.6" r="10" fill="url(#gY)"/><circle cx="1747.7" cy="782.7" r="10" fill="url(#gY)"/><circle cx="1769.1" cy="775.9" r="10" fill="url(#gY)"/><circle cx="1790.4" cy="769" r="10" fill="url(#gY)"/><circle cx="1811.8" cy="762.1" r="10" fill="url(#gY)"/><circle cx="1741.2" cy="840.8" r="10" fill="url(#gY)"/><circle cx="1759.4" cy="836.6" r="10" fill="url(#gY)"/><circle cx="1777.5" cy="832.3" r="10" fill="url(#gY)"/><circle cx="1795.7" cy="828.1" r="10" fill="url(#gY)"/><circle cx="1813.8" cy="823.9" r="10" fill="url(#gY)"/><circle cx="1832" cy="819.6" r="10" fill="url(#gY)"/><circle cx="1765.4" cy="890.2" r="10" fill="url(#gY)"/><circle cx="1775.9" cy="888.7" r="10" fill="url(#gY)"/><circle cx="1786.4" cy="887.2" r="10" fill="url(#gY)"/><circle cx="1796.9" cy="885.7" r="10" fill="url(#gY)"/><circle cx="1807.4" cy="884.2" r="10" fill="url(#gY)"/><circle cx="1817.9" cy="882.7" r="10" fill="url(#gY)"/><circle cx="1828.4" cy="881.2" r="10" fill="url(#gY)"/><circle cx="1838.9" cy="879.6" r="10" fill="url(#gY)"/><circle cx="1849.3" cy="878.1" r="10" fill="url(#gY)"/><circle cx="1859.8" cy="876.6" r="10" fill="url(#gY)"/><circle cx="1870.3" cy="875.1" r="10" fill="url(#gY)"/><circle cx="1787.6" cy="940.7" r="10" fill="url(#gY)"/><circle cx="1798.5" cy="939.7" r="10" fill="url(#gY)"/><circle cx="1809.3" cy="938.7" r="10" fill="url(#gY)"/><circle cx="1820.1" cy="937.6" r="10" fill="url(#gY)"/><circle cx="1831" cy="936.6" r="10" fill="url(#gY)"/><circle cx="1841.8" cy="935.6" r="10" fill="url(#gY)"/><circle cx="1852.7" cy="934.6" r="10" fill="url(#gY)"/><circle cx="1863.5" cy="933.6" r="10" fill="url(#gY)"/><circle cx="1874.4" cy="932.6" r="10" fill="url(#gY)"/><circle cx="1799.7" cy="991.1" r="10" fill="url(#gY)"/><circle cx="1808.5" cy="991.1" r="10" fill="url(#gY)"/><circle cx="1817.2" cy="991.1" r="10" fill="url(#gY)"/><circle cx="1825.9" cy="991.1" r="10" fill="url(#gY)"/><circle cx="1848.1" cy="991.1" r="10" fill="url(#gY)"/><circle cx="1856.2" cy="991.8" r="10" fill="url(#gY)"/><circle cx="1864.3" cy="992.5" r="10" fill="url(#gY)"/><circle cx="1872.3" cy="993.1" r="10" fill="url(#gY)"/><circle cx="1805.8" cy="1045.6" r="10" fill="url(#gY)"/><circle cx="1813.8" cy="1045.6" r="10" fill="url(#gY)"/><circle cx="1821.9" cy="1045.6" r="10" fill="url(#gY)"/><circle cx="1852.2" cy="1045.6" r="10" fill="url(#gY)"/><circle cx="1860.2" cy="1046.1" r="10" fill="url(#gY)"/><circle cx="1868.3" cy="1046.6" r="10" fill="url(#gY)"/><path d="M1614,1334.4L1623.3,1345.6 M1614,1334.4L1609.7,1356.1 M1614,1334.4L1637.4,1338.1 M1638.8,1321.4L1647.3,1332.9 M1638.8,1321.4L1633.2,1340.3 M1638.8,1321.4L1661.3,1325.5 M1663.6,1308.3L1671.2,1320.3 M1663.6,1308.3L1657.2,1327.7 M1663.6,1308.3L1685.2,1312.8 M1688.3,1295.2L1695.1,1307.6 M1688.3,1295.2L1681.1,1315 M1688.3,1295.2L1708.1,1287.2 M1641.9,1367.4L1634.5,1358.8 M1641.9,1367.4L1652.4,1379.8 M1641.9,1367.4L1648.5,1351.3 M1641.9,1367.4L1620.9,1369.3 M1641.9,1367.4L1665.6,1372.7 M1665.9,1355.3L1658.1,1346.5 M1665.9,1355.3L1675.2,1367.8 M1665.9,1355.3L1672.1,1339.1 M1665.9,1355.3L1662,1375 M1665.9,1355.3L1644.1,1353.9 M1665.9,1355.3L1688.3,1360.7 M1689.9,1343.2L1681.7,1334.2 M1689.9,1343.2L1697.9,1355.9 M1689.9,1343.2L1695.7,1326.8 M1689.9,1343.2L1684.8,1363 M1689.9,1343.2L1711.1,1348.8 M1689.9,1343.2L1667.7,1341.6 M1713.8,1331.1L1705.3,1321.9 M1713.8,1331.1L1720.7,1343.9 M1713.8,1331.1L1733.8,1336.8 M1713.8,1331.1L1707.5,1351 M1713.8,1331.1L1691.3,1329.4 M1737.8,1318.9L1743.4,1331.9 M1737.8,1318.9L1758.9,1314.6 M1737.8,1318.9L1730.2,1339.1 M1737.8,1318.9L1714.9,1317.1 M1737.8,1318.9L1727.9,1296.7 M1695.5,1386L1687,1380.1 M1695.5,1386L1700.2,1373 M1695.5,1386L1703.6,1399.6 M1695.5,1386L1715.2,1394.2 M1695.5,1386L1673.9,1387.2 M1717.7,1376.7L1709,1369.3 M1717.7,1376.7L1724.1,1390.5 M1717.7,1376.7L1722.2,1362.2 M1717.7,1376.7L1735.7,1385.1 M1717.7,1376.7L1712.5,1395.9 M1717.7,1376.7L1695.9,1376.4 M1739.9,1367.4L1731.1,1358.5 M1739.9,1367.4L1744.5,1381.4 M1739.9,1367.4L1744.2,1351.3 M1739.9,1367.4L1756.1,1375.9 M1739.9,1367.4L1732.9,1386.8 M1739.9,1367.4L1717.9,1365.6 M1762.1,1358.1L1753.1,1347.6 M1762.1,1358.1L1765,1372.2 M1762.1,1358.1L1776.6,1366.8 M1762.1,1358.1L1753.4,1377.6 M1762.1,1358.1L1739.9,1354.7 M1784.3,1348.9L1785.5,1363.1 M1784.3,1348.9L1804.7,1350.1 M1784.3,1348.9L1773.9,1368.5 M1784.3,1348.9L1762,1343.9 M1784.3,1348.9L1777.4,1326.6 M1745.1,1409.7L1746.6,1398.3 M1745.1,1409.7L1735,1403.7 M1745.1,1409.7L1750,1424 M1745.1,1409.7L1762.4,1419.8 M1745.1,1409.7L1758.2,1392.9 M1745.1,1409.7L1723.4,1409.1 M1764.1,1404.8L1754.2,1396.3 M1764.1,1404.8L1765.8,1390.9 M1764.1,1404.8L1770,1417.9 M1764.1,1404.8L1757.6,1422 M1764.1,1404.8L1782.4,1413.7 M1764.1,1404.8L1742.6,1401.7 M1764.1,1404.8L1777.4,1385.5 M1783.2,1399.9L1790,1411.8 M1783.2,1399.9L1773.5,1388.9 M1783.2,1399.9L1785.1,1383.5 M1783.2,1399.9L1777.6,1415.9 M1783.2,1399.9L1802.4,1407.7 M1783.2,1399.9L1761.9,1394.4 M1802.3,1395L1810,1405.7 M1802.3,1395L1797.7,1409.8 M1802.3,1395L1792.7,1381.6 M1802.3,1395L1781.1,1387 M1821.4,1390.1L1817.7,1403.7 M1821.4,1390.1L1840,1396.3 M1821.4,1390.1L1800.3,1379.6 M1821.4,1390.1L1819.5,1366.6 M1821.4,1390.1L1805.3,1407.9 M1788.4,1444.8L1779.7,1433.9 M1788.4,1444.8L1792.1,1429.7 M1788.4,1444.8L1767.3,1438 M1788.4,1444.8L1804.5,1425.6 M1796.6,1443.9L1795.4,1429.4 M1796.6,1443.9L1783,1433.5 M1796.6,1443.9L1807.8,1425.3 M1796.6,1443.9L1770.6,1437.6 M1804.9,1443L1798.7,1429 M1804.9,1443L1811.1,1424.9 M1804.9,1443L1786.3,1433.2 M1813.1,1442.1L1802,1428.7 M1813.1,1442.1L1814.4,1424.5 M1813.1,1442.1L1789.6,1432.8 M1821.4,1441.3L1817.7,1424.2 M1821.4,1441.3L1805.3,1428.3 M1829.6,1440.4L1821,1423.8 M1829.6,1440.4L1808.6,1428 M1829.6,1440.4L1843.3,1416.4 M1837.9,1439.5L1824.3,1423.5 M1837.9,1439.5L1846.6,1416.1 M1837.9,1439.5L1811.9,1427.6 M1846.1,1438.6L1849.9,1415.7 M1846.1,1438.6L1827.6,1423.1 M1819.3,1489.2L1819.6,1473.8 M1819.3,1489.2L1814.2,1474.5 M1819.3,1489.2L1824.9,1473.1 M1819.3,1489.2L1808.9,1475.3 M1825.2,1489.2L1821.9,1473.8 M1825.2,1489.2L1827.2,1473.1 M1825.2,1489.2L1816.6,1474.5 M1825.2,1489.2L1832.6,1472.3 M1831,1489.2L1829.6,1473.1 M1831,1489.2L1824.2,1473.8 M1831,1489.2L1834.9,1472.3 M1831,1489.2L1818.9,1474.5 M1836.9,1489.2L1831.9,1473.1 M1836.9,1489.2L1837.2,1472.3 M1836.9,1489.2L1826.6,1473.8 M1836.9,1489.2L1842.6,1471.6 M1842.7,1489.2L1839.6,1472.3 M1842.7,1489.2L1844.9,1471.6 M1842.7,1489.2L1834.2,1473.1 M1842.7,1489.2L1850.2,1470.8 M1848.6,1489.2L1847.2,1471.6 M1848.6,1489.2L1841.9,1472.3 M1848.6,1489.2L1852.6,1470.8 M1848.6,1489.2L1836.6,1473.1 M1854.4,1489.2L1849.6,1471.6 M1854.4,1489.2L1854.9,1470.8 M1854.4,1489.2L1844.2,1472.3 M1854.4,1489.2L1860.2,1470.1 M1835.8,1540.7L1833.5,1522.7 M1835.8,1540.7L1838.9,1522.5 M1835.8,1540.7L1828.1,1522.9 M1835.8,1540.7L1844.3,1522.2 M1842,1540.4L1841.4,1522.3 M1842,1540.4L1836,1522.6 M1842,1540.4L1846.8,1522.1 M1842,1540.4L1830.6,1522.8 M1848.2,1540L1849.3,1522 M1848.2,1540L1843.9,1522.2 M1848.2,1540L1854.7,1521.7 M1848.2,1540L1838.5,1522.4 M1854.4,1539.7L1851.8,1521.8 M1854.4,1539.7L1857.2,1521.6 M1854.4,1539.7L1846.4,1522.1 M1854.4,1539.7L1862.6,1521.4 M1842,1590.2L1837.1,1569.2 M1842,1590.2L1853.2,1571.7 M1842,1590.2L1832.9,1569.6 M1842,1590.2L1857.5,1572.3 M1847.2,1590.2L1855.2,1571.7 M1847.2,1590.2L1859.6,1572.3 M1847.2,1590.2L1839.1,1569.2 M1847.2,1590.2L1835,1569.6 M1852.3,1590.2L1857.3,1571.7 M1852.3,1590.2L1861.6,1572.3 M1852.3,1590.2L1866,1572.9 M1852.3,1590.2L1841.2,1569.2" stroke="#5cc4cc" stroke-width="5.2" fill="none"/><path d="M1623.3,1345.6L1629.5,1353 M1609.7,1356.1L1606.8,1370.5 M1637.4,1338.1L1652.9,1340.6 M1647.3,1332.9L1652.9,1340.6 M1633.2,1340.3L1629.5,1353 M1661.3,1325.5L1676.3,1328.2 M1671.2,1320.3L1676.3,1328.2 M1657.2,1327.7L1652.9,1340.6 M1685.2,1312.8L1699.7,1315.9 M1695.1,1307.6L1699.7,1315.9 M1681.1,1315L1676.3,1328.2 M1708.1,1287.2L1721.3,1281.8 M1634.5,1358.8L1629.5,1353 M1652.4,1379.8L1659.4,1388.1 M1648.5,1351.3L1652.9,1340.6 M1620.9,1369.3L1606.8,1370.5 M1665.6,1372.7L1681.4,1376.2 M1658.1,1346.5L1652.9,1340.6 M1675.2,1367.8L1681.4,1376.2 M1672.1,1339.1L1676.3,1328.2 M1662,1375L1659.4,1388.1 M1644.1,1353.9L1629.5,1353 M1688.3,1360.7L1703.3,1364.3 M1681.7,1334.2L1676.3,1328.2 M1697.9,1355.9L1703.3,1364.3 M1695.7,1326.8L1699.7,1315.9 M1684.8,1363L1681.4,1376.2 M1711.1,1348.8L1725.2,1352.5 M1667.7,1341.6L1652.9,1340.6 M1705.3,1321.9L1699.7,1315.9 M1720.7,1343.9L1725.2,1352.5 M1733.8,1336.8L1747.1,1340.6 M1707.5,1351L1703.3,1364.3 M1691.3,1329.4L1676.3,1328.2 M1743.4,1331.9L1747.1,1340.6 M1758.9,1314.6L1772.9,1311.7 M1730.2,1339.1L1725.2,1352.5 M1714.9,1317.1L1699.7,1315.9 M1727.9,1296.7L1721.3,1281.8 M1687,1380.1L1681.4,1376.2 M1700.2,1373L1703.3,1364.3 M1703.6,1399.6L1708.9,1408.7 M1715.2,1394.2L1728.3,1399.7 M1673.9,1387.2L1659.4,1388.1 M1709,1369.3L1703.3,1364.3 M1724.1,1390.5L1728.3,1399.7 M1722.2,1362.2L1725.2,1352.5 M1735.7,1385.1L1747.6,1390.6 M1712.5,1395.9L1708.9,1408.7 M1695.9,1376.4L1681.4,1376.2 M1731.1,1358.5L1725.2,1352.5 M1744.5,1381.4L1747.6,1390.6 M1744.2,1351.3L1747.1,1340.6 M1756.1,1375.9L1767,1381.6 M1732.9,1386.8L1728.3,1399.7 M1717.9,1365.6L1703.3,1364.3 M1753.1,1347.6L1747.1,1340.6 M1765,1372.2L1767,1381.6 M1776.6,1366.8L1786.3,1372.6 M1753.4,1377.6L1747.6,1390.6 M1739.9,1354.7L1725.2,1352.5 M1785.5,1363.1L1786.3,1372.6 M1804.7,1350.1L1818.3,1350.9 M1773.9,1368.5L1767,1381.6 M1762,1343.9L1747.1,1340.6 M1777.4,1326.6L1772.9,1311.7 M1746.6,1398.3L1747.6,1390.6 M1735,1403.7L1728.3,1399.7 M1750,1424L1753.3,1433.4 M1762.4,1419.8L1773.9,1426.6 M1758.2,1392.9L1767,1381.6 M1723.4,1409.1L1708.9,1408.7 M1754.2,1396.3L1747.6,1390.6 M1765.8,1390.9L1767,1381.6 M1770,1417.9L1773.9,1426.6 M1757.6,1422L1753.3,1433.4 M1782.4,1413.7L1794.6,1419.7 M1742.6,1401.7L1728.3,1399.7 M1777.4,1385.5L1786.3,1372.6 M1790,1411.8L1794.6,1419.7 M1773.5,1388.9L1767,1381.6 M1785.1,1383.5L1786.3,1372.6 M1777.6,1415.9L1773.9,1426.6 M1802.4,1407.7L1815.2,1412.8 M1761.9,1394.4L1747.6,1390.6 M1810,1405.7L1815.2,1412.8 M1797.7,1409.8L1794.6,1419.7 M1792.7,1381.6L1786.3,1372.6 M1781.1,1387L1767,1381.6 M1817.7,1403.7L1815.2,1412.8 M1840,1396.3L1852.3,1400.4 M1800.3,1379.6L1786.3,1372.6 M1819.5,1366.6L1818.3,1350.9 M1805.3,1407.9L1794.6,1419.7 M1779.7,1433.9L1773.9,1426.6 M1792.1,1429.7L1794.6,1419.7 M1767.3,1438L1753.3,1433.4 M1804.5,1425.6L1815.2,1412.8 M1795.4,1429.4L1794.6,1419.7 M1783,1433.5L1773.9,1426.6 M1807.8,1425.3L1815.2,1412.8 M1770.6,1437.6L1753.3,1433.4 M1798.7,1429L1794.6,1419.7 M1811.1,1424.9L1815.2,1412.8 M1786.3,1433.2L1773.9,1426.6 M1802,1428.7L1794.6,1419.7 M1814.4,1424.5L1815.2,1412.8 M1789.6,1432.8L1773.9,1426.6 M1817.7,1424.2L1815.2,1412.8 M1805.3,1428.3L1794.6,1419.7 M1821,1423.8L1815.2,1412.8 M1808.6,1428L1794.6,1419.7 M1843.3,1416.4L1852.3,1400.4 M1824.3,1423.5L1815.2,1412.8 M1846.6,1416.1L1852.3,1400.4 M1811.9,1427.6L1794.6,1419.7 M1849.9,1415.7L1852.3,1400.4 M1827.6,1423.1L1815.2,1412.8 M1819.6,1473.8L1819.7,1463.6 M1814.2,1474.5L1810.9,1464.8 M1824.9,1473.1L1828.6,1462.3 M1808.9,1475.3L1802,1466 M1821.9,1473.8L1819.7,1463.6 M1827.2,1473.1L1828.6,1462.3 M1816.6,1474.5L1810.9,1464.8 M1832.6,1472.3L1837.5,1461.1 M1829.6,1473.1L1828.6,1462.3 M1824.2,1473.8L1819.7,1463.6 M1834.9,1472.3L1837.5,1461.1 M1818.9,1474.5L1810.9,1464.8 M1831.9,1473.1L1828.6,1462.3 M1837.2,1472.3L1837.5,1461.1 M1826.6,1473.8L1819.7,1463.6 M1842.6,1471.6L1846.4,1459.9 M1839.6,1472.3L1837.5,1461.1 M1844.9,1471.6L1846.4,1459.9 M1834.2,1473.1L1828.6,1462.3 M1850.2,1470.8L1855.2,1458.6 M1847.2,1471.6L1846.4,1459.9 M1841.9,1472.3L1837.5,1461.1 M1852.6,1470.8L1855.2,1458.6 M1836.6,1473.1L1828.6,1462.3 M1849.6,1471.6L1846.4,1459.9 M1854.9,1470.8L1855.2,1458.6 M1844.2,1472.3L1837.5,1461.1 M1860.2,1470.1L1864.1,1457.4 M1833.5,1522.7L1832,1510.7 M1838.9,1522.5L1841,1510.3 M1828.1,1522.9L1822.9,1511.1 M1844.3,1522.2L1850,1509.9 M1841.4,1522.3L1841,1510.3 M1836,1522.6L1832,1510.7 M1846.8,1522.1L1850,1509.9 M1830.6,1522.8L1822.9,1511.1 M1849.3,1522L1850,1509.9 M1843.9,1522.2L1841,1510.3 M1854.7,1521.7L1859,1509.5 M1838.5,1522.4L1832,1510.7 M1851.8,1521.8L1850,1509.9 M1857.2,1521.6L1859,1509.5 M1846.4,1522.1L1841,1510.3 M1862.6,1521.4L1868.1,1509.1 M1837.1,1569.2L1833.8,1555.2 M1853.2,1571.7L1860.6,1559.3 M1832.9,1569.6L1826.9,1555.9 M1857.5,1572.3L1867.8,1560.3 M1855.2,1571.7L1860.6,1559.3 M1859.6,1572.3L1867.8,1560.3 M1839.1,1569.2L1833.8,1555.2 M1835,1569.6L1826.9,1555.9 M1857.3,1571.7L1860.6,1559.3 M1861.6,1572.3L1867.8,1560.3 M1866,1572.9L1875,1561.4 M1841.2,1569.2L1833.8,1555.2" stroke="#e8dc10" stroke-width="5.2" fill="none"/><circle cx="1614" cy="1334.4" r="8.8" fill="url(#gT)"/><circle cx="1638.8" cy="1321.4" r="8.8" fill="url(#gT)"/><circle cx="1663.6" cy="1308.3" r="8.8" fill="url(#gT)"/><circle cx="1688.3" cy="1295.2" r="8.8" fill="url(#gT)"/><circle cx="1641.9" cy="1367.4" r="8.8" fill="url(#gT)"/><circle cx="1665.9" cy="1355.3" r="8.8" fill="url(#gT)"/><circle cx="1689.9" cy="1343.2" r="8.8" fill="url(#gT)"/><circle cx="1713.8" cy="1331.1" r="8.8" fill="url(#gT)"/><circle cx="1737.8" cy="1318.9" r="8.8" fill="url(#gT)"/><circle cx="1695.5" cy="1386" r="8.8" fill="url(#gT)"/><circle cx="1717.7" cy="1376.7" r="8.8" fill="url(#gT)"/><circle cx="1739.9" cy="1367.4" r="8.8" fill="url(#gT)"/><circle cx="1762.1" cy="1358.1" r="8.8" fill="url(#gT)"/><circle cx="1784.3" cy="1348.9" r="8.8" fill="url(#gT)"/><circle cx="1745.1" cy="1409.7" r="8.8" fill="url(#gT)"/><circle cx="1764.1" cy="1404.8" r="8.8" fill="url(#gT)"/><circle cx="1783.2" cy="1399.9" r="8.8" fill="url(#gT)"/><circle cx="1802.3" cy="1395" r="8.8" fill="url(#gT)"/><circle cx="1821.4" cy="1390.1" r="8.8" fill="url(#gT)"/><circle cx="1788.4" cy="1444.8" r="8.8" fill="url(#gT)"/><circle cx="1796.6" cy="1443.9" r="8.8" fill="url(#gT)"/><circle cx="1804.9" cy="1443" r="8.8" fill="url(#gT)"/><circle cx="1813.1" cy="1442.1" r="8.8" fill="url(#gT)"/><circle cx="1821.4" cy="1441.3" r="8.8" fill="url(#gT)"/><circle cx="1829.6" cy="1440.4" r="8.8" fill="url(#gT)"/><circle cx="1837.9" cy="1439.5" r="8.8" fill="url(#gT)"/><circle cx="1846.1" cy="1438.6" r="8.8" fill="url(#gT)"/><circle cx="1819.3" cy="1489.2" r="8.8" fill="url(#gT)"/><circle cx="1825.2" cy="1489.2" r="8.8" fill="url(#gT)"/><circle cx="1831" cy="1489.2" r="8.8" fill="url(#gT)"/><circle cx="1836.9" cy="1489.2" r="8.8" fill="url(#gT)"/><circle cx="1842.7" cy="1489.2" r="8.8" fill="url(#gT)"/><circle cx="1848.6" cy="1489.2" r="8.8" fill="url(#gT)"/><circle cx="1854.4" cy="1489.2" r="8.8" fill="url(#gT)"/><circle cx="1835.8" cy="1540.7" r="8.8" fill="url(#gT)"/><circle cx="1842" cy="1540.4" r="8.8" fill="url(#gT)"/><circle cx="1848.2" cy="1540" r="8.8" fill="url(#gT)"/><circle cx="1854.4" cy="1539.7" r="8.8" fill="url(#gT)"/><circle cx="1842" cy="1590.2" r="8.8" fill="url(#gT)"/><circle cx="1847.2" cy="1590.2" r="8.8" fill="url(#gT)"/><circle cx="1852.3" cy="1590.2" r="8.8" fill="url(#gT)"/><circle cx="1721.3" cy="1281.8" r="9.4" fill="url(#gY)"/><circle cx="1772.9" cy="1311.7" r="9.4" fill="url(#gY)"/><circle cx="1818.3" cy="1350.9" r="9.4" fill="url(#gY)"/><circle cx="1852.3" cy="1400.4" r="9.4" fill="url(#gY)"/><circle cx="1606.8" cy="1370.5" r="9.4" fill="url(#gY)"/><circle cx="1629.5" cy="1353" r="9.4" fill="url(#gY)"/><circle cx="1652.9" cy="1340.6" r="9.4" fill="url(#gY)"/><circle cx="1676.3" cy="1328.2" r="9.4" fill="url(#gY)"/><circle cx="1699.7" cy="1315.9" r="9.4" fill="url(#gY)"/><circle cx="1659.4" cy="1388.1" r="9.4" fill="url(#gY)"/><circle cx="1681.4" cy="1376.2" r="9.4" fill="url(#gY)"/><circle cx="1703.3" cy="1364.3" r="9.4" fill="url(#gY)"/><circle cx="1725.2" cy="1352.5" r="9.4" fill="url(#gY)"/><circle cx="1747.1" cy="1340.6" r="9.4" fill="url(#gY)"/><circle cx="1708.9" cy="1408.7" r="9.4" fill="url(#gY)"/><circle cx="1728.3" cy="1399.7" r="9.4" fill="url(#gY)"/><circle cx="1747.6" cy="1390.6" r="9.4" fill="url(#gY)"/><circle cx="1767" cy="1381.6" r="9.4" fill="url(#gY)"/><circle cx="1786.3" cy="1372.6" r="9.4" fill="url(#gY)"/><circle cx="1753.3" cy="1433.4" r="9.4" fill="url(#gY)"/><circle cx="1773.9" cy="1426.6" r="9.4" fill="url(#gY)"/><circle cx="1794.6" cy="1419.7" r="9.4" fill="url(#gY)"/><circle cx="1815.2" cy="1412.8" r="9.4" fill="url(#gY)"/><circle cx="1784.3" cy="1468.5" r="9.4" fill="url(#gY)"/><circle cx="1793.1" cy="1467.3" r="9.4" fill="url(#gY)"/><circle cx="1802" cy="1466" r="9.4" fill="url(#gY)"/><circle cx="1810.9" cy="1464.8" r="9.4" fill="url(#gY)"/><circle cx="1819.7" cy="1463.6" r="9.4" fill="url(#gY)"/><circle cx="1828.6" cy="1462.3" r="9.4" fill="url(#gY)"/><circle cx="1837.5" cy="1461.1" r="9.4" fill="url(#gY)"/><circle cx="1846.4" cy="1459.9" r="9.4" fill="url(#gY)"/><circle cx="1855.2" cy="1458.6" r="9.4" fill="url(#gY)"/><circle cx="1864.1" cy="1457.4" r="9.4" fill="url(#gY)"/><circle cx="1873" cy="1456.1" r="9.4" fill="url(#gY)"/><circle cx="1804.9" cy="1511.8" r="9.4" fill="url(#gY)"/><circle cx="1813.9" cy="1511.5" r="9.4" fill="url(#gY)"/><circle cx="1822.9" cy="1511.1" r="9.4" fill="url(#gY)"/><circle cx="1832" cy="1510.7" r="9.4" fill="url(#gY)"/><circle cx="1841" cy="1510.3" r="9.4" fill="url(#gY)"/><circle cx="1850" cy="1509.9" r="9.4" fill="url(#gY)"/><circle cx="1859" cy="1509.5" r="9.4" fill="url(#gY)"/><circle cx="1868.1" cy="1509.1" r="9.4" fill="url(#gY)"/><circle cx="1877.1" cy="1508.8" r="9.4" fill="url(#gY)"/><circle cx="1813.1" cy="1557.2" r="9.4" fill="url(#gY)"/><circle cx="1820" cy="1556.5" r="9.4" fill="url(#gY)"/><circle cx="1826.9" cy="1555.9" r="9.4" fill="url(#gY)"/><circle cx="1833.8" cy="1555.2" r="9.4" fill="url(#gY)"/><circle cx="1860.6" cy="1559.3" r="9.4" fill="url(#gY)"/><circle cx="1867.8" cy="1560.3" r="9.4" fill="url(#gY)"/><circle cx="1875" cy="1561.4" r="9.4" fill="url(#gY)"/><circle cx="1815.2" cy="1606.8" r="9.4" fill="url(#gY)"/><circle cx="1821.4" cy="1607.8" r="9.4" fill="url(#gY)"/><circle cx="1827.6" cy="1608.8" r="9.4" fill="url(#gY)"/><circle cx="1860.6" cy="1606.8" r="9.4" fill="url(#gY)"/><circle cx="1865.7" cy="1607.8" r="9.4" fill="url(#gY)"/><circle cx="1870.9" cy="1608.8" r="9.4" fill="url(#gY)"/><path d="M1627,1976L1627.9,1970.8 M1627,1976L1639,1978.4 M1627,1976L1632.9,1962.6 M1627,1976L1638.6,1987.9 M1623.2,1985.3L1626.4,1974.6 M1623.2,1985.3L1637.5,1982.1 M1623.2,1985.3L1637.1,1991.7 M1623.2,1985.3L1634.5,2001.1 M1619,2003.2L1632.9,2008.3 M1619,2003.2L1635.4,1998.8 M1619,2003.2L1632.3,2017.8 M1616.9,2021.2L1631.4,2025 M1616.9,2021.2L1632,2015.5 M1616.9,2021.2L1630.8,2035.7 M1616.9,2042.2L1630.8,2044.1 M1616.9,2042.2L1631.4,2033.4 M1656,2024L1647.1,2026.1 M1656,2024L1647.7,2016.6 M1656,2024L1646.4,2036.8 M1656,2024L1650.2,2007.1 M1656,2024L1675.5,2022.3 M1654,2043L1645.6,2044.4 M1654,2043L1646.3,2033.7 M1654,2043L1646.3,2057.1 M1654,2043L1646.9,2024.2 M1654,2043L1674.1,2041.3 M1682,1985L1687.2,1989 M1682,1985L1689.7,1981.4 M1682,1985L1686.6,1997.8 M1682,1985L1685.6,1965.2 M1680,2004L1685.8,2005.4 M1680,2004L1686.4,1996.6 M1680,2004L1685.1,2014.3 M1680,2004L1688.9,1989 M1677,2025L1683.9,2022.7 M1677,2025L1683.3,2034.1 M1677,2025L1684.6,2013.8 M1673.8,1966.4L1682.3,1957.8 M1673.8,1966.4L1686.4,1974 M1673.8,1966.4L1657.7,1974.6 M1673.8,1966.4L1683.9,1981.6 M1673.8,1966.4L1685.8,1950 M1668.5,1981.1L1655.6,1980.4 M1668.5,1981.1L1681.8,1987.5 M1668.5,1981.1L1684.3,1979.8 M1668.5,1981.1L1655.2,1990 M1668.5,1981.1L1681.2,1996.3 M1667.4,1996.9L1654.8,1996.3 M1667.4,1996.9L1681.3,1993.8 M1667.4,1996.9L1680.7,2002.6 M1667.4,1996.9L1655.2,1986.8 M1667.4,1996.9L1652.2,2005.8 M1667.4,1996.9L1680.1,2011.5 M1667.4,1996.9L1683.8,1986.2 M1663.2,2012.7L1650.5,2012.1 M1663.2,2012.7L1653.1,2002.6 M1663.2,2012.7L1649.9,2021.6 M1663.2,2012.7L1678.4,2017.8 M1663.2,2012.7L1679,2008.9 M1661.1,2035.9L1649.1,2030.9 M1661.1,2035.9L1648.4,2041.6 M1661.1,2035.9L1676.9,2038.4 M1661.1,2035.9L1649.7,2021.4 M1661.1,2035.9L1677.5,2027.1 M1711.7,1970.6L1701.6,1975.6 M1711.7,1970.6L1699,1983.3 M1711.7,1970.6L1697.5,1959.4 M1711.7,1970.6L1730.1,1975 M1705.4,1988.5L1699,1982.8 M1705.4,1988.5L1696.5,1990.4 M1705.4,1988.5L1695.9,1999.2 M1705.4,1988.5L1724.4,1991.7 M1707.5,2010.6L1696.8,2008.1 M1707.5,2010.6L1696.1,2017 M1707.5,2010.6L1697.4,1999.3 M1707.5,2010.6L1723.9,2010 M1707.5,2010.6L1723.3,2018.8 M1707.5,2010.6L1725.2,2000.5 M1724.3,1957.9L1739.7,1956.2 M1724.3,1957.9L1735.1,1970 M1717,1974.8L1703.7,1977.3 M1717,1974.8L1732.2,1976.7 M1717,1974.8L1729,1986.2 M1717,1974.8L1701.2,1984.9 M1715.9,1993.8L1728.6,1993.8 M1715.9,1993.8L1727.3,2003.3 M1715.9,1993.8L1700.7,1992.5 M1715.9,1993.8L1703.2,1984.9 M1715.9,1993.8L1700.1,2001.4 M1715.9,1993.8L1731.7,1984.3 M1712.7,2011.7L1726,2010.4 M1712.7,2011.7L1698.8,2008.5 M1712.7,2011.7L1725.4,2019.3 M1712.7,2011.7L1698.2,2017.4 M1712.7,2011.7L1699.4,1999.7 M1712.7,2011.7L1727.3,2001 M1762,1968L1754.8,1960.2 M1762,1968L1750.2,1974 M1762,1968L1759.2,1952.6 M1760,1990L1749.4,1982.8 M1760,1990L1746.2,1992.3 M1760,1990L1774,1995.6 M1760,1990L1744.9,2001.8 M1766,2004L1776.4,2001.2 M1766,2004L1773.4,2016.1 M1766,2004L1748.6,1997.9 M1766,2004L1747.3,2007.4 M1771.5,1987.1L1778.6,1994.4 M1771.5,1987.1L1754,1981.6 M1771.5,1987.1L1788.2,1977.4 M1780.9,1974.6L1792,1972.4 M1780.9,1974.6L1782.3,1989.4 M1780.9,1974.6L1799.4,1972.4 M1785,1995L1793.6,1980.5 M1785,1995L1781,2012.5 M1810,2012L1811.1,2026.7 M1810,2012L1794,2004.4 M1810,2012L1828.9,2014 M1810,2012L1791,2019.3 M1819.3,2010.5L1832.6,2013.4 M1819.3,2010.5L1814.8,2026.1 M1819.3,2010.5L1835.6,2016.4 M1806,2000L1792.4,1999.6 M1806,2000L1809.5,1982.5 M1806,2000L1802,1982.5 M1834,2058L1829.6,2072.6 M1834,2058L1825.9,2071.1 M1834,2058L1850.2,2065.8 M1834,2058L1820.7,2045.1 M1841.5,2060L1853.2,2066.6 M1841.5,2060L1832.6,2073.4 M1841.5,2060L1856.4,2068.2 M1841.5,2060L1828.9,2071.9 M1842,2112L1834.3,2123.9 M1842,2112L1830,2121.6 M1842,2112L1855.2,2121.6 M1842,2112L1832.8,2094.2 M1849,2112L1858,2121.6 M1849,2112L1837.1,2123.9 M1849,2112L1862.4,2123.2 M1849,2112L1832.8,2121.6 M1839,2165.3L1831.6,2175 M1839,2165.3L1825.7,2172 M1839,2165.3L1852.4,2174.2 M1851.5,2162.8L1857.4,2173.2 M1851.5,2162.8L1864.1,2174 M1851.5,2162.8L1836.6,2174" stroke="#5cc4cc" stroke-width="5" fill="none"/><path d="M1627.9,1970.8L1628.5,1967.4 M1639,1978.4L1647,1980 M1632.9,1962.6L1636.9,1953.7 M1638.6,1987.9L1646.4,1995.9 M1626.4,1974.6L1628.5,1967.4 M1637.5,1982.1L1647,1980 M1637.1,1991.7L1646.4,1995.9 M1634.5,2001.1L1642.1,2011.7 M1632.9,2008.3L1642.1,2011.7 M1635.4,1998.8L1646.4,1995.9 M1632.3,2017.8L1641.1,2027.5 M1631.4,2025L1641.1,2027.5 M1632,2015.5L1642.1,2011.7 M1630.8,2035.7L1640,2045.4 M1630.8,2044.1L1640,2045.4 M1631.4,2033.4L1641.1,2027.5 M1647.1,2026.1L1641.1,2027.5 M1647.7,2016.6L1642.1,2011.7 M1646.4,2036.8L1640,2045.4 M1650.2,2007.1L1646.4,1995.9 M1675.5,2022.3L1688.5,2021.2 M1645.6,2044.4L1640,2045.4 M1646.3,2033.7L1641.1,2027.5 M1646.3,2057.1L1641.1,2066.5 M1646.9,2024.2L1642.1,2011.7 M1674.1,2041.3L1687.5,2040.1 M1687.2,1989L1690.6,1991.7 M1689.7,1981.4L1694.8,1979 M1686.6,1997.8L1689.6,2006.4 M1685.6,1965.2L1688,1952 M1685.8,2005.4L1689.6,2006.4 M1686.4,1996.6L1690.6,1991.7 M1685.1,2014.3L1688.5,2021.2 M1688.9,1989L1694.8,1979 M1683.9,2022.7L1688.5,2021.2 M1683.3,2034.1L1687.5,2040.1 M1684.6,2013.8L1689.6,2006.4 M1682.3,1957.8L1688,1952 M1686.4,1974L1694.8,1979 M1657.7,1974.6L1647,1980 M1683.9,1981.6L1690.6,1991.7 M1685.8,1950L1693.8,1939 M1655.6,1980.4L1647,1980 M1681.8,1987.5L1690.6,1991.7 M1684.3,1979.8L1694.8,1979 M1655.2,1990L1646.4,1995.9 M1681.2,1996.3L1689.6,2006.4 M1654.8,1996.3L1646.4,1995.9 M1681.3,1993.8L1690.6,1991.7 M1680.7,2002.6L1689.6,2006.4 M1655.2,1986.8L1647,1980 M1652.2,2005.8L1642.1,2011.7 M1680.1,2011.5L1688.5,2021.2 M1683.8,1986.2L1694.8,1979 M1650.5,2012.1L1642.1,2011.7 M1653.1,2002.6L1646.4,1995.9 M1649.9,2021.6L1641.1,2027.5 M1678.4,2017.8L1688.5,2021.2 M1679,2008.9L1689.6,2006.4 M1649.1,2030.9L1641.1,2027.5 M1648.4,2041.6L1640,2045.4 M1676.9,2038.4L1687.5,2040.1 M1649.7,2021.4L1642.1,2011.7 M1677.5,2027.1L1688.5,2021.2 M1701.6,1975.6L1694.8,1979 M1699,1983.3L1690.6,1991.7 M1697.5,1959.4L1688,1952 M1730.1,1975L1742.3,1978 M1699,1982.8L1694.8,1979 M1696.5,1990.4L1690.6,1991.7 M1695.9,1999.2L1689.6,2006.4 M1724.4,1991.7L1737,1993.8 M1696.8,2008.1L1689.6,2006.4 M1696.1,2017L1688.5,2021.2 M1697.4,1999.3L1690.6,1991.7 M1723.9,2010L1734.9,2009.6 M1723.3,2018.8L1733.8,2024.3 M1725.2,2000.5L1737,1993.8 M1739.7,1956.2L1750,1955 M1735.1,1970L1742.3,1978 M1703.7,1977.3L1694.8,1979 M1732.2,1976.7L1742.3,1978 M1729,1986.2L1737,1993.8 M1701.2,1984.9L1690.6,1991.7 M1728.6,1993.8L1737,1993.8 M1727.3,2003.3L1734.9,2009.6 M1700.7,1992.5L1690.6,1991.7 M1703.2,1984.9L1694.8,1979 M1700.1,2001.4L1689.6,2006.4 M1731.7,1984.3L1742.3,1978 M1726,2010.4L1734.9,2009.6 M1698.8,2008.5L1689.6,2006.4 M1725.4,2019.3L1733.8,2024.3 M1698.2,2017.4L1688.5,2021.2 M1699.4,1999.7L1690.6,1991.7 M1727.3,2001L1737,1993.8 M1754.8,1960.2L1750,1955 M1750.2,1974L1742.3,1978 M1759.2,1952.6L1757.3,1942.4 M1749.4,1982.8L1742.3,1978 M1746.2,1992.3L1737,1993.8 M1774,1995.6L1783.3,1999.3 M1744.9,2001.8L1734.9,2009.6 M1776.4,2001.2L1783.3,1999.3 M1773.4,2016.1L1778.4,2024.1 M1748.6,1997.9L1737,1993.8 M1747.3,2007.4L1734.9,2009.6 M1778.6,1994.4L1783.3,1999.3 M1754,1981.6L1742.3,1978 M1788.2,1977.4L1799.4,1970.9 M1792,1972.4L1799.4,1970.9 M1782.3,1989.4L1783.3,1999.3 M1799.4,1972.4L1811.8,1970.9 M1793.6,1980.5L1799.4,1970.9 M1781,2012.5L1778.4,2024.1 M1811.1,2026.7L1811.8,2036.5 M1794,2004.4L1783.3,1999.3 M1828.9,2014L1841.5,2015.4 M1791,2019.3L1778.4,2024.1 M1832.6,2013.4L1841.5,2015.4 M1814.8,2026.1L1811.8,2036.5 M1835.6,2016.4L1846.5,2020.4 M1792.4,1999.6L1783.3,1999.3 M1809.5,1982.5L1811.8,1970.9 M1802,1982.5L1799.4,1970.9 M1829.6,2072.6L1826.7,2082.3 M1825.9,2071.1L1820.5,2079.8 M1850.2,2065.8L1861,2071 M1820.7,2045.1L1811.8,2036.5 M1853.2,2066.6L1861,2071 M1832.6,2073.4L1826.7,2082.3 M1856.4,2068.2L1866.3,2073.7 M1828.9,2071.9L1820.5,2079.8 M1834.3,2123.9L1829.2,2131.9 M1830,2121.6L1822,2128 M1855.2,2121.6L1864,2128 M1832.8,2094.2L1826.7,2082.3 M1858,2121.6L1864,2128 M1837.1,2123.9L1829.2,2131.9 M1862.4,2123.2L1871.3,2130.6 M1832.8,2121.6L1822,2128 M1831.6,2175L1826.7,2181.4 M1825.7,2172L1816.8,2176.4 M1852.4,2174.2L1861.4,2180.2 M1857.4,2173.2L1861.4,2180.2 M1864.1,2174L1872.5,2181.4 M1836.6,2174L1826.7,2181.4" stroke="#e8dc10" stroke-width="5" fill="none"/><circle cx="1627" cy="1976" r="9.3" fill="url(#gT)"/><circle cx="1623.2" cy="1985.3" r="9.3" fill="url(#gT)"/><circle cx="1619" cy="2003.2" r="9.3" fill="url(#gT)"/><circle cx="1616.9" cy="2021.2" r="9.3" fill="url(#gT)"/><circle cx="1616.9" cy="2042.2" r="9.3" fill="url(#gT)"/><circle cx="1656" cy="2024" r="9.3" fill="url(#gT)"/><circle cx="1654" cy="2043" r="9.3" fill="url(#gT)"/><circle cx="1682" cy="1985" r="9.3" fill="url(#gT)"/><circle cx="1680" cy="2004" r="9.3" fill="url(#gT)"/><circle cx="1677" cy="2025" r="9.3" fill="url(#gT)"/><circle cx="1673.8" cy="1966.4" r="9.3" fill="url(#gT)"/><circle cx="1668.5" cy="1981.1" r="9.3" fill="url(#gT)"/><circle cx="1667.4" cy="1996.9" r="9.3" fill="url(#gT)"/><circle cx="1663.2" cy="2012.7" r="9.3" fill="url(#gT)"/><circle cx="1661.1" cy="2035.9" r="9.3" fill="url(#gT)"/><circle cx="1711.7" cy="1970.6" r="9.3" fill="url(#gT)"/><circle cx="1705.4" cy="1988.5" r="9.3" fill="url(#gT)"/><circle cx="1707.5" cy="2010.6" r="9.3" fill="url(#gT)"/><circle cx="1724.3" cy="1957.9" r="9.3" fill="url(#gT)"/><circle cx="1717" cy="1974.8" r="9.3" fill="url(#gT)"/><circle cx="1715.9" cy="1993.8" r="9.3" fill="url(#gT)"/><circle cx="1712.7" cy="2011.7" r="9.3" fill="url(#gT)"/><circle cx="1762" cy="1968" r="9.3" fill="url(#gT)"/><circle cx="1760" cy="1990" r="9.3" fill="url(#gT)"/><circle cx="1766" cy="2004" r="9.3" fill="url(#gT)"/><circle cx="1771.5" cy="1987.1" r="9.3" fill="url(#gT)"/><circle cx="1780.9" cy="1974.6" r="9.3" fill="url(#gT)"/><circle cx="1785" cy="1995" r="9.3" fill="url(#gT)"/><circle cx="1810" cy="2012" r="9.3" fill="url(#gT)"/><circle cx="1819.3" cy="2010.5" r="9.3" fill="url(#gT)"/><circle cx="1806" cy="2000" r="9.3" fill="url(#gT)"/><circle cx="1834" cy="2058" r="9.3" fill="url(#gT)"/><circle cx="1841.5" cy="2060" r="9.3" fill="url(#gT)"/><circle cx="1842" cy="2112" r="9.3" fill="url(#gT)"/><circle cx="1849" cy="2112" r="9.3" fill="url(#gT)"/><circle cx="1839" cy="2165.3" r="9.3" fill="url(#gT)"/><circle cx="1851.5" cy="2162.8" r="9.3" fill="url(#gT)"/><circle cx="1636.9" cy="1953.7" r="9.8" fill="url(#gY)"/><circle cx="1628.5" cy="1967.4" r="9.8" fill="url(#gY)"/><circle cx="1647" cy="1980" r="9.8" fill="url(#gY)"/><circle cx="1646.4" cy="1995.9" r="9.8" fill="url(#gY)"/><circle cx="1642.1" cy="2011.7" r="9.8" fill="url(#gY)"/><circle cx="1641.1" cy="2027.5" r="9.8" fill="url(#gY)"/><circle cx="1640" cy="2045.4" r="9.8" fill="url(#gY)"/><circle cx="1641.1" cy="2066.5" r="9.8" fill="url(#gY)"/><circle cx="1693.8" cy="1939" r="9.8" fill="url(#gY)"/><circle cx="1688" cy="1952" r="9.8" fill="url(#gY)"/><circle cx="1694.8" cy="1979" r="9.8" fill="url(#gY)"/><circle cx="1690.6" cy="1991.7" r="9.8" fill="url(#gY)"/><circle cx="1689.6" cy="2006.4" r="9.8" fill="url(#gY)"/><circle cx="1688.5" cy="2021.2" r="9.8" fill="url(#gY)"/><circle cx="1687.5" cy="2040.1" r="9.8" fill="url(#gY)"/><circle cx="1757.3" cy="1942.4" r="9.8" fill="url(#gY)"/><circle cx="1750" cy="1955" r="9.8" fill="url(#gY)"/><circle cx="1742.3" cy="1978" r="9.8" fill="url(#gY)"/><circle cx="1737" cy="1993.8" r="9.8" fill="url(#gY)"/><circle cx="1734.9" cy="2009.6" r="9.8" fill="url(#gY)"/><circle cx="1733.8" cy="2024.3" r="9.8" fill="url(#gY)"/><circle cx="1799.4" cy="1970.9" r="9.8" fill="url(#gY)"/><circle cx="1811.8" cy="1970.9" r="9.8" fill="url(#gY)"/><circle cx="1783.3" cy="1999.3" r="9.8" fill="url(#gY)"/><circle cx="1778.4" cy="2024.1" r="9.8" fill="url(#gY)"/><circle cx="1841.5" cy="2015.4" r="9.8" fill="url(#gY)"/><circle cx="1846.5" cy="2020.4" r="9.8" fill="url(#gY)"/><circle cx="1811.8" cy="2036.5" r="9.8" fill="url(#gY)"/><circle cx="1820.5" cy="2079.8" r="9.8" fill="url(#gY)"/><circle cx="1826.7" cy="2082.3" r="9.8" fill="url(#gY)"/><circle cx="1861" cy="2071" r="9.8" fill="url(#gY)"/><circle cx="1866.3" cy="2073.7" r="9.8" fill="url(#gY)"/><circle cx="1822" cy="2128" r="9.8" fill="url(#gY)"/><circle cx="1829.2" cy="2131.9" r="9.8" fill="url(#gY)"/><circle cx="1864" cy="2128" r="9.8" fill="url(#gY)"/><circle cx="1871.3" cy="2130.6" r="9.8" fill="url(#gY)"/><circle cx="1816.8" cy="2176.4" r="9.8" fill="url(#gY)"/><circle cx="1826.7" cy="2181.4" r="9.8" fill="url(#gY)"/><circle cx="1861.4" cy="2180.2" r="9.8" fill="url(#gY)"/><circle cx="1872.5" cy="2181.4" r="9.8" fill="url(#gY)"/></g>
<text x="1339.5" y="98.5" font-size="59.5" font-weight="bold" class="t">10° bending</text>
<text x="1339.5" y="720.7" font-size="59.5" font-weight="bold" class="t">22° bending</text>
<text x="1339.5" y="1265" font-size="59.5" font-weight="bold" class="t">44° bending</text>
<text x="1339.5" y="1808.9" font-size="59.5" font-weight="bold" class="t">75° bending</text>
</svg></body></html>
